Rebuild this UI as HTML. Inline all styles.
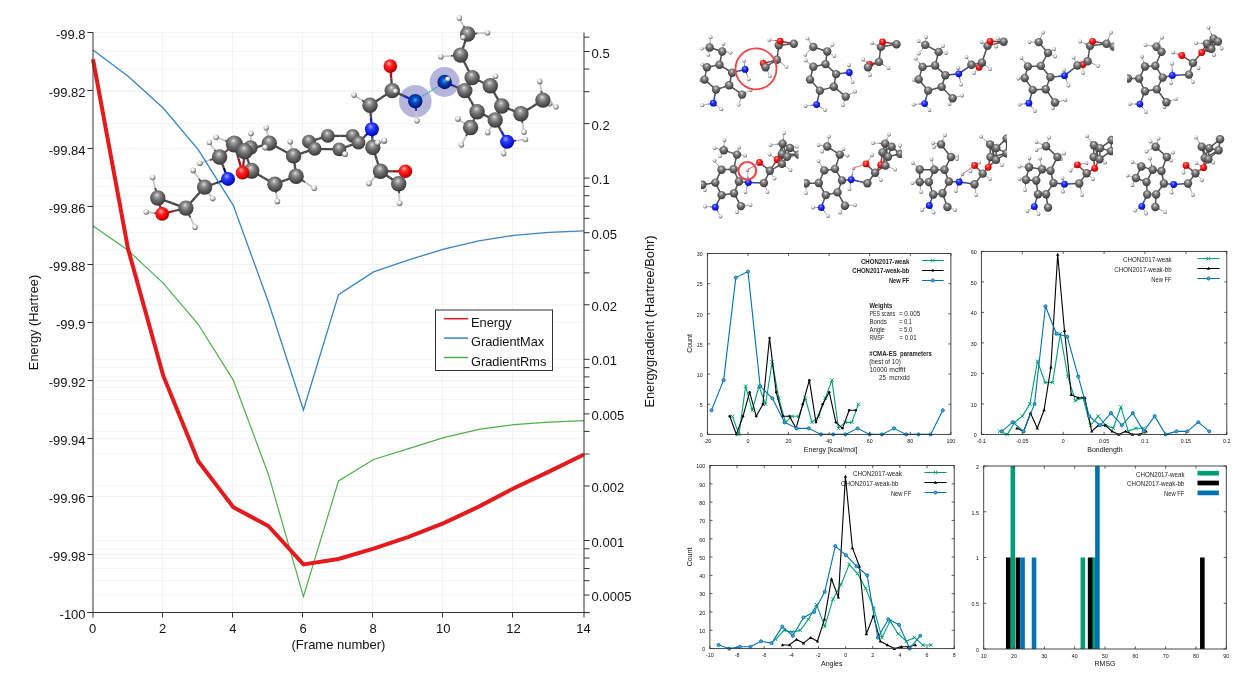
<!DOCTYPE html><html><head><meta charset="utf-8"><title>Frames</title><style>html,body{margin:0;padding:0;background:#fff;overflow:hidden}svg{display:block;will-change:transform}</style></head><body><svg width="1250" height="679" viewBox="0 0 1250 679"><defs>
<radialGradient id="gC" cx="0.45" cy="0.4" r="0.62" fx="0.45" fy="0.3">
 <stop offset="0" stop-color="#eeeeee"/><stop offset="0.16" stop-color="#ababab"/><stop offset="0.48" stop-color="#717171"/><stop offset="0.85" stop-color="#464646"/><stop offset="1" stop-color="#2a2a2a"/></radialGradient>
<radialGradient id="gN" cx="0.42" cy="0.38" r="0.62" fx="0.4" fy="0.3">
 <stop offset="0" stop-color="#9aa6ff"/><stop offset="0.35" stop-color="#2a3cff"/><stop offset="0.8" stop-color="#0a14d8"/><stop offset="1" stop-color="#000a90"/></radialGradient>
<radialGradient id="gM" cx="0.42" cy="0.38" r="0.62" fx="0.4" fy="0.3">
 <stop offset="0" stop-color="#9aa6ff"/><stop offset="0.35" stop-color="#2a3cff"/><stop offset="0.8" stop-color="#0a14d8"/><stop offset="1" stop-color="#000a90"/></radialGradient>
<radialGradient id="gO" cx="0.42" cy="0.38" r="0.62" fx="0.4" fy="0.3">
 <stop offset="0" stop-color="#ffb0b0"/><stop offset="0.35" stop-color="#ff2a2a"/><stop offset="0.8" stop-color="#e00000"/><stop offset="1" stop-color="#900000"/></radialGradient>
<radialGradient id="gH" cx="0.42" cy="0.38" r="0.62" fx="0.4" fy="0.3">
 <stop offset="0" stop-color="#ffffff"/><stop offset="0.4" stop-color="#e8e8e8"/><stop offset="0.75" stop-color="#a0a0a0"/><stop offset="1" stop-color="#555"/></radialGradient>
<radialGradient id="gD" cx="0.45" cy="0.4" r="0.62" fx="0.5" fy="0.42">
 <stop offset="0" stop-color="#30b8ff"/><stop offset="0.3" stop-color="#0a50c8"/><stop offset="0.75" stop-color="#00208a"/><stop offset="1" stop-color="#000c50"/></radialGradient>
</defs><rect width="1250" height="679" fill="#fff"/><g stroke="#f2f2f2" stroke-width="1"><line x1="162.5" y1="32.5" x2="162.5" y2="612.5"/><line x1="232.5" y1="32.5" x2="232.5" y2="612.5"/><line x1="302.5" y1="32.5" x2="302.5" y2="612.5"/><line x1="372.5" y1="32.5" x2="372.5" y2="612.5"/><line x1="442.5" y1="32.5" x2="442.5" y2="612.5"/><line x1="512.5" y1="32.5" x2="512.5" y2="612.5"/><line x1="93" y1="32.5" x2="584" y2="32.5"/><line x1="93" y1="90.5" x2="584" y2="90.5"/><line x1="93" y1="148.5" x2="584" y2="148.5"/><line x1="93" y1="206.5" x2="584" y2="206.5"/><line x1="93" y1="264.5" x2="584" y2="264.5"/><line x1="93" y1="322.5" x2="584" y2="322.5"/><line x1="93" y1="380.5" x2="584" y2="380.5"/><line x1="93" y1="438.5" x2="584" y2="438.5"/><line x1="93" y1="496.5" x2="584" y2="496.5"/><line x1="93" y1="554.5" x2="584" y2="554.5"/></g><g stroke="#f4f4f4" stroke-width="1"><line x1="93" y1="612.6" x2="584" y2="612.6"/><line x1="93" y1="595.04" x2="584" y2="595.04"/><line x1="93" y1="580.69" x2="584" y2="580.69"/><line x1="93" y1="568.56" x2="584" y2="568.56"/><line x1="93" y1="558.06" x2="584" y2="558.06"/><line x1="93" y1="548.79" x2="584" y2="548.79"/><line x1="93" y1="540.5" x2="584" y2="540.5"/><line x1="93" y1="485.96" x2="584" y2="485.96"/><line x1="93" y1="454.05" x2="584" y2="454.05"/><line x1="93" y1="431.42" x2="584" y2="431.42"/><line x1="93" y1="413.86" x2="584" y2="413.86"/><line x1="93" y1="399.51" x2="584" y2="399.51"/><line x1="93" y1="387.38" x2="584" y2="387.38"/><line x1="93" y1="376.88" x2="584" y2="376.88"/><line x1="93" y1="367.61" x2="584" y2="367.61"/><line x1="93" y1="359.32" x2="584" y2="359.32"/><line x1="93" y1="304.78" x2="584" y2="304.78"/><line x1="93" y1="272.87" x2="584" y2="272.87"/><line x1="93" y1="250.24" x2="584" y2="250.24"/><line x1="93" y1="232.68" x2="584" y2="232.68"/><line x1="93" y1="218.33" x2="584" y2="218.33"/><line x1="93" y1="206.2" x2="584" y2="206.2"/><line x1="93" y1="195.7" x2="584" y2="195.7"/><line x1="93" y1="186.43" x2="584" y2="186.43"/><line x1="93" y1="178.14" x2="584" y2="178.14"/><line x1="93" y1="123.6" x2="584" y2="123.6"/><line x1="93" y1="91.69" x2="584" y2="91.69"/><line x1="93" y1="69.06" x2="584" y2="69.06"/><line x1="93" y1="51.5" x2="584" y2="51.5"/><line x1="93" y1="37.15" x2="584" y2="37.15"/></g><g><circle cx="415.3" cy="101.2" r="16.3" fill="#a9a9d6" fill-opacity="0.85"/><circle cx="444.6" cy="82" r="15" fill="#a9a9d6" fill-opacity="0.85"/><line x1="418" y1="99" x2="442" y2="84" stroke="#2aa4c8" stroke-width="1.4" stroke-dasharray="1.6 1"/><line x1="157.8" y1="198" x2="160" y2="205.95" stroke="#4a4a4a" stroke-width="2.3"/><line x1="162.2" y1="213.9" x2="160" y2="205.95" stroke="#a81414" stroke-width="2.3"/><line x1="157.8" y1="198" x2="171.85" y2="203.05" stroke="#4a4a4a" stroke-width="2.3"/><line x1="185.9" y1="208.1" x2="171.85" y2="203.05" stroke="#4a4a4a" stroke-width="2.3"/><line x1="162.2" y1="213.9" x2="174.05" y2="211" stroke="#a81414" stroke-width="2.3"/><line x1="185.9" y1="208.1" x2="174.05" y2="211" stroke="#4a4a4a" stroke-width="2.3"/><line x1="185.9" y1="208.1" x2="195.25" y2="197.6" stroke="#4a4a4a" stroke-width="2.3"/><line x1="204.6" y1="187.1" x2="195.25" y2="197.6" stroke="#4a4a4a" stroke-width="2.3"/><line x1="204.6" y1="187.1" x2="216.3" y2="183" stroke="#4a4a4a" stroke-width="2.3"/><line x1="228" y1="178.9" x2="216.3" y2="183" stroke="#0a0a70" stroke-width="2.3"/><line x1="228" y1="178.9" x2="223.8" y2="167.95" stroke="#0a0a70" stroke-width="2.3"/><line x1="219.6" y1="157" x2="223.8" y2="167.95" stroke="#4a4a4a" stroke-width="2.3"/><line x1="219.6" y1="157" x2="226.95" y2="150.5" stroke="#4a4a4a" stroke-width="2.3"/><line x1="234.3" y1="144" x2="226.95" y2="150.5" stroke="#4a4a4a" stroke-width="2.3"/><line x1="234.3" y1="144" x2="239.55" y2="147.65" stroke="#4a4a4a" stroke-width="2.3"/><line x1="244.8" y1="151.3" x2="239.55" y2="147.65" stroke="#4a4a4a" stroke-width="2.3"/><line x1="234.3" y1="144" x2="238.4" y2="158.35" stroke="#4a4a4a" stroke-width="2.3"/><line x1="242.5" y1="172.7" x2="238.4" y2="158.35" stroke="#a81414" stroke-width="2.3"/><line x1="244.8" y1="151.3" x2="243.65" y2="162" stroke="#4a4a4a" stroke-width="2.3"/><line x1="242.5" y1="172.7" x2="243.65" y2="162" stroke="#a81414" stroke-width="2.3"/><line x1="244.8" y1="151.3" x2="248.15" y2="161.05" stroke="#4a4a4a" stroke-width="2.3"/><line x1="251.5" y1="170.8" x2="248.15" y2="161.05" stroke="#4a4a4a" stroke-width="2.3"/><line x1="251.5" y1="170.8" x2="263.2" y2="177.5" stroke="#4a4a4a" stroke-width="2.3"/><line x1="274.9" y1="184.2" x2="263.2" y2="177.5" stroke="#4a4a4a" stroke-width="2.3"/><line x1="274.9" y1="184.2" x2="285.5" y2="180.2" stroke="#4a4a4a" stroke-width="2.3"/><line x1="296.1" y1="176.2" x2="285.5" y2="180.2" stroke="#4a4a4a" stroke-width="2.3"/><line x1="296.1" y1="176.2" x2="294.85" y2="166.05" stroke="#4a4a4a" stroke-width="2.3"/><line x1="293.6" y1="155.9" x2="294.85" y2="166.05" stroke="#4a4a4a" stroke-width="2.3"/><line x1="293.6" y1="155.9" x2="281.45" y2="149.5" stroke="#4a4a4a" stroke-width="2.3"/><line x1="269.3" y1="143.1" x2="281.45" y2="149.5" stroke="#4a4a4a" stroke-width="2.3"/><line x1="269.3" y1="143.1" x2="257.05" y2="147.2" stroke="#4a4a4a" stroke-width="2.3"/><line x1="244.8" y1="151.3" x2="257.05" y2="147.2" stroke="#4a4a4a" stroke-width="2.3"/><line x1="293.6" y1="155.9" x2="304.15" y2="152.35" stroke="#4a4a4a" stroke-width="2.3"/><line x1="314.7" y1="148.8" x2="304.15" y2="152.35" stroke="#4a4a4a" stroke-width="2.3"/><line x1="308.9" y1="141.7" x2="311.8" y2="145.25" stroke="#4a4a4a" stroke-width="2.3"/><line x1="314.7" y1="148.8" x2="311.8" y2="145.25" stroke="#4a4a4a" stroke-width="2.3"/><line x1="308.9" y1="141.7" x2="318.35" y2="138.8" stroke="#4a4a4a" stroke-width="2.3"/><line x1="327.8" y1="135.9" x2="318.35" y2="138.8" stroke="#4a4a4a" stroke-width="2.3"/><line x1="327.8" y1="135.9" x2="340.25" y2="135.9" stroke="#4a4a4a" stroke-width="2.3"/><line x1="352.7" y1="135.9" x2="340.25" y2="135.9" stroke="#4a4a4a" stroke-width="2.3"/><line x1="352.7" y1="135.9" x2="355.6" y2="139.25" stroke="#4a4a4a" stroke-width="2.3"/><line x1="358.5" y1="142.6" x2="355.6" y2="139.25" stroke="#4a4a4a" stroke-width="2.3"/><line x1="358.5" y1="142.6" x2="348.9" y2="145.95" stroke="#4a4a4a" stroke-width="2.3"/><line x1="339.3" y1="149.3" x2="348.9" y2="145.95" stroke="#4a4a4a" stroke-width="2.3"/><line x1="339.3" y1="149.3" x2="327" y2="149.05" stroke="#4a4a4a" stroke-width="2.3"/><line x1="314.7" y1="148.8" x2="327" y2="149.05" stroke="#4a4a4a" stroke-width="2.3"/><line x1="358.5" y1="142.6" x2="365.2" y2="135.9" stroke="#4a4a4a" stroke-width="2.3"/><line x1="371.9" y1="129.2" x2="365.2" y2="135.9" stroke="#1c22b8" stroke-width="2.3"/><line x1="371.9" y1="129.2" x2="370.95" y2="117.25" stroke="#1c22b8" stroke-width="2.3"/><line x1="370" y1="105.3" x2="370.95" y2="117.25" stroke="#4a4a4a" stroke-width="2.3"/><line x1="371.9" y1="129.2" x2="372.35" y2="138.3" stroke="#1c22b8" stroke-width="2.3"/><line x1="372.8" y1="147.4" x2="372.35" y2="138.3" stroke="#4a4a4a" stroke-width="2.3"/><line x1="372.8" y1="147.4" x2="376.65" y2="159.35" stroke="#4a4a4a" stroke-width="2.3"/><line x1="380.5" y1="171.3" x2="376.65" y2="159.35" stroke="#4a4a4a" stroke-width="2.3"/><line x1="380.5" y1="171.3" x2="392.95" y2="171.3" stroke="#4a4a4a" stroke-width="2.3"/><line x1="405.4" y1="171.3" x2="392.95" y2="171.3" stroke="#a81414" stroke-width="2.3"/><line x1="380.5" y1="171.3" x2="389.6" y2="177.55" stroke="#4a4a4a" stroke-width="2.3"/><line x1="398.7" y1="183.8" x2="389.6" y2="177.55" stroke="#4a4a4a" stroke-width="2.3"/><line x1="405.4" y1="171.3" x2="402.05" y2="177.55" stroke="#a81414" stroke-width="2.3"/><line x1="398.7" y1="183.8" x2="402.05" y2="177.55" stroke="#4a4a4a" stroke-width="2.3"/><line x1="370" y1="105.3" x2="381.1" y2="97.95" stroke="#4a4a4a" stroke-width="2.3"/><line x1="392.2" y1="90.6" x2="381.1" y2="97.95" stroke="#4a4a4a" stroke-width="2.3"/><line x1="392.2" y1="90.6" x2="391.25" y2="78.35" stroke="#4a4a4a" stroke-width="2.3"/><line x1="390.3" y1="66.1" x2="391.25" y2="78.35" stroke="#a81414" stroke-width="2.3"/><line x1="392.2" y1="90.6" x2="403.75" y2="95.9" stroke="#4a4a4a" stroke-width="2.3"/><line x1="415.3" y1="101.2" x2="403.75" y2="95.9" stroke="#1c22c8" stroke-width="2.3"/><line x1="444.6" y1="82" x2="454.7" y2="86.3" stroke="#1c22c8" stroke-width="2.3"/><line x1="464.8" y1="90.6" x2="454.7" y2="86.3" stroke="#4a4a4a" stroke-width="2.3"/><line x1="464.8" y1="90.6" x2="468.45" y2="84.1" stroke="#4a4a4a" stroke-width="2.3"/><line x1="472.1" y1="77.6" x2="468.45" y2="84.1" stroke="#4a4a4a" stroke-width="2.3"/><line x1="464.8" y1="90.6" x2="470.95" y2="101.2" stroke="#4a4a4a" stroke-width="2.3"/><line x1="477.1" y1="111.8" x2="470.95" y2="101.2" stroke="#4a4a4a" stroke-width="2.3"/><line x1="472.1" y1="77.6" x2="466.35" y2="66.35" stroke="#4a4a4a" stroke-width="2.3"/><line x1="460.6" y1="55.1" x2="466.35" y2="66.35" stroke="#4a4a4a" stroke-width="2.3"/><line x1="460.6" y1="55.1" x2="464.15" y2="44.55" stroke="#4a4a4a" stroke-width="2.3"/><line x1="467.7" y1="34" x2="464.15" y2="44.55" stroke="#4a4a4a" stroke-width="2.3"/><line x1="472.1" y1="77.6" x2="481.2" y2="81.7" stroke="#4a4a4a" stroke-width="2.3"/><line x1="490.3" y1="85.8" x2="481.2" y2="81.7" stroke="#4a4a4a" stroke-width="2.3"/><line x1="490.3" y1="85.8" x2="496" y2="95.9" stroke="#4a4a4a" stroke-width="2.3"/><line x1="501.7" y1="106" x2="496" y2="95.9" stroke="#4a4a4a" stroke-width="2.3"/><line x1="501.7" y1="106" x2="498.45" y2="113" stroke="#4a4a4a" stroke-width="2.3"/><line x1="495.2" y1="120" x2="498.45" y2="113" stroke="#4a4a4a" stroke-width="2.3"/><line x1="495.2" y1="120" x2="486.15" y2="115.9" stroke="#4a4a4a" stroke-width="2.3"/><line x1="477.1" y1="111.8" x2="486.15" y2="115.9" stroke="#4a4a4a" stroke-width="2.3"/><line x1="501.7" y1="106" x2="511.3" y2="109.85" stroke="#4a4a4a" stroke-width="2.3"/><line x1="520.9" y1="113.7" x2="511.3" y2="109.85" stroke="#4a4a4a" stroke-width="2.3"/><line x1="520.9" y1="113.7" x2="531.9" y2="106.9" stroke="#4a4a4a" stroke-width="2.3"/><line x1="542.9" y1="100.1" x2="531.9" y2="106.9" stroke="#4a4a4a" stroke-width="2.3"/><line x1="477.1" y1="111.8" x2="473.85" y2="119.65" stroke="#4a4a4a" stroke-width="2.3"/><line x1="470.6" y1="127.5" x2="473.85" y2="119.65" stroke="#4a4a4a" stroke-width="2.3"/><line x1="495.2" y1="120" x2="501.15" y2="130.85" stroke="#4a4a4a" stroke-width="2.3"/><line x1="507.1" y1="141.7" x2="501.15" y2="130.85" stroke="#1c22b8" stroke-width="2.3"/><line x1="157.8" y1="198" x2="155.2" y2="187.75" stroke="#4a4a4a" stroke-width="1.9"/><line x1="152.6" y1="177.5" x2="155.2" y2="187.75" stroke="#c8c8c8" stroke-width="1.9"/><line x1="162.2" y1="213.9" x2="154.25" y2="212.95" stroke="#a81414" stroke-width="1.9"/><line x1="146.3" y1="212" x2="154.25" y2="212.95" stroke="#c8c8c8" stroke-width="1.9"/><line x1="185.9" y1="208.1" x2="190.45" y2="217.7" stroke="#4a4a4a" stroke-width="1.9"/><line x1="195" y1="227.3" x2="190.45" y2="217.7" stroke="#c8c8c8" stroke-width="1.9"/><line x1="204.6" y1="187.1" x2="198.9" y2="178.75" stroke="#4a4a4a" stroke-width="1.9"/><line x1="193.2" y1="170.4" x2="198.9" y2="178.75" stroke="#c8c8c8" stroke-width="1.9"/><line x1="204.6" y1="187.1" x2="208.65" y2="192.85" stroke="#4a4a4a" stroke-width="1.9"/><line x1="212.7" y1="198.6" x2="208.65" y2="192.85" stroke="#c8c8c8" stroke-width="1.9"/><line x1="219.6" y1="157" x2="209.75" y2="160.1" stroke="#4a4a4a" stroke-width="1.9"/><line x1="199.9" y1="163.2" x2="209.75" y2="160.1" stroke="#c8c8c8" stroke-width="1.9"/><line x1="219.6" y1="157" x2="214.5" y2="149.75" stroke="#4a4a4a" stroke-width="1.9"/><line x1="209.4" y1="142.5" x2="214.5" y2="149.75" stroke="#c8c8c8" stroke-width="1.9"/><line x1="234.3" y1="144" x2="225.2" y2="140.65" stroke="#4a4a4a" stroke-width="1.9"/><line x1="216.1" y1="137.3" x2="225.2" y2="140.65" stroke="#c8c8c8" stroke-width="1.9"/><line x1="250.5" y1="147.5" x2="250.75" y2="140.5" stroke="#4a4a4a" stroke-width="1.9"/><line x1="251" y1="133.5" x2="250.75" y2="140.5" stroke="#c8c8c8" stroke-width="1.9"/><line x1="269.3" y1="143.1" x2="267.8" y2="135.45" stroke="#4a4a4a" stroke-width="1.9"/><line x1="266.3" y1="127.8" x2="267.8" y2="135.45" stroke="#c8c8c8" stroke-width="1.9"/><line x1="269.3" y1="143.1" x2="267.2" y2="145.3" stroke="#4a4a4a" stroke-width="1.9"/><line x1="265.1" y1="147.5" x2="267.2" y2="145.3" stroke="#c8c8c8" stroke-width="1.9"/><line x1="293.6" y1="155.9" x2="291.9" y2="148.8" stroke="#4a4a4a" stroke-width="1.9"/><line x1="290.2" y1="141.7" x2="291.9" y2="148.8" stroke="#c8c8c8" stroke-width="1.9"/><line x1="296.1" y1="176.2" x2="305.15" y2="182.25" stroke="#4a4a4a" stroke-width="1.9"/><line x1="314.2" y1="188.3" x2="305.15" y2="182.25" stroke="#c8c8c8" stroke-width="1.9"/><line x1="274.9" y1="184.2" x2="276.15" y2="192.8" stroke="#4a4a4a" stroke-width="1.9"/><line x1="277.4" y1="201.4" x2="276.15" y2="192.8" stroke="#c8c8c8" stroke-width="1.9"/><line x1="339.3" y1="149.3" x2="342.15" y2="151.7" stroke="#4a4a4a" stroke-width="1.9"/><line x1="345" y1="154.1" x2="342.15" y2="151.7" stroke="#c8c8c8" stroke-width="1.9"/><line x1="372.8" y1="147.4" x2="378.55" y2="144.05" stroke="#4a4a4a" stroke-width="1.9"/><line x1="384.3" y1="140.7" x2="378.55" y2="144.05" stroke="#c8c8c8" stroke-width="1.9"/><line x1="372.8" y1="147.4" x2="375.2" y2="145" stroke="#4a4a4a" stroke-width="1.9"/><line x1="377.6" y1="142.6" x2="375.2" y2="145" stroke="#c8c8c8" stroke-width="1.9"/><line x1="380.5" y1="171.3" x2="374.75" y2="177.35" stroke="#4a4a4a" stroke-width="1.9"/><line x1="369" y1="183.4" x2="374.75" y2="177.35" stroke="#c8c8c8" stroke-width="1.9"/><line x1="398.7" y1="183.8" x2="399.15" y2="193.55" stroke="#4a4a4a" stroke-width="1.9"/><line x1="399.6" y1="203.3" x2="399.15" y2="193.55" stroke="#c8c8c8" stroke-width="1.9"/><line x1="370" y1="105.3" x2="362" y2="100.2" stroke="#4a4a4a" stroke-width="1.9"/><line x1="354" y1="95.1" x2="362" y2="100.2" stroke="#c8c8c8" stroke-width="1.9"/><line x1="415.3" y1="101.2" x2="416.15" y2="111" stroke="#1c22c8" stroke-width="1.9"/><line x1="417" y1="120.8" x2="416.15" y2="111" stroke="#c8c8c8" stroke-width="1.9"/><line x1="467.7" y1="34" x2="463.55" y2="26.05" stroke="#4a4a4a" stroke-width="1.9"/><line x1="459.4" y1="18.1" x2="463.55" y2="26.05" stroke="#c8c8c8" stroke-width="1.9"/><line x1="467.7" y1="34" x2="477.6" y2="33.35" stroke="#4a4a4a" stroke-width="1.9"/><line x1="487.5" y1="32.7" x2="477.6" y2="33.35" stroke="#c8c8c8" stroke-width="1.9"/><line x1="467.7" y1="34" x2="465.3" y2="35.45" stroke="#4a4a4a" stroke-width="1.9"/><line x1="462.9" y1="36.9" x2="465.3" y2="35.45" stroke="#c8c8c8" stroke-width="1.9"/><line x1="460.6" y1="55.1" x2="450.7" y2="55.9" stroke="#4a4a4a" stroke-width="1.9"/><line x1="440.8" y1="56.7" x2="450.7" y2="55.9" stroke="#c8c8c8" stroke-width="1.9"/><line x1="490.3" y1="85.8" x2="492.9" y2="81" stroke="#4a4a4a" stroke-width="1.9"/><line x1="495.5" y1="76.2" x2="492.9" y2="81" stroke="#c8c8c8" stroke-width="1.9"/><line x1="444.6" y1="82" x2="446.55" y2="81.7" stroke="#1c22c8" stroke-width="1.9"/><line x1="448.5" y1="81.4" x2="446.55" y2="81.7" stroke="#c8c8c8" stroke-width="1.9"/><line x1="392.2" y1="90.6" x2="393.95" y2="90.1" stroke="#4a4a4a" stroke-width="1.9"/><line x1="395.7" y1="89.6" x2="393.95" y2="90.1" stroke="#c8c8c8" stroke-width="1.9"/><line x1="542.9" y1="100.1" x2="541.3" y2="90.75" stroke="#4a4a4a" stroke-width="1.9"/><line x1="539.7" y1="81.4" x2="541.3" y2="90.75" stroke="#c8c8c8" stroke-width="1.9"/><line x1="542.9" y1="100.1" x2="549.45" y2="103.45" stroke="#4a4a4a" stroke-width="1.9"/><line x1="556" y1="106.8" x2="549.45" y2="103.45" stroke="#c8c8c8" stroke-width="1.9"/><line x1="520.9" y1="113.7" x2="522.45" y2="122.9" stroke="#4a4a4a" stroke-width="1.9"/><line x1="524" y1="132.1" x2="522.45" y2="122.9" stroke="#c8c8c8" stroke-width="1.9"/><line x1="470.6" y1="127.5" x2="464.25" y2="123.2" stroke="#4a4a4a" stroke-width="1.9"/><line x1="457.9" y1="118.9" x2="464.25" y2="123.2" stroke="#c8c8c8" stroke-width="1.9"/><line x1="470.6" y1="127.5" x2="466" y2="136.15" stroke="#4a4a4a" stroke-width="1.9"/><line x1="461.4" y1="144.8" x2="466" y2="136.15" stroke="#c8c8c8" stroke-width="1.9"/><line x1="495.2" y1="120" x2="491.45" y2="126.2" stroke="#4a4a4a" stroke-width="1.9"/><line x1="487.7" y1="132.4" x2="491.45" y2="126.2" stroke="#c8c8c8" stroke-width="1.9"/><line x1="507.1" y1="141.7" x2="505.35" y2="147.65" stroke="#1c22b8" stroke-width="1.9"/><line x1="503.6" y1="153.6" x2="505.35" y2="147.65" stroke="#c8c8c8" stroke-width="1.9"/><line x1="507.1" y1="141.7" x2="516.25" y2="140.6" stroke="#1c22b8" stroke-width="1.9"/><line x1="525.4" y1="139.5" x2="516.25" y2="140.6" stroke="#c8c8c8" stroke-width="1.9"/><line x1="542.9" y1="100.1" x2="546.25" y2="101.85" stroke="#4a4a4a" stroke-width="1.9"/><line x1="549.6" y1="103.6" x2="546.25" y2="101.85" stroke="#c8c8c8" stroke-width="1.9"/><circle cx="152.6" cy="177.5" r="2.8" fill="url(#gH)"/><circle cx="146.3" cy="212" r="2.8" fill="url(#gH)"/><circle cx="195" cy="227.3" r="2.8" fill="url(#gH)"/><circle cx="193.2" cy="170.4" r="2.8" fill="url(#gH)"/><circle cx="212.7" cy="198.6" r="2.8" fill="url(#gH)"/><circle cx="199.9" cy="163.2" r="2.8" fill="url(#gH)"/><circle cx="209.4" cy="142.5" r="2.8" fill="url(#gH)"/><circle cx="216.1" cy="137.3" r="2.8" fill="url(#gH)"/><circle cx="251" cy="133.5" r="2.8" fill="url(#gH)"/><circle cx="266.3" cy="127.8" r="2.8" fill="url(#gH)"/><circle cx="265.1" cy="147.5" r="2.8" fill="url(#gH)"/><circle cx="290.2" cy="141.7" r="2.8" fill="url(#gH)"/><circle cx="314.2" cy="188.3" r="2.8" fill="url(#gH)"/><circle cx="277.4" cy="201.4" r="2.8" fill="url(#gH)"/><circle cx="345" cy="154.1" r="2.8" fill="url(#gH)"/><circle cx="384.3" cy="140.7" r="2.8" fill="url(#gH)"/><circle cx="377.6" cy="142.6" r="2.8" fill="url(#gH)"/><circle cx="369" cy="183.4" r="2.8" fill="url(#gH)"/><circle cx="399.6" cy="203.3" r="2.8" fill="url(#gH)"/><circle cx="354" cy="95.1" r="2.8" fill="url(#gH)"/><circle cx="417" cy="120.8" r="2.8" fill="url(#gH)"/><circle cx="459.4" cy="18.1" r="2.8" fill="url(#gH)"/><circle cx="487.5" cy="32.7" r="2.8" fill="url(#gH)"/><circle cx="462.9" cy="36.9" r="2.8" fill="url(#gH)"/><circle cx="440.8" cy="56.7" r="2.8" fill="url(#gH)"/><circle cx="495.5" cy="76.2" r="2.8" fill="url(#gH)"/><circle cx="448.5" cy="81.4" r="2.8" fill="url(#gH)"/><circle cx="395.7" cy="89.6" r="2.8" fill="url(#gH)"/><circle cx="539.7" cy="81.4" r="2.8" fill="url(#gH)"/><circle cx="556" cy="106.8" r="2.8" fill="url(#gH)"/><circle cx="524" cy="132.1" r="2.8" fill="url(#gH)"/><circle cx="457.9" cy="118.9" r="2.8" fill="url(#gH)"/><circle cx="461.4" cy="144.8" r="2.8" fill="url(#gH)"/><circle cx="487.7" cy="132.4" r="2.8" fill="url(#gH)"/><circle cx="503.6" cy="153.6" r="2.8" fill="url(#gH)"/><circle cx="525.4" cy="139.5" r="2.8" fill="url(#gH)"/><circle cx="549.6" cy="103.6" r="2.8" fill="url(#gH)"/><circle cx="157.8" cy="198" r="7.7" fill="url(#gC)"/><circle cx="162.2" cy="213.9" r="6.8" fill="url(#gO)"/><circle cx="185.9" cy="208.1" r="7.7" fill="url(#gC)"/><circle cx="204.6" cy="187.1" r="7.7" fill="url(#gC)"/><circle cx="228" cy="178.9" r="7" fill="url(#gM)"/><circle cx="219.6" cy="157" r="7.7" fill="url(#gC)"/><circle cx="250.5" cy="147.5" r="7.3" fill="url(#gC)"/><circle cx="234.3" cy="144" r="8.6" fill="url(#gC)"/><circle cx="244.8" cy="151.3" r="8.2" fill="url(#gC)"/><circle cx="251.5" cy="170.8" r="8" fill="url(#gC)"/><circle cx="242.5" cy="172.7" r="6.8" fill="url(#gO)"/><circle cx="269.3" cy="143.1" r="7.7" fill="url(#gC)"/><circle cx="293.6" cy="155.9" r="7.7" fill="url(#gC)"/><circle cx="296.1" cy="176.2" r="7.7" fill="url(#gC)"/><circle cx="274.9" cy="184.2" r="7.7" fill="url(#gC)"/><circle cx="308.9" cy="141.7" r="6.9" fill="url(#gC)"/><circle cx="314.7" cy="148.8" r="6.9" fill="url(#gC)"/><circle cx="327.8" cy="135.9" r="6.9" fill="url(#gC)"/><circle cx="339.3" cy="149.3" r="6.9" fill="url(#gC)"/><circle cx="352.7" cy="135.9" r="6.9" fill="url(#gC)"/><circle cx="358.5" cy="142.6" r="6.9" fill="url(#gC)"/><circle cx="371.9" cy="129.2" r="7" fill="url(#gN)"/><circle cx="372.8" cy="147.4" r="7.7" fill="url(#gC)"/><circle cx="370" cy="105.3" r="7.7" fill="url(#gC)"/><circle cx="392.2" cy="90.6" r="7.7" fill="url(#gC)"/><circle cx="390.3" cy="66.1" r="6.8" fill="url(#gO)"/><circle cx="415.3" cy="101.2" r="7.2" fill="url(#gD)"/><circle cx="444.6" cy="82" r="7.2" fill="url(#gD)"/><circle cx="464.8" cy="90.6" r="7.7" fill="url(#gC)"/><circle cx="472.1" cy="77.6" r="7.7" fill="url(#gC)"/><circle cx="460.6" cy="55.1" r="7.7" fill="url(#gC)"/><circle cx="467.7" cy="34" r="7.7" fill="url(#gC)"/><circle cx="490.3" cy="85.8" r="7.7" fill="url(#gC)"/><circle cx="501.7" cy="106" r="7.7" fill="url(#gC)"/><circle cx="477.1" cy="111.8" r="7.7" fill="url(#gC)"/><circle cx="495.2" cy="120" r="7.7" fill="url(#gC)"/><circle cx="520.9" cy="113.7" r="7.7" fill="url(#gC)"/><circle cx="542.9" cy="100.1" r="7.7" fill="url(#gC)"/><circle cx="470.6" cy="127.5" r="7.7" fill="url(#gC)"/><circle cx="507.1" cy="141.7" r="7" fill="url(#gN)"/><circle cx="380.5" cy="171.3" r="7.7" fill="url(#gC)"/><circle cx="405.4" cy="171.3" r="6.8" fill="url(#gO)"/><circle cx="398.7" cy="183.8" r="7.7" fill="url(#gC)"/><circle cx="447.8" cy="79.2" r="2.6" fill="url(#gH)"/><circle cx="395.5" cy="91.2" r="2.6" fill="url(#gH)"/><circle cx="463.2" cy="37.4" r="2.6" fill="url(#gH)"/><circle cx="345" cy="154.1" r="2.9" fill="url(#gH)"/><circle cx="377.6" cy="142.6" r="2.9" fill="url(#gH)"/><circle cx="384.3" cy="140.7" r="2.9" fill="url(#gH)"/><circle cx="265.1" cy="147.5" r="2.9" fill="url(#gH)"/></g><polyline points="93,226.1 128.07,250.3 163.14,283.1 198.21,324.3 233.29,380.1 268.36,474.2 303.43,596.7 338.5,481 373.57,459.5 408.64,448.6 443.71,437.7 478.79,429.4 513.86,424.7 548.93,422.1 584,420.6" fill="none" stroke="#4daf4a" stroke-width="1.2" stroke-linejoin="miter" stroke-miterlimit="10"/><polyline points="93,50.1 128.07,76.2 163.14,108 198.21,149.6 233.29,205.3 268.36,302 303.43,410 338.5,294.6 373.57,271.9 408.64,259.9 443.71,249.2 478.79,240.8 513.86,235.3 548.93,232.4 584,230.8" fill="none" stroke="#3a84c0" stroke-width="1.3" stroke-linejoin="miter" stroke-miterlimit="10"/><polyline points="93,59.4 128.07,249 163.14,375.4 198.21,461.2 233.29,507.2 268.36,526 303.43,564.4 338.5,559 373.57,548.7 408.64,536.9 443.71,523.1 478.79,506.6 513.86,488.3 548.93,471.6 584,454.5" fill="none" stroke="#e41a1c" stroke-width="4" stroke-linejoin="miter" stroke-miterlimit="10"/><line x1="93" y1="32.5" x2="93" y2="617.5" stroke="#333" stroke-width="1"/><line x1="584" y1="32.5" x2="584" y2="617.5" stroke="#333" stroke-width="1"/><line x1="87.5" y1="612.5" x2="589.5" y2="612.5" stroke="#333" stroke-width="1"/><line x1="87.5" y1="32.5" x2="93" y2="32.5" stroke="#333"/><line x1="87.5" y1="90.5" x2="93" y2="90.5" stroke="#333"/><line x1="87.5" y1="148.5" x2="93" y2="148.5" stroke="#333"/><line x1="87.5" y1="206.5" x2="93" y2="206.5" stroke="#333"/><line x1="87.5" y1="264.5" x2="93" y2="264.5" stroke="#333"/><line x1="87.5" y1="322.5" x2="93" y2="322.5" stroke="#333"/><line x1="87.5" y1="380.5" x2="93" y2="380.5" stroke="#333"/><line x1="87.5" y1="438.5" x2="93" y2="438.5" stroke="#333"/><line x1="87.5" y1="496.5" x2="93" y2="496.5" stroke="#333"/><line x1="87.5" y1="554.5" x2="93" y2="554.5" stroke="#333"/><line x1="87.5" y1="612.5" x2="93" y2="612.5" stroke="#333"/><line x1="584" y1="612.6" x2="589.5" y2="612.6" stroke="#333"/><line x1="584" y1="595.04" x2="589.5" y2="595.04" stroke="#333"/><line x1="584" y1="580.69" x2="589.5" y2="580.69" stroke="#333"/><line x1="584" y1="568.56" x2="589.5" y2="568.56" stroke="#333"/><line x1="584" y1="558.06" x2="589.5" y2="558.06" stroke="#333"/><line x1="584" y1="548.79" x2="589.5" y2="548.79" stroke="#333"/><line x1="584" y1="540.5" x2="589.5" y2="540.5" stroke="#333"/><line x1="584" y1="485.96" x2="589.5" y2="485.96" stroke="#333"/><line x1="584" y1="454.05" x2="589.5" y2="454.05" stroke="#333"/><line x1="584" y1="431.42" x2="589.5" y2="431.42" stroke="#333"/><line x1="584" y1="413.86" x2="589.5" y2="413.86" stroke="#333"/><line x1="584" y1="399.51" x2="589.5" y2="399.51" stroke="#333"/><line x1="584" y1="387.38" x2="589.5" y2="387.38" stroke="#333"/><line x1="584" y1="376.88" x2="589.5" y2="376.88" stroke="#333"/><line x1="584" y1="367.61" x2="589.5" y2="367.61" stroke="#333"/><line x1="584" y1="359.32" x2="589.5" y2="359.32" stroke="#333"/><line x1="584" y1="304.78" x2="589.5" y2="304.78" stroke="#333"/><line x1="584" y1="272.87" x2="589.5" y2="272.87" stroke="#333"/><line x1="584" y1="250.24" x2="589.5" y2="250.24" stroke="#333"/><line x1="584" y1="232.68" x2="589.5" y2="232.68" stroke="#333"/><line x1="584" y1="218.33" x2="589.5" y2="218.33" stroke="#333"/><line x1="584" y1="206.2" x2="589.5" y2="206.2" stroke="#333"/><line x1="584" y1="195.7" x2="589.5" y2="195.7" stroke="#333"/><line x1="584" y1="186.43" x2="589.5" y2="186.43" stroke="#333"/><line x1="584" y1="178.14" x2="589.5" y2="178.14" stroke="#333"/><line x1="584" y1="123.6" x2="589.5" y2="123.6" stroke="#333"/><line x1="584" y1="91.69" x2="589.5" y2="91.69" stroke="#333"/><line x1="584" y1="69.06" x2="589.5" y2="69.06" stroke="#333"/><line x1="584" y1="51.5" x2="589.5" y2="51.5" stroke="#333"/><line x1="584" y1="37.15" x2="589.5" y2="37.15" stroke="#333"/><line x1="162.5" y1="612.5" x2="162.5" y2="617.5" stroke="#333"/><line x1="232.5" y1="612.5" x2="232.5" y2="617.5" stroke="#333"/><line x1="302.5" y1="612.5" x2="302.5" y2="617.5" stroke="#333"/><line x1="372.5" y1="612.5" x2="372.5" y2="617.5" stroke="#333"/><line x1="442.5" y1="612.5" x2="442.5" y2="617.5" stroke="#333"/><line x1="512.5" y1="612.5" x2="512.5" y2="617.5" stroke="#333"/><g font-family='"Liberation Sans", Arial, sans-serif' font-size="13" fill="#111"><text x="85.6" y="38.7" text-anchor="end">-99.8</text><text x="85.6" y="96.7" text-anchor="end">-99.82</text><text x="85.6" y="154.7" text-anchor="end">-99.84</text><text x="85.6" y="212.7" text-anchor="end">-99.86</text><text x="85.6" y="270.7" text-anchor="end">-99.88</text><text x="85.6" y="328.7" text-anchor="end">-99.9</text><text x="85.6" y="386.7" text-anchor="end">-99.92</text><text x="85.6" y="444.7" text-anchor="end">-99.94</text><text x="85.6" y="502.7" text-anchor="end">-99.96</text><text x="85.6" y="560.7" text-anchor="end">-99.98</text><text x="85.6" y="618.7" text-anchor="end">-100</text><text x="591.6" y="57.5">0.5</text><text x="591.6" y="129.6">0.2</text><text x="591.6" y="184.14">0.1</text><text x="591.6" y="238.68">0.05</text><text x="591.6" y="310.78">0.02</text><text x="591.6" y="365.32">0.01</text><text x="591.6" y="419.86">0.005</text><text x="591.6" y="491.96">0.002</text><text x="591.6" y="546.5">0.001</text><text x="591.6" y="601.04">0.0005</text><text x="92.6" y="633" text-anchor="middle">0</text><text x="162.74" y="633" text-anchor="middle">2</text><text x="232.88" y="633" text-anchor="middle">4</text><text x="303.02" y="633" text-anchor="middle">6</text><text x="373.16" y="633" text-anchor="middle">8</text><text x="443.3" y="633" text-anchor="middle">10</text><text x="513.44" y="633" text-anchor="middle">12</text><text x="583.58" y="633" text-anchor="middle">14</text><text x="338.5" y="649" text-anchor="middle">(Frame number)</text><text transform="translate(38.3,322.5) rotate(-90)" text-anchor="middle" font-size="12.8">Energy (Hartree)</text><text transform="translate(653.8,321.5) rotate(-90)" text-anchor="middle" font-size="12.8">Energygradient (Hartree/Bohr)</text></g><rect x="435.5" y="310" width="117" height="60.5" fill="#fff" stroke="#333" stroke-width="1"/><line x1="444" y1="318.7" x2="468" y2="318.7" stroke="#e41a1c" stroke-width="1.5"/><text x="471" y="327" font-family='"Liberation Sans", Arial, sans-serif' font-size="12.8" fill="#111">Energy</text><line x1="444" y1="338.1" x2="468" y2="338.1" stroke="#3a84c0" stroke-width="1.5"/><text x="471" y="346.4" font-family='"Liberation Sans", Arial, sans-serif' font-size="12.8" fill="#111">GradientMax</text><line x1="444" y1="357.5" x2="468" y2="357.5" stroke="#4daf4a" stroke-width="1.5"/><text x="471" y="365.8" font-family='"Liberation Sans", Arial, sans-serif' font-size="12.8" fill="#111">GradientRms</text><clipPath id="tc0"><rect x="699" y="0" width="100" height="240"/></clipPath><g clip-path="url(#tc0)"><line x1="709.6" y1="47.5" x2="715.9" y2="49.5" stroke="#4c4c4c" stroke-width="1.5"/><line x1="722.2" y1="51.5" x2="715.9" y2="49.5" stroke="#4c4c4c" stroke-width="1.5"/><line x1="722.2" y1="51.5" x2="720.85" y2="58.15" stroke="#4c4c4c" stroke-width="1.5"/><line x1="719.5" y1="64.8" x2="720.85" y2="58.15" stroke="#4c4c4c" stroke-width="1.5"/><line x1="719.5" y1="64.8" x2="713.2" y2="66" stroke="#4c4c4c" stroke-width="1.5"/><line x1="706.9" y1="67.2" x2="713.2" y2="66" stroke="#4c4c4c" stroke-width="1.5"/><line x1="719.5" y1="64.8" x2="725.8" y2="68.75" stroke="#4c4c4c" stroke-width="1.5"/><line x1="732.1" y1="72.7" x2="725.8" y2="68.75" stroke="#4c4c4c" stroke-width="1.5"/><line x1="706.9" y1="67.2" x2="705.7" y2="73.4" stroke="#4c4c4c" stroke-width="1.5"/><line x1="704.5" y1="79.6" x2="705.7" y2="73.4" stroke="#4c4c4c" stroke-width="1.5"/><line x1="704.5" y1="79.6" x2="710.25" y2="84.6" stroke="#4c4c4c" stroke-width="1.5"/><line x1="716" y1="89.6" x2="710.25" y2="84.6" stroke="#4c4c4c" stroke-width="1.5"/><line x1="716" y1="89.6" x2="722.6" y2="87.45" stroke="#4c4c4c" stroke-width="1.5"/><line x1="729.2" y1="85.3" x2="722.6" y2="87.45" stroke="#4c4c4c" stroke-width="1.5"/><line x1="716" y1="89.6" x2="714.65" y2="96.4" stroke="#4c4c4c" stroke-width="1.5"/><line x1="713.3" y1="103.2" x2="714.65" y2="96.4" stroke="#2838d0" stroke-width="1.5"/><line x1="729.2" y1="85.3" x2="730.65" y2="79" stroke="#4c4c4c" stroke-width="1.5"/><line x1="732.1" y1="72.7" x2="730.65" y2="79" stroke="#4c4c4c" stroke-width="1.5"/><line x1="729.2" y1="85.3" x2="735.65" y2="89.95" stroke="#4c4c4c" stroke-width="1.5"/><line x1="742.1" y1="94.6" x2="735.65" y2="89.95" stroke="#4c4c4c" stroke-width="1.5"/><line x1="732.1" y1="72.7" x2="738.6" y2="71.05" stroke="#4c4c4c" stroke-width="1.5"/><line x1="745.1" y1="69.4" x2="738.6" y2="71.05" stroke="#2838d0" stroke-width="1.5"/><line x1="763.3" y1="63.5" x2="764.4" y2="65.35" stroke="#b81c1c" stroke-width="1.5"/><line x1="765.5" y1="67.2" x2="764.4" y2="65.35" stroke="#4c4c4c" stroke-width="1.5"/><line x1="763.3" y1="63.5" x2="770.1" y2="61.6" stroke="#b81c1c" stroke-width="1.5"/><line x1="776.9" y1="59.7" x2="770.1" y2="61.6" stroke="#4c4c4c" stroke-width="1.5"/><line x1="765.5" y1="67.2" x2="771.2" y2="63.45" stroke="#4c4c4c" stroke-width="1.5"/><line x1="776.9" y1="59.7" x2="771.2" y2="63.45" stroke="#4c4c4c" stroke-width="1.5"/><line x1="776.9" y1="59.7" x2="777.85" y2="52.45" stroke="#4c4c4c" stroke-width="1.5"/><line x1="778.8" y1="45.2" x2="777.85" y2="52.45" stroke="#4c4c4c" stroke-width="1.5"/><line x1="778.8" y1="45.2" x2="779.45" y2="43.2" stroke="#4c4c4c" stroke-width="1.5"/><line x1="780.1" y1="41.2" x2="779.45" y2="43.2" stroke="#b81c1c" stroke-width="1.5"/><line x1="778.8" y1="45.2" x2="786.3" y2="44.5" stroke="#4c4c4c" stroke-width="1.5"/><line x1="793.8" y1="43.8" x2="786.3" y2="44.5" stroke="#4c4c4c" stroke-width="1.5"/><line x1="780.1" y1="41.2" x2="786.95" y2="42.5" stroke="#b81c1c" stroke-width="1.5"/><line x1="793.8" y1="43.8" x2="786.95" y2="42.5" stroke="#4c4c4c" stroke-width="1.5"/><line x1="709.6" y1="47.5" x2="710.1" y2="42.35" stroke="#4c4c4c" stroke-width="0.95"/><line x1="710.6" y1="37.2" x2="710.1" y2="42.35" stroke="#a8a8a8" stroke-width="0.95"/><line x1="709.6" y1="47.5" x2="705.75" y2="48.05" stroke="#4c4c4c" stroke-width="0.95"/><line x1="701.9" y1="48.6" x2="705.75" y2="48.05" stroke="#a8a8a8" stroke-width="0.95"/><line x1="709.6" y1="47.5" x2="708.95" y2="51.15" stroke="#4c4c4c" stroke-width="0.95"/><line x1="708.3" y1="54.8" x2="708.95" y2="51.15" stroke="#a8a8a8" stroke-width="0.95"/><line x1="722.2" y1="51.5" x2="722.85" y2="47.65" stroke="#4c4c4c" stroke-width="0.95"/><line x1="723.5" y1="43.8" x2="722.85" y2="47.65" stroke="#a8a8a8" stroke-width="0.95"/><line x1="722.2" y1="51.5" x2="726.35" y2="52.05" stroke="#4c4c4c" stroke-width="0.95"/><line x1="730.5" y1="52.6" x2="726.35" y2="52.05" stroke="#a8a8a8" stroke-width="0.95"/><line x1="706.9" y1="67.2" x2="704.6" y2="65.85" stroke="#4c4c4c" stroke-width="0.95"/><line x1="702.3" y1="64.5" x2="704.6" y2="65.85" stroke="#a8a8a8" stroke-width="0.95"/><line x1="745.1" y1="69.4" x2="744.6" y2="65.1" stroke="#2838d0" stroke-width="0.95"/><line x1="744.1" y1="60.8" x2="744.6" y2="65.1" stroke="#a8a8a8" stroke-width="0.95"/><line x1="745.1" y1="69.4" x2="746.9" y2="74.4" stroke="#2838d0" stroke-width="0.95"/><line x1="748.7" y1="79.4" x2="746.9" y2="74.4" stroke="#a8a8a8" stroke-width="0.95"/><line x1="713.3" y1="103.2" x2="707.8" y2="104.2" stroke="#2838d0" stroke-width="0.95"/><line x1="702.3" y1="105.2" x2="707.8" y2="104.2" stroke="#a8a8a8" stroke-width="0.95"/><line x1="713.3" y1="103.2" x2="717.3" y2="106.2" stroke="#2838d0" stroke-width="0.95"/><line x1="721.3" y1="109.2" x2="717.3" y2="106.2" stroke="#a8a8a8" stroke-width="0.95"/><line x1="742.1" y1="94.6" x2="746.4" y2="92.3" stroke="#4c4c4c" stroke-width="0.95"/><line x1="750.7" y1="90" x2="746.4" y2="92.3" stroke="#a8a8a8" stroke-width="0.95"/><line x1="742.1" y1="94.6" x2="740.45" y2="99.6" stroke="#4c4c4c" stroke-width="0.95"/><line x1="738.8" y1="104.6" x2="740.45" y2="99.6" stroke="#a8a8a8" stroke-width="0.95"/><line x1="765.5" y1="67.2" x2="767.7" y2="71.6" stroke="#4c4c4c" stroke-width="0.95"/><line x1="769.9" y1="76" x2="767.7" y2="71.6" stroke="#a8a8a8" stroke-width="0.95"/><line x1="776.9" y1="59.7" x2="781.7" y2="63.25" stroke="#4c4c4c" stroke-width="0.95"/><line x1="786.5" y1="66.8" x2="781.7" y2="63.25" stroke="#a8a8a8" stroke-width="0.95"/><line x1="780.1" y1="41.2" x2="774.7" y2="40.55" stroke="#b81c1c" stroke-width="0.95"/><line x1="769.3" y1="39.9" x2="774.7" y2="40.55" stroke="#a8a8a8" stroke-width="0.95"/><line x1="763.3" y1="63.5" x2="762.85" y2="61.8" stroke="#b81c1c" stroke-width="0.95"/><line x1="762.4" y1="60.1" x2="762.85" y2="61.8" stroke="#a8a8a8" stroke-width="0.95"/><line x1="704.5" y1="79.6" x2="702.75" y2="79.8" stroke="#4c4c4c" stroke-width="0.95"/><line x1="701" y1="80" x2="702.75" y2="79.8" stroke="#a8a8a8" stroke-width="0.95"/><circle cx="710.6" cy="37.2" r="1.9" fill="url(#gH)"/><circle cx="701.9" cy="48.6" r="1.9" fill="url(#gH)"/><circle cx="708.3" cy="54.8" r="1.9" fill="url(#gH)"/><circle cx="723.5" cy="43.8" r="1.9" fill="url(#gH)"/><circle cx="730.5" cy="52.6" r="1.9" fill="url(#gH)"/><circle cx="702.3" cy="64.5" r="1.9" fill="url(#gH)"/><circle cx="744.1" cy="60.8" r="1.9" fill="url(#gH)"/><circle cx="748.7" cy="79.4" r="1.9" fill="url(#gH)"/><circle cx="702.3" cy="105.2" r="1.9" fill="url(#gH)"/><circle cx="721.3" cy="109.2" r="1.9" fill="url(#gH)"/><circle cx="750.7" cy="90" r="1.9" fill="url(#gH)"/><circle cx="738.8" cy="104.6" r="1.9" fill="url(#gH)"/><circle cx="769.9" cy="76" r="1.9" fill="url(#gH)"/><circle cx="786.5" cy="66.8" r="1.9" fill="url(#gH)"/><circle cx="769.3" cy="39.9" r="1.9" fill="url(#gH)"/><circle cx="762.4" cy="60.1" r="1.9" fill="url(#gH)"/><circle cx="701" cy="80" r="1.9" fill="url(#gH)"/><circle cx="709.6" cy="47.5" r="4.2" fill="url(#gC)"/><circle cx="722.2" cy="51.5" r="4.2" fill="url(#gC)"/><circle cx="719.5" cy="64.8" r="4.2" fill="url(#gC)"/><circle cx="706.9" cy="67.2" r="4.2" fill="url(#gC)"/><circle cx="704.5" cy="79.6" r="4.2" fill="url(#gC)"/><circle cx="716" cy="89.6" r="4.2" fill="url(#gC)"/><circle cx="729.2" cy="85.3" r="4.2" fill="url(#gC)"/><circle cx="732.1" cy="72.7" r="4.2" fill="url(#gC)"/><circle cx="745.1" cy="69.4" r="3.4" fill="url(#gN)"/><circle cx="713.3" cy="103.2" r="3.4" fill="url(#gN)"/><circle cx="742.1" cy="94.6" r="4.2" fill="url(#gC)"/><circle cx="763.3" cy="63.5" r="3.4" fill="url(#gO)"/><circle cx="765.5" cy="67.2" r="4.2" fill="url(#gC)"/><circle cx="776.9" cy="59.7" r="4.2" fill="url(#gC)"/><circle cx="778.8" cy="45.2" r="4.2" fill="url(#gC)"/><circle cx="780.1" cy="41.2" r="3.4" fill="url(#gO)"/><circle cx="793.8" cy="43.8" r="4.2" fill="url(#gC)"/><circle cx="756" cy="68.8" r="20.5" fill="none" stroke="#f04444" stroke-width="1.8"/></g><clipPath id="tc1"><rect x="803" y="0" width="101" height="240"/></clipPath><g clip-path="url(#tc1)"><line x1="813.3" y1="46.9" x2="820.25" y2="49.2" stroke="#4c4c4c" stroke-width="1.5"/><line x1="827.2" y1="51.5" x2="820.25" y2="49.2" stroke="#4c4c4c" stroke-width="1.5"/><line x1="827.2" y1="51.5" x2="826.35" y2="57.8" stroke="#4c4c4c" stroke-width="1.5"/><line x1="825.5" y1="64.1" x2="826.35" y2="57.8" stroke="#4c4c4c" stroke-width="1.5"/><line x1="825.5" y1="64.1" x2="819.4" y2="65.45" stroke="#4c4c4c" stroke-width="1.5"/><line x1="813.3" y1="66.8" x2="819.4" y2="65.45" stroke="#4c4c4c" stroke-width="1.5"/><line x1="825.5" y1="64.1" x2="830.8" y2="69.1" stroke="#4c4c4c" stroke-width="1.5"/><line x1="836.1" y1="74.1" x2="830.8" y2="69.1" stroke="#4c4c4c" stroke-width="1.5"/><line x1="813.3" y1="66.8" x2="811.65" y2="73.2" stroke="#4c4c4c" stroke-width="1.5"/><line x1="810" y1="79.6" x2="811.65" y2="73.2" stroke="#4c4c4c" stroke-width="1.5"/><line x1="810" y1="79.6" x2="814.95" y2="85.1" stroke="#4c4c4c" stroke-width="1.5"/><line x1="819.9" y1="90.6" x2="814.95" y2="85.1" stroke="#4c4c4c" stroke-width="1.5"/><line x1="819.9" y1="90.6" x2="826.85" y2="88.65" stroke="#4c4c4c" stroke-width="1.5"/><line x1="833.8" y1="86.7" x2="826.85" y2="88.65" stroke="#4c4c4c" stroke-width="1.5"/><line x1="819.9" y1="90.6" x2="818.25" y2="97.6" stroke="#4c4c4c" stroke-width="1.5"/><line x1="816.6" y1="104.6" x2="818.25" y2="97.6" stroke="#2838d0" stroke-width="1.5"/><line x1="833.8" y1="86.7" x2="834.95" y2="80.4" stroke="#4c4c4c" stroke-width="1.5"/><line x1="836.1" y1="74.1" x2="834.95" y2="80.4" stroke="#4c4c4c" stroke-width="1.5"/><line x1="833.8" y1="86.7" x2="839.75" y2="91.65" stroke="#4c4c4c" stroke-width="1.5"/><line x1="845.7" y1="96.6" x2="839.75" y2="91.65" stroke="#4c4c4c" stroke-width="1.5"/><line x1="836.1" y1="74.1" x2="842.7" y2="73.3" stroke="#4c4c4c" stroke-width="1.5"/><line x1="849.3" y1="72.5" x2="842.7" y2="73.3" stroke="#2838d0" stroke-width="1.5"/><line x1="869.5" y1="64.5" x2="868.7" y2="65.85" stroke="#b81c1c" stroke-width="1.5"/><line x1="867.9" y1="67.2" x2="868.7" y2="65.85" stroke="#4c4c4c" stroke-width="1.5"/><line x1="869.5" y1="64.5" x2="874.2" y2="63.2" stroke="#b81c1c" stroke-width="1.5"/><line x1="878.9" y1="61.9" x2="874.2" y2="63.2" stroke="#4c4c4c" stroke-width="1.5"/><line x1="867.9" y1="67.2" x2="873.4" y2="64.55" stroke="#4c4c4c" stroke-width="1.5"/><line x1="878.9" y1="61.9" x2="873.4" y2="64.55" stroke="#4c4c4c" stroke-width="1.5"/><line x1="878.9" y1="61.9" x2="879.9" y2="54.4" stroke="#4c4c4c" stroke-width="1.5"/><line x1="880.9" y1="46.9" x2="879.9" y2="54.4" stroke="#4c4c4c" stroke-width="1.5"/><line x1="880.9" y1="46.9" x2="881.7" y2="44.45" stroke="#4c4c4c" stroke-width="1.5"/><line x1="882.5" y1="42" x2="881.7" y2="44.45" stroke="#b81c1c" stroke-width="1.5"/><line x1="880.9" y1="46.9" x2="888.7" y2="45.55" stroke="#4c4c4c" stroke-width="1.5"/><line x1="896.5" y1="44.2" x2="888.7" y2="45.55" stroke="#4c4c4c" stroke-width="1.5"/><line x1="882.5" y1="42" x2="889.5" y2="43.1" stroke="#b81c1c" stroke-width="1.5"/><line x1="896.5" y1="44.2" x2="889.5" y2="43.1" stroke="#4c4c4c" stroke-width="1.5"/><line x1="813.3" y1="46.9" x2="810.4" y2="42.65" stroke="#4c4c4c" stroke-width="0.95"/><line x1="807.5" y1="38.4" x2="810.4" y2="42.65" stroke="#a8a8a8" stroke-width="0.95"/><line x1="813.3" y1="46.9" x2="809.3" y2="50.85" stroke="#4c4c4c" stroke-width="0.95"/><line x1="805.3" y1="54.8" x2="809.3" y2="50.85" stroke="#a8a8a8" stroke-width="0.95"/><line x1="827.2" y1="51.5" x2="829.85" y2="48.15" stroke="#4c4c4c" stroke-width="0.95"/><line x1="832.5" y1="44.8" x2="829.85" y2="48.15" stroke="#a8a8a8" stroke-width="0.95"/><line x1="827.2" y1="51.5" x2="830.75" y2="53.75" stroke="#4c4c4c" stroke-width="0.95"/><line x1="834.3" y1="56" x2="830.75" y2="53.75" stroke="#a8a8a8" stroke-width="0.95"/><line x1="813.3" y1="66.8" x2="809.5" y2="63.65" stroke="#4c4c4c" stroke-width="0.95"/><line x1="805.7" y1="60.5" x2="809.5" y2="63.65" stroke="#a8a8a8" stroke-width="0.95"/><line x1="849.3" y1="72.5" x2="849.15" y2="68.75" stroke="#2838d0" stroke-width="0.95"/><line x1="849" y1="65" x2="849.15" y2="68.75" stroke="#a8a8a8" stroke-width="0.95"/><line x1="849.3" y1="72.5" x2="850.95" y2="77.25" stroke="#2838d0" stroke-width="0.95"/><line x1="852.6" y1="82" x2="850.95" y2="77.25" stroke="#a8a8a8" stroke-width="0.95"/><line x1="816.6" y1="104.6" x2="811.05" y2="105.3" stroke="#2838d0" stroke-width="0.95"/><line x1="805.5" y1="106" x2="811.05" y2="105.3" stroke="#a8a8a8" stroke-width="0.95"/><line x1="816.6" y1="104.6" x2="820.8" y2="107.3" stroke="#2838d0" stroke-width="0.95"/><line x1="825" y1="110" x2="820.8" y2="107.3" stroke="#a8a8a8" stroke-width="0.95"/><line x1="845.7" y1="96.6" x2="850.35" y2="94.05" stroke="#4c4c4c" stroke-width="0.95"/><line x1="855" y1="91.5" x2="850.35" y2="94.05" stroke="#a8a8a8" stroke-width="0.95"/><line x1="845.7" y1="96.6" x2="844.35" y2="100.8" stroke="#4c4c4c" stroke-width="0.95"/><line x1="843" y1="105" x2="844.35" y2="100.8" stroke="#a8a8a8" stroke-width="0.95"/><line x1="869.5" y1="64.5" x2="866.25" y2="62" stroke="#b81c1c" stroke-width="0.95"/><line x1="863" y1="59.5" x2="866.25" y2="62" stroke="#a8a8a8" stroke-width="0.95"/><line x1="867.9" y1="67.2" x2="868.95" y2="71.1" stroke="#4c4c4c" stroke-width="0.95"/><line x1="870" y1="75" x2="868.95" y2="71.1" stroke="#a8a8a8" stroke-width="0.95"/><line x1="878.9" y1="61.9" x2="883.7" y2="64.95" stroke="#4c4c4c" stroke-width="0.95"/><line x1="888.5" y1="68" x2="883.7" y2="64.95" stroke="#a8a8a8" stroke-width="0.95"/><line x1="880.9" y1="46.9" x2="876.45" y2="44.95" stroke="#4c4c4c" stroke-width="0.95"/><line x1="872" y1="43" x2="876.45" y2="44.95" stroke="#a8a8a8" stroke-width="0.95"/><line x1="882.5" y1="42" x2="883.25" y2="43.5" stroke="#b81c1c" stroke-width="0.95"/><line x1="884" y1="45" x2="883.25" y2="43.5" stroke="#a8a8a8" stroke-width="0.95"/><circle cx="807.5" cy="38.4" r="1.9" fill="url(#gH)"/><circle cx="805.3" cy="54.8" r="1.9" fill="url(#gH)"/><circle cx="832.5" cy="44.8" r="1.9" fill="url(#gH)"/><circle cx="834.3" cy="56" r="1.9" fill="url(#gH)"/><circle cx="805.7" cy="60.5" r="1.9" fill="url(#gH)"/><circle cx="849" cy="65" r="1.9" fill="url(#gH)"/><circle cx="852.6" cy="82" r="1.9" fill="url(#gH)"/><circle cx="805.5" cy="106" r="1.9" fill="url(#gH)"/><circle cx="825" cy="110" r="1.9" fill="url(#gH)"/><circle cx="855" cy="91.5" r="1.9" fill="url(#gH)"/><circle cx="843" cy="105" r="1.9" fill="url(#gH)"/><circle cx="863" cy="59.5" r="1.9" fill="url(#gH)"/><circle cx="870" cy="75" r="1.9" fill="url(#gH)"/><circle cx="888.5" cy="68" r="1.9" fill="url(#gH)"/><circle cx="872" cy="43" r="1.9" fill="url(#gH)"/><circle cx="884" cy="45" r="1.9" fill="url(#gH)"/><circle cx="813.3" cy="46.9" r="4.2" fill="url(#gC)"/><circle cx="827.2" cy="51.5" r="4.2" fill="url(#gC)"/><circle cx="825.5" cy="64.1" r="4.2" fill="url(#gC)"/><circle cx="813.3" cy="66.8" r="4.2" fill="url(#gC)"/><circle cx="810" cy="79.6" r="4.2" fill="url(#gC)"/><circle cx="819.9" cy="90.6" r="4.2" fill="url(#gC)"/><circle cx="833.8" cy="86.7" r="4.2" fill="url(#gC)"/><circle cx="836.1" cy="74.1" r="4.2" fill="url(#gC)"/><circle cx="849.3" cy="72.5" r="3.4" fill="url(#gN)"/><circle cx="816.6" cy="104.6" r="3.4" fill="url(#gN)"/><circle cx="845.7" cy="96.6" r="4.2" fill="url(#gC)"/><circle cx="869.5" cy="64.5" r="3.4" fill="url(#gO)"/><circle cx="867.9" cy="67.2" r="4.2" fill="url(#gC)"/><circle cx="878.9" cy="61.9" r="4.2" fill="url(#gC)"/><circle cx="880.9" cy="46.9" r="4.2" fill="url(#gC)"/><circle cx="882.5" cy="42" r="3.4" fill="url(#gO)"/><circle cx="896.5" cy="44.2" r="4.2" fill="url(#gC)"/></g><clipPath id="tc2"><rect x="908" y="0" width="101" height="240"/></clipPath><g clip-path="url(#tc2)"><line x1="925.3" y1="44.9" x2="931.95" y2="48.4" stroke="#4c4c4c" stroke-width="1.5"/><line x1="938.6" y1="51.9" x2="931.95" y2="48.4" stroke="#4c4c4c" stroke-width="1.5"/><line x1="938.6" y1="51.9" x2="936.85" y2="58.7" stroke="#4c4c4c" stroke-width="1.5"/><line x1="935.1" y1="65.5" x2="936.85" y2="58.7" stroke="#4c4c4c" stroke-width="1.5"/><line x1="935.1" y1="65.5" x2="928.8" y2="66.2" stroke="#4c4c4c" stroke-width="1.5"/><line x1="922.5" y1="66.9" x2="928.8" y2="66.2" stroke="#4c4c4c" stroke-width="1.5"/><line x1="935.1" y1="65.5" x2="940.2" y2="70.35" stroke="#4c4c4c" stroke-width="1.5"/><line x1="945.3" y1="75.2" x2="940.2" y2="70.35" stroke="#4c4c4c" stroke-width="1.5"/><line x1="922.5" y1="66.9" x2="920.6" y2="73.15" stroke="#4c4c4c" stroke-width="1.5"/><line x1="918.7" y1="79.4" x2="920.6" y2="73.15" stroke="#4c4c4c" stroke-width="1.5"/><line x1="918.7" y1="79.4" x2="923.4" y2="85" stroke="#4c4c4c" stroke-width="1.5"/><line x1="928.1" y1="90.6" x2="923.4" y2="85" stroke="#4c4c4c" stroke-width="1.5"/><line x1="928.1" y1="90.6" x2="934.85" y2="88.75" stroke="#4c4c4c" stroke-width="1.5"/><line x1="941.6" y1="86.9" x2="934.85" y2="88.75" stroke="#4c4c4c" stroke-width="1.5"/><line x1="928.1" y1="90.6" x2="926.35" y2="97.1" stroke="#4c4c4c" stroke-width="1.5"/><line x1="924.6" y1="103.6" x2="926.35" y2="97.1" stroke="#2838d0" stroke-width="1.5"/><line x1="941.6" y1="86.9" x2="943.45" y2="81.05" stroke="#4c4c4c" stroke-width="1.5"/><line x1="945.3" y1="75.2" x2="943.45" y2="81.05" stroke="#4c4c4c" stroke-width="1.5"/><line x1="941.6" y1="86.9" x2="947.1" y2="92.6" stroke="#4c4c4c" stroke-width="1.5"/><line x1="952.6" y1="98.3" x2="947.1" y2="92.6" stroke="#4c4c4c" stroke-width="1.5"/><line x1="945.3" y1="75.2" x2="952.05" y2="74.5" stroke="#4c4c4c" stroke-width="1.5"/><line x1="958.8" y1="73.8" x2="952.05" y2="74.5" stroke="#2838d0" stroke-width="1.5"/><line x1="958.8" y1="73.8" x2="965.1" y2="69.3" stroke="#2838d0" stroke-width="1.5"/><line x1="971.4" y1="64.8" x2="965.1" y2="69.3" stroke="#4c4c4c" stroke-width="1.5"/><line x1="971.4" y1="64.8" x2="975.25" y2="66.05" stroke="#4c4c4c" stroke-width="1.5"/><line x1="979.1" y1="67.3" x2="975.25" y2="66.05" stroke="#b81c1c" stroke-width="1.5"/><line x1="971.4" y1="64.8" x2="976.65" y2="63.75" stroke="#4c4c4c" stroke-width="1.5"/><line x1="981.9" y1="62.7" x2="976.65" y2="63.75" stroke="#4c4c4c" stroke-width="1.5"/><line x1="979.1" y1="67.3" x2="980.5" y2="65" stroke="#b81c1c" stroke-width="1.5"/><line x1="981.9" y1="62.7" x2="980.5" y2="65" stroke="#4c4c4c" stroke-width="1.5"/><line x1="987.5" y1="45.9" x2="988.75" y2="43.6" stroke="#4c4c4c" stroke-width="1.5"/><line x1="990" y1="41.3" x2="988.75" y2="43.6" stroke="#b81c1c" stroke-width="1.5"/><line x1="987.5" y1="45.9" x2="995.55" y2="43.8" stroke="#4c4c4c" stroke-width="1.5"/><line x1="1003.6" y1="41.7" x2="995.55" y2="43.8" stroke="#4c4c4c" stroke-width="1.5"/><line x1="990" y1="41.3" x2="996.8" y2="41.5" stroke="#b81c1c" stroke-width="1.5"/><line x1="1003.6" y1="41.7" x2="996.8" y2="41.5" stroke="#4c4c4c" stroke-width="1.5"/><line x1="925.3" y1="44.9" x2="925.65" y2="40.95" stroke="#4c4c4c" stroke-width="0.95"/><line x1="926" y1="37" x2="925.65" y2="40.95" stroke="#a8a8a8" stroke-width="0.95"/><line x1="925.3" y1="44.9" x2="921.9" y2="42.95" stroke="#4c4c4c" stroke-width="0.95"/><line x1="918.5" y1="41" x2="921.9" y2="42.95" stroke="#a8a8a8" stroke-width="0.95"/><line x1="925.3" y1="44.9" x2="922" y2="49.2" stroke="#4c4c4c" stroke-width="0.95"/><line x1="918.7" y1="53.5" x2="922" y2="49.2" stroke="#a8a8a8" stroke-width="0.95"/><line x1="938.6" y1="51.9" x2="940.8" y2="48.95" stroke="#4c4c4c" stroke-width="0.95"/><line x1="943" y1="46" x2="940.8" y2="48.95" stroke="#a8a8a8" stroke-width="0.95"/><line x1="938.6" y1="51.9" x2="942.3" y2="52.45" stroke="#4c4c4c" stroke-width="0.95"/><line x1="946" y1="53" x2="942.3" y2="52.45" stroke="#a8a8a8" stroke-width="0.95"/><line x1="922.5" y1="66.9" x2="919.1" y2="62.7" stroke="#4c4c4c" stroke-width="0.95"/><line x1="915.7" y1="58.5" x2="919.1" y2="62.7" stroke="#a8a8a8" stroke-width="0.95"/><line x1="918.7" y1="79.4" x2="916.35" y2="79.7" stroke="#4c4c4c" stroke-width="0.95"/><line x1="914" y1="80" x2="916.35" y2="79.7" stroke="#a8a8a8" stroke-width="0.95"/><line x1="958.8" y1="73.8" x2="958.4" y2="70.9" stroke="#2838d0" stroke-width="0.95"/><line x1="958" y1="68" x2="958.4" y2="70.9" stroke="#a8a8a8" stroke-width="0.95"/><line x1="958.8" y1="73.8" x2="959.9" y2="79.15" stroke="#2838d0" stroke-width="0.95"/><line x1="961" y1="84.5" x2="959.9" y2="79.15" stroke="#a8a8a8" stroke-width="0.95"/><line x1="924.6" y1="103.6" x2="919.1" y2="104.05" stroke="#2838d0" stroke-width="0.95"/><line x1="913.6" y1="104.5" x2="919.1" y2="104.05" stroke="#a8a8a8" stroke-width="0.95"/><line x1="924.6" y1="103.6" x2="927.05" y2="106.8" stroke="#2838d0" stroke-width="0.95"/><line x1="929.5" y1="110" x2="927.05" y2="106.8" stroke="#a8a8a8" stroke-width="0.95"/><line x1="952.6" y1="98.3" x2="957.3" y2="96.9" stroke="#4c4c4c" stroke-width="0.95"/><line x1="962" y1="95.5" x2="957.3" y2="96.9" stroke="#a8a8a8" stroke-width="0.95"/><line x1="952.6" y1="98.3" x2="951.05" y2="101.15" stroke="#4c4c4c" stroke-width="0.95"/><line x1="949.5" y1="104" x2="951.05" y2="101.15" stroke="#a8a8a8" stroke-width="0.95"/><line x1="971.4" y1="64.8" x2="968.95" y2="60.9" stroke="#4c4c4c" stroke-width="0.95"/><line x1="966.5" y1="57" x2="968.95" y2="60.9" stroke="#a8a8a8" stroke-width="0.95"/><line x1="979.1" y1="67.3" x2="976.55" y2="70.15" stroke="#b81c1c" stroke-width="0.95"/><line x1="974" y1="73" x2="976.55" y2="70.15" stroke="#a8a8a8" stroke-width="0.95"/><line x1="981.9" y1="62.7" x2="985.95" y2="65.85" stroke="#4c4c4c" stroke-width="0.95"/><line x1="990" y1="69" x2="985.95" y2="65.85" stroke="#a8a8a8" stroke-width="0.95"/><line x1="987.5" y1="45.9" x2="984.5" y2="43.95" stroke="#4c4c4c" stroke-width="0.95"/><line x1="981.5" y1="42" x2="984.5" y2="43.95" stroke="#a8a8a8" stroke-width="0.95"/><line x1="1003.6" y1="41.7" x2="1000.8" y2="40.1" stroke="#4c4c4c" stroke-width="0.95"/><line x1="998" y1="38.5" x2="1000.8" y2="40.1" stroke="#a8a8a8" stroke-width="0.95"/><line x1="990" y1="41.3" x2="993" y2="43.9" stroke="#b81c1c" stroke-width="0.95"/><line x1="996" y1="46.5" x2="993" y2="43.9" stroke="#a8a8a8" stroke-width="0.95"/><line x1="981.9" y1="62.7" x2="984.7" y2="54.3" stroke="#4c4c4c" stroke-width="1.5"/><line x1="987.5" y1="45.9" x2="984.7" y2="54.3" stroke="#4c4c4c" stroke-width="1.5"/><circle cx="926" cy="37" r="1.9" fill="url(#gH)"/><circle cx="918.5" cy="41" r="1.9" fill="url(#gH)"/><circle cx="918.7" cy="53.5" r="1.9" fill="url(#gH)"/><circle cx="943" cy="46" r="1.9" fill="url(#gH)"/><circle cx="946" cy="53" r="1.9" fill="url(#gH)"/><circle cx="915.7" cy="58.5" r="1.9" fill="url(#gH)"/><circle cx="914" cy="80" r="1.9" fill="url(#gH)"/><circle cx="958" cy="68" r="1.9" fill="url(#gH)"/><circle cx="961" cy="84.5" r="1.9" fill="url(#gH)"/><circle cx="913.6" cy="104.5" r="1.9" fill="url(#gH)"/><circle cx="929.5" cy="110" r="1.9" fill="url(#gH)"/><circle cx="962" cy="95.5" r="1.9" fill="url(#gH)"/><circle cx="949.5" cy="104" r="1.9" fill="url(#gH)"/><circle cx="966.5" cy="57" r="1.9" fill="url(#gH)"/><circle cx="974" cy="73" r="1.9" fill="url(#gH)"/><circle cx="990" cy="69" r="1.9" fill="url(#gH)"/><circle cx="981.5" cy="42" r="1.9" fill="url(#gH)"/><circle cx="998" cy="38.5" r="1.9" fill="url(#gH)"/><circle cx="996" cy="46.5" r="1.9" fill="url(#gH)"/><circle cx="925.3" cy="44.9" r="4.2" fill="url(#gC)"/><circle cx="938.6" cy="51.9" r="4.2" fill="url(#gC)"/><circle cx="935.1" cy="65.5" r="4.2" fill="url(#gC)"/><circle cx="922.5" cy="66.9" r="4.2" fill="url(#gC)"/><circle cx="918.7" cy="79.4" r="4.2" fill="url(#gC)"/><circle cx="928.1" cy="90.6" r="4.2" fill="url(#gC)"/><circle cx="941.6" cy="86.9" r="4.2" fill="url(#gC)"/><circle cx="945.3" cy="75.2" r="4.2" fill="url(#gC)"/><circle cx="958.8" cy="73.8" r="3.4" fill="url(#gN)"/><circle cx="924.6" cy="103.6" r="3.4" fill="url(#gN)"/><circle cx="952.6" cy="98.3" r="4.2" fill="url(#gC)"/><circle cx="971.4" cy="64.8" r="4.2" fill="url(#gC)"/><circle cx="979.1" cy="67.3" r="3.4" fill="url(#gO)"/><circle cx="981.9" cy="62.7" r="4.2" fill="url(#gC)"/><circle cx="987.5" cy="45.9" r="4.2" fill="url(#gC)"/><circle cx="990" cy="41.3" r="3.4" fill="url(#gO)"/><circle cx="1003.6" cy="41.7" r="4.2" fill="url(#gC)"/></g><clipPath id="tc3"><rect x="1013" y="0" width="101.2" height="240"/></clipPath><g clip-path="url(#tc3)"><line x1="1038.7" y1="42.1" x2="1043.35" y2="47.5" stroke="#4c4c4c" stroke-width="1.5"/><line x1="1048" y1="52.9" x2="1043.35" y2="47.5" stroke="#4c4c4c" stroke-width="1.5"/><line x1="1048" y1="52.9" x2="1044.4" y2="59.4" stroke="#4c4c4c" stroke-width="1.5"/><line x1="1040.8" y1="65.9" x2="1044.4" y2="59.4" stroke="#4c4c4c" stroke-width="1.5"/><line x1="1040.8" y1="65.9" x2="1034.35" y2="66.15" stroke="#4c4c4c" stroke-width="1.5"/><line x1="1027.9" y1="66.4" x2="1034.35" y2="66.15" stroke="#4c4c4c" stroke-width="1.5"/><line x1="1040.8" y1="65.9" x2="1045.55" y2="71.5" stroke="#4c4c4c" stroke-width="1.5"/><line x1="1050.3" y1="77.1" x2="1045.55" y2="71.5" stroke="#4c4c4c" stroke-width="1.5"/><line x1="1027.9" y1="66.4" x2="1026.3" y2="72.2" stroke="#4c4c4c" stroke-width="1.5"/><line x1="1024.7" y1="78" x2="1026.3" y2="72.2" stroke="#4c4c4c" stroke-width="1.5"/><line x1="1024.7" y1="78" x2="1028.7" y2="83.95" stroke="#4c4c4c" stroke-width="1.5"/><line x1="1032.7" y1="89.9" x2="1028.7" y2="83.95" stroke="#4c4c4c" stroke-width="1.5"/><line x1="1032.7" y1="89.9" x2="1039.2" y2="89.55" stroke="#4c4c4c" stroke-width="1.5"/><line x1="1045.7" y1="89.2" x2="1039.2" y2="89.55" stroke="#4c4c4c" stroke-width="1.5"/><line x1="1032.7" y1="89.9" x2="1030.8" y2="96.55" stroke="#4c4c4c" stroke-width="1.5"/><line x1="1028.9" y1="103.2" x2="1030.8" y2="96.55" stroke="#2838d0" stroke-width="1.5"/><line x1="1045.7" y1="89.2" x2="1048" y2="83.15" stroke="#4c4c4c" stroke-width="1.5"/><line x1="1050.3" y1="77.1" x2="1048" y2="83.15" stroke="#4c4c4c" stroke-width="1.5"/><line x1="1045.7" y1="89.2" x2="1050.35" y2="95.85" stroke="#4c4c4c" stroke-width="1.5"/><line x1="1055" y1="102.5" x2="1050.35" y2="95.85" stroke="#4c4c4c" stroke-width="1.5"/><line x1="1050.3" y1="77.1" x2="1057.4" y2="76.4" stroke="#4c4c4c" stroke-width="1.5"/><line x1="1064.5" y1="75.7" x2="1057.4" y2="76.4" stroke="#2838d0" stroke-width="1.5"/><line x1="1064.5" y1="75.7" x2="1070.95" y2="70.6" stroke="#2838d0" stroke-width="1.5"/><line x1="1077.4" y1="65.5" x2="1070.95" y2="70.6" stroke="#4c4c4c" stroke-width="1.5"/><line x1="1083" y1="64.5" x2="1080.2" y2="65" stroke="#b81c1c" stroke-width="1.5"/><line x1="1077.4" y1="65.5" x2="1080.2" y2="65" stroke="#4c4c4c" stroke-width="1.5"/><line x1="1083" y1="64.5" x2="1085.3" y2="62.9" stroke="#b81c1c" stroke-width="1.5"/><line x1="1087.6" y1="61.3" x2="1085.3" y2="62.9" stroke="#4c4c4c" stroke-width="1.5"/><line x1="1077.4" y1="65.5" x2="1082.5" y2="63.4" stroke="#4c4c4c" stroke-width="1.5"/><line x1="1087.6" y1="61.3" x2="1082.5" y2="63.4" stroke="#4c4c4c" stroke-width="1.5"/><line x1="1087.6" y1="61.3" x2="1088.8" y2="53.6" stroke="#4c4c4c" stroke-width="1.5"/><line x1="1090" y1="45.9" x2="1088.8" y2="53.6" stroke="#4c4c4c" stroke-width="1.5"/><line x1="1090" y1="45.9" x2="1091.25" y2="43.6" stroke="#4c4c4c" stroke-width="1.5"/><line x1="1092.5" y1="41.3" x2="1091.25" y2="43.6" stroke="#b81c1c" stroke-width="1.5"/><line x1="1090" y1="45.9" x2="1098.25" y2="44.85" stroke="#4c4c4c" stroke-width="1.5"/><line x1="1106.5" y1="43.8" x2="1098.25" y2="44.85" stroke="#4c4c4c" stroke-width="1.5"/><line x1="1092.5" y1="41.3" x2="1099.5" y2="42.55" stroke="#b81c1c" stroke-width="1.5"/><line x1="1106.5" y1="43.8" x2="1099.5" y2="42.55" stroke="#4c4c4c" stroke-width="1.5"/><line x1="1106.5" y1="43.8" x2="1110" y2="45.2" stroke="#4c4c4c" stroke-width="1.5"/><line x1="1113.5" y1="46.6" x2="1110" y2="45.2" stroke="#4c4c4c" stroke-width="1.5"/><line x1="1038.7" y1="42.1" x2="1040.85" y2="37.3" stroke="#4c4c4c" stroke-width="0.95"/><line x1="1043" y1="32.5" x2="1040.85" y2="37.3" stroke="#a8a8a8" stroke-width="0.95"/><line x1="1038.7" y1="42.1" x2="1034.1" y2="42.05" stroke="#4c4c4c" stroke-width="0.95"/><line x1="1029.5" y1="42" x2="1034.1" y2="42.05" stroke="#a8a8a8" stroke-width="0.95"/><line x1="1048" y1="52.9" x2="1051" y2="50.95" stroke="#4c4c4c" stroke-width="0.95"/><line x1="1054" y1="49" x2="1051" y2="50.95" stroke="#a8a8a8" stroke-width="0.95"/><line x1="1048" y1="52.9" x2="1051.5" y2="54.7" stroke="#4c4c4c" stroke-width="0.95"/><line x1="1055" y1="56.5" x2="1051.5" y2="54.7" stroke="#a8a8a8" stroke-width="0.95"/><line x1="1027.9" y1="66.4" x2="1024.7" y2="62.2" stroke="#4c4c4c" stroke-width="0.95"/><line x1="1021.5" y1="58" x2="1024.7" y2="62.2" stroke="#a8a8a8" stroke-width="0.95"/><line x1="1024.7" y1="78" x2="1021.6" y2="78.25" stroke="#4c4c4c" stroke-width="0.95"/><line x1="1018.5" y1="78.5" x2="1021.6" y2="78.25" stroke="#a8a8a8" stroke-width="0.95"/><line x1="1064.5" y1="75.7" x2="1064.25" y2="72.85" stroke="#2838d0" stroke-width="0.95"/><line x1="1064" y1="70" x2="1064.25" y2="72.85" stroke="#a8a8a8" stroke-width="0.95"/><line x1="1064.5" y1="75.7" x2="1066.5" y2="80.6" stroke="#2838d0" stroke-width="0.95"/><line x1="1068.5" y1="85.5" x2="1066.5" y2="80.6" stroke="#a8a8a8" stroke-width="0.95"/><line x1="1028.9" y1="103.2" x2="1024.2" y2="103.85" stroke="#2838d0" stroke-width="0.95"/><line x1="1019.5" y1="104.5" x2="1024.2" y2="103.85" stroke="#a8a8a8" stroke-width="0.95"/><line x1="1028.9" y1="103.2" x2="1031.95" y2="107.1" stroke="#2838d0" stroke-width="0.95"/><line x1="1035" y1="111" x2="1031.95" y2="107.1" stroke="#a8a8a8" stroke-width="0.95"/><line x1="1055" y1="102.5" x2="1060.25" y2="101.25" stroke="#4c4c4c" stroke-width="0.95"/><line x1="1065.5" y1="100" x2="1060.25" y2="101.25" stroke="#a8a8a8" stroke-width="0.95"/><line x1="1055" y1="102.5" x2="1054" y2="105.25" stroke="#4c4c4c" stroke-width="0.95"/><line x1="1053" y1="108" x2="1054" y2="105.25" stroke="#a8a8a8" stroke-width="0.95"/><line x1="1077.4" y1="65.5" x2="1075.45" y2="61.5" stroke="#4c4c4c" stroke-width="0.95"/><line x1="1073.5" y1="57.5" x2="1075.45" y2="61.5" stroke="#a8a8a8" stroke-width="0.95"/><line x1="1083" y1="64.5" x2="1083" y2="68.75" stroke="#b81c1c" stroke-width="0.95"/><line x1="1083" y1="73" x2="1083" y2="68.75" stroke="#a8a8a8" stroke-width="0.95"/><line x1="1087.6" y1="61.3" x2="1092.8" y2="63.65" stroke="#4c4c4c" stroke-width="0.95"/><line x1="1098" y1="66" x2="1092.8" y2="63.65" stroke="#a8a8a8" stroke-width="0.95"/><line x1="1090" y1="45.9" x2="1085" y2="43.7" stroke="#4c4c4c" stroke-width="0.95"/><line x1="1080" y1="41.5" x2="1085" y2="43.7" stroke="#a8a8a8" stroke-width="0.95"/><line x1="1106.5" y1="43.8" x2="1108.75" y2="38.15" stroke="#4c4c4c" stroke-width="0.95"/><line x1="1111" y1="32.5" x2="1108.75" y2="38.15" stroke="#a8a8a8" stroke-width="0.95"/><circle cx="1043" cy="32.5" r="1.9" fill="url(#gH)"/><circle cx="1029.5" cy="42" r="1.9" fill="url(#gH)"/><circle cx="1054" cy="49" r="1.9" fill="url(#gH)"/><circle cx="1055" cy="56.5" r="1.9" fill="url(#gH)"/><circle cx="1021.5" cy="58" r="1.9" fill="url(#gH)"/><circle cx="1018.5" cy="78.5" r="1.9" fill="url(#gH)"/><circle cx="1064" cy="70" r="1.9" fill="url(#gH)"/><circle cx="1068.5" cy="85.5" r="1.9" fill="url(#gH)"/><circle cx="1019.5" cy="104.5" r="1.9" fill="url(#gH)"/><circle cx="1035" cy="111" r="1.9" fill="url(#gH)"/><circle cx="1065.5" cy="100" r="1.9" fill="url(#gH)"/><circle cx="1053" cy="108" r="1.9" fill="url(#gH)"/><circle cx="1073.5" cy="57.5" r="1.9" fill="url(#gH)"/><circle cx="1083" cy="73" r="1.9" fill="url(#gH)"/><circle cx="1098" cy="66" r="1.9" fill="url(#gH)"/><circle cx="1080" cy="41.5" r="1.9" fill="url(#gH)"/><circle cx="1111" cy="32.5" r="1.9" fill="url(#gH)"/><circle cx="1038.7" cy="42.1" r="4.2" fill="url(#gC)"/><circle cx="1048" cy="52.9" r="4.2" fill="url(#gC)"/><circle cx="1040.8" cy="65.9" r="4.2" fill="url(#gC)"/><circle cx="1027.9" cy="66.4" r="4.2" fill="url(#gC)"/><circle cx="1024.7" cy="78" r="4.2" fill="url(#gC)"/><circle cx="1032.7" cy="89.9" r="4.2" fill="url(#gC)"/><circle cx="1045.7" cy="89.2" r="4.2" fill="url(#gC)"/><circle cx="1050.3" cy="77.1" r="4.2" fill="url(#gC)"/><circle cx="1064.5" cy="75.7" r="3.4" fill="url(#gN)"/><circle cx="1028.9" cy="103.2" r="3.4" fill="url(#gN)"/><circle cx="1055" cy="102.5" r="4.2" fill="url(#gC)"/><circle cx="1083" cy="64.5" r="3.4" fill="url(#gO)"/><circle cx="1077.4" cy="65.5" r="4.2" fill="url(#gC)"/><circle cx="1087.6" cy="61.3" r="4.2" fill="url(#gC)"/><circle cx="1090" cy="45.9" r="4.2" fill="url(#gC)"/><circle cx="1092.5" cy="41.3" r="3.4" fill="url(#gO)"/><circle cx="1106.5" cy="43.8" r="4.2" fill="url(#gC)"/><circle cx="1113.5" cy="46.6" r="4.2" fill="url(#gC)"/></g><clipPath id="tc4"><rect x="1127.1" y="0" width="122.9" height="240"/></clipPath><g clip-path="url(#tc4)"><line x1="1156.5" y1="46.7" x2="1159" y2="49.25" stroke="#4c4c4c" stroke-width="1.5"/><line x1="1161.5" y1="51.8" x2="1159" y2="49.25" stroke="#4c4c4c" stroke-width="1.5"/><line x1="1161.5" y1="51.8" x2="1158.4" y2="58.8" stroke="#4c4c4c" stroke-width="1.5"/><line x1="1155.3" y1="65.8" x2="1158.4" y2="58.8" stroke="#4c4c4c" stroke-width="1.5"/><line x1="1155.3" y1="65.8" x2="1150.15" y2="66.15" stroke="#4c4c4c" stroke-width="1.5"/><line x1="1145" y1="66.5" x2="1150.15" y2="66.15" stroke="#4c4c4c" stroke-width="1.5"/><line x1="1155.3" y1="65.8" x2="1159" y2="71.7" stroke="#4c4c4c" stroke-width="1.5"/><line x1="1162.7" y1="77.6" x2="1159" y2="71.7" stroke="#4c4c4c" stroke-width="1.5"/><line x1="1145" y1="66.5" x2="1142.05" y2="72.55" stroke="#4c4c4c" stroke-width="1.5"/><line x1="1139.1" y1="78.6" x2="1142.05" y2="72.55" stroke="#4c4c4c" stroke-width="1.5"/><line x1="1139.1" y1="78.6" x2="1142.05" y2="84.95" stroke="#4c4c4c" stroke-width="1.5"/><line x1="1145" y1="91.3" x2="1142.05" y2="84.95" stroke="#4c4c4c" stroke-width="1.5"/><line x1="1139.1" y1="78.6" x2="1133.55" y2="78.55" stroke="#4c4c4c" stroke-width="1.5"/><line x1="1128" y1="78.5" x2="1133.55" y2="78.55" stroke="#4c4c4c" stroke-width="1.5"/><line x1="1145" y1="91.3" x2="1150.9" y2="90.35" stroke="#4c4c4c" stroke-width="1.5"/><line x1="1156.8" y1="89.4" x2="1150.9" y2="90.35" stroke="#4c4c4c" stroke-width="1.5"/><line x1="1145" y1="91.3" x2="1142.45" y2="97.7" stroke="#4c4c4c" stroke-width="1.5"/><line x1="1139.9" y1="104.1" x2="1142.45" y2="97.7" stroke="#2838d0" stroke-width="1.5"/><line x1="1156.8" y1="89.4" x2="1159.75" y2="83.5" stroke="#4c4c4c" stroke-width="1.5"/><line x1="1162.7" y1="77.6" x2="1159.75" y2="83.5" stroke="#4c4c4c" stroke-width="1.5"/><line x1="1156.8" y1="89.4" x2="1161.6" y2="95.8" stroke="#4c4c4c" stroke-width="1.5"/><line x1="1166.4" y1="102.2" x2="1161.6" y2="95.8" stroke="#4c4c4c" stroke-width="1.5"/><line x1="1162.7" y1="77.6" x2="1167.5" y2="76.5" stroke="#4c4c4c" stroke-width="1.5"/><line x1="1172.3" y1="75.4" x2="1167.5" y2="76.5" stroke="#2838d0" stroke-width="1.5"/><line x1="1172.3" y1="75.4" x2="1180.6" y2="75" stroke="#2838d0" stroke-width="1.5"/><line x1="1188.9" y1="74.6" x2="1180.6" y2="75" stroke="#4c4c4c" stroke-width="1.5"/><line x1="1188.9" y1="74.6" x2="1190.9" y2="68.75" stroke="#4c4c4c" stroke-width="1.5"/><line x1="1192.9" y1="62.9" x2="1190.9" y2="68.75" stroke="#4c4c4c" stroke-width="1.5"/><line x1="1192.9" y1="62.9" x2="1187.35" y2="59.2" stroke="#4c4c4c" stroke-width="1.5"/><line x1="1181.8" y1="55.5" x2="1187.35" y2="59.2" stroke="#b81c1c" stroke-width="1.5"/><line x1="1192.9" y1="62.9" x2="1197.3" y2="57.7" stroke="#4c4c4c" stroke-width="1.5"/><line x1="1201.7" y1="52.5" x2="1197.3" y2="57.7" stroke="#b81c1c" stroke-width="1.5"/><line x1="1201.7" y1="52.5" x2="1205.4" y2="50.3" stroke="#b81c1c" stroke-width="1.5"/><line x1="1209.1" y1="48.1" x2="1205.4" y2="50.3" stroke="#4c4c4c" stroke-width="1.5"/><line x1="1201.7" y1="52.5" x2="1204.3" y2="48.1" stroke="#b81c1c" stroke-width="1.5"/><line x1="1206.9" y1="43.7" x2="1204.3" y2="48.1" stroke="#4c4c4c" stroke-width="1.5"/><line x1="1201.7" y1="52.5" x2="1206.5" y2="50.7" stroke="#b81c1c" stroke-width="1.5"/><line x1="1211.3" y1="48.9" x2="1206.5" y2="50.7" stroke="#4c4c4c" stroke-width="1.5"/><line x1="1209.1" y1="48.1" x2="1208" y2="45.9" stroke="#4c4c4c" stroke-width="1.5"/><line x1="1206.9" y1="43.7" x2="1208" y2="45.9" stroke="#4c4c4c" stroke-width="1.5"/><line x1="1209.1" y1="48.1" x2="1211.3" y2="43.35" stroke="#4c4c4c" stroke-width="1.5"/><line x1="1213.5" y1="38.6" x2="1211.3" y2="43.35" stroke="#4c4c4c" stroke-width="1.5"/><line x1="1209.1" y1="48.1" x2="1213.5" y2="44.8" stroke="#4c4c4c" stroke-width="1.5"/><line x1="1217.9" y1="41.5" x2="1213.5" y2="44.8" stroke="#4c4c4c" stroke-width="1.5"/><line x1="1209.1" y1="48.1" x2="1210.2" y2="48.5" stroke="#4c4c4c" stroke-width="1.5"/><line x1="1211.3" y1="48.9" x2="1210.2" y2="48.5" stroke="#4c4c4c" stroke-width="1.5"/><line x1="1206.9" y1="43.7" x2="1210.2" y2="41.15" stroke="#4c4c4c" stroke-width="1.5"/><line x1="1213.5" y1="38.6" x2="1210.2" y2="41.15" stroke="#4c4c4c" stroke-width="1.5"/><line x1="1206.9" y1="43.7" x2="1212.4" y2="42.6" stroke="#4c4c4c" stroke-width="1.5"/><line x1="1217.9" y1="41.5" x2="1212.4" y2="42.6" stroke="#4c4c4c" stroke-width="1.5"/><line x1="1206.9" y1="43.7" x2="1209.1" y2="46.3" stroke="#4c4c4c" stroke-width="1.5"/><line x1="1211.3" y1="48.9" x2="1209.1" y2="46.3" stroke="#4c4c4c" stroke-width="1.5"/><line x1="1213.5" y1="38.6" x2="1215.7" y2="40.05" stroke="#4c4c4c" stroke-width="1.5"/><line x1="1217.9" y1="41.5" x2="1215.7" y2="40.05" stroke="#4c4c4c" stroke-width="1.5"/><line x1="1213.5" y1="38.6" x2="1212.4" y2="43.75" stroke="#4c4c4c" stroke-width="1.5"/><line x1="1211.3" y1="48.9" x2="1212.4" y2="43.75" stroke="#4c4c4c" stroke-width="1.5"/><line x1="1217.9" y1="41.5" x2="1214.6" y2="45.2" stroke="#4c4c4c" stroke-width="1.5"/><line x1="1211.3" y1="48.9" x2="1214.6" y2="45.2" stroke="#4c4c4c" stroke-width="1.5"/><line x1="1156.5" y1="46.7" x2="1159.25" y2="42.1" stroke="#4c4c4c" stroke-width="0.95"/><line x1="1162" y1="37.5" x2="1159.25" y2="42.1" stroke="#a8a8a8" stroke-width="0.95"/><line x1="1156.5" y1="46.7" x2="1151" y2="45.85" stroke="#4c4c4c" stroke-width="0.95"/><line x1="1145.5" y1="45" x2="1151" y2="45.85" stroke="#a8a8a8" stroke-width="0.95"/><line x1="1181.8" y1="55.5" x2="1177.4" y2="54" stroke="#b81c1c" stroke-width="0.95"/><line x1="1173" y1="52.5" x2="1177.4" y2="54" stroke="#a8a8a8" stroke-width="0.95"/><line x1="1145" y1="66.5" x2="1143.5" y2="61.5" stroke="#4c4c4c" stroke-width="0.95"/><line x1="1142" y1="56.5" x2="1143.5" y2="61.5" stroke="#a8a8a8" stroke-width="0.95"/><line x1="1172.3" y1="75.4" x2="1172.15" y2="69.45" stroke="#2838d0" stroke-width="0.95"/><line x1="1172" y1="63.5" x2="1172.15" y2="69.45" stroke="#a8a8a8" stroke-width="0.95"/><line x1="1172.3" y1="75.4" x2="1171.65" y2="79.2" stroke="#2838d0" stroke-width="0.95"/><line x1="1171" y1="83" x2="1171.65" y2="79.2" stroke="#a8a8a8" stroke-width="0.95"/><line x1="1139.9" y1="104.1" x2="1134.95" y2="104.05" stroke="#2838d0" stroke-width="0.95"/><line x1="1130" y1="104" x2="1134.95" y2="104.05" stroke="#a8a8a8" stroke-width="0.95"/><line x1="1139.9" y1="104.1" x2="1142.95" y2="108.05" stroke="#2838d0" stroke-width="0.95"/><line x1="1146" y1="112" x2="1142.95" y2="108.05" stroke="#a8a8a8" stroke-width="0.95"/><line x1="1166.4" y1="102.2" x2="1171.2" y2="100.6" stroke="#4c4c4c" stroke-width="0.95"/><line x1="1176" y1="99" x2="1171.2" y2="100.6" stroke="#a8a8a8" stroke-width="0.95"/><line x1="1166.4" y1="102.2" x2="1165.45" y2="104.6" stroke="#4c4c4c" stroke-width="0.95"/><line x1="1164.5" y1="107" x2="1165.45" y2="104.6" stroke="#a8a8a8" stroke-width="0.95"/><line x1="1188.9" y1="74.6" x2="1190.95" y2="78.3" stroke="#4c4c4c" stroke-width="0.95"/><line x1="1193" y1="82" x2="1190.95" y2="78.3" stroke="#a8a8a8" stroke-width="0.95"/><line x1="1192.9" y1="62.9" x2="1195.7" y2="65.45" stroke="#4c4c4c" stroke-width="0.95"/><line x1="1198.5" y1="68" x2="1195.7" y2="65.45" stroke="#a8a8a8" stroke-width="0.95"/><line x1="1213.5" y1="38.6" x2="1211" y2="33.05" stroke="#4c4c4c" stroke-width="0.95"/><line x1="1208.5" y1="27.5" x2="1211" y2="33.05" stroke="#a8a8a8" stroke-width="0.95"/><line x1="1206.9" y1="43.7" x2="1201.45" y2="43.35" stroke="#4c4c4c" stroke-width="0.95"/><line x1="1196" y1="43" x2="1201.45" y2="43.35" stroke="#a8a8a8" stroke-width="0.95"/><line x1="1217.9" y1="41.5" x2="1219.7" y2="45" stroke="#4c4c4c" stroke-width="0.95"/><line x1="1221.5" y1="48.5" x2="1219.7" y2="45" stroke="#a8a8a8" stroke-width="0.95"/><line x1="1211.3" y1="48.9" x2="1212.65" y2="51.95" stroke="#4c4c4c" stroke-width="0.95"/><line x1="1214" y1="55" x2="1212.65" y2="51.95" stroke="#a8a8a8" stroke-width="0.95"/><circle cx="1162" cy="37.5" r="1.9" fill="url(#gH)"/><circle cx="1145.5" cy="45" r="1.9" fill="url(#gH)"/><circle cx="1173" cy="52.5" r="1.9" fill="url(#gH)"/><circle cx="1142" cy="56.5" r="1.9" fill="url(#gH)"/><circle cx="1172" cy="63.5" r="1.9" fill="url(#gH)"/><circle cx="1171" cy="83" r="1.9" fill="url(#gH)"/><circle cx="1130" cy="104" r="1.9" fill="url(#gH)"/><circle cx="1146" cy="112" r="1.9" fill="url(#gH)"/><circle cx="1176" cy="99" r="1.9" fill="url(#gH)"/><circle cx="1164.5" cy="107" r="1.9" fill="url(#gH)"/><circle cx="1193" cy="82" r="1.9" fill="url(#gH)"/><circle cx="1198.5" cy="68" r="1.9" fill="url(#gH)"/><circle cx="1208.5" cy="27.5" r="1.9" fill="url(#gH)"/><circle cx="1196" cy="43" r="1.9" fill="url(#gH)"/><circle cx="1221.5" cy="48.5" r="1.9" fill="url(#gH)"/><circle cx="1214" cy="55" r="1.9" fill="url(#gH)"/><circle cx="1156.5" cy="46.7" r="4.2" fill="url(#gC)"/><circle cx="1161.5" cy="51.8" r="4.2" fill="url(#gC)"/><circle cx="1155.3" cy="65.8" r="4.2" fill="url(#gC)"/><circle cx="1145" cy="66.5" r="4.2" fill="url(#gC)"/><circle cx="1139.1" cy="78.6" r="4.2" fill="url(#gC)"/><circle cx="1145" cy="91.3" r="4.2" fill="url(#gC)"/><circle cx="1156.8" cy="89.4" r="4.2" fill="url(#gC)"/><circle cx="1162.7" cy="77.6" r="4.2" fill="url(#gC)"/><circle cx="1172.3" cy="75.4" r="3.4" fill="url(#gN)"/><circle cx="1139.9" cy="104.1" r="3.4" fill="url(#gN)"/><circle cx="1166.4" cy="102.2" r="4.2" fill="url(#gC)"/><circle cx="1188.9" cy="74.6" r="4.2" fill="url(#gC)"/><circle cx="1192.9" cy="62.9" r="4.2" fill="url(#gC)"/><circle cx="1181.8" cy="55.5" r="3.4" fill="url(#gO)"/><circle cx="1201.7" cy="52.5" r="3.4" fill="url(#gO)"/><circle cx="1209.1" cy="48.1" r="4.2" fill="url(#gC)"/><circle cx="1206.9" cy="43.7" r="4.2" fill="url(#gC)"/><circle cx="1213.5" cy="38.6" r="4.2" fill="url(#gC)"/><circle cx="1217.9" cy="41.5" r="4.2" fill="url(#gC)"/><circle cx="1211.3" cy="48.9" r="4.2" fill="url(#gC)"/><circle cx="1128" cy="78.5" r="4.2" fill="url(#gC)"/></g><clipPath id="tc5"><rect x="701" y="0" width="97.5" height="240"/></clipPath><g clip-path="url(#tc5)"><line x1="723.7" y1="150.2" x2="730.35" y2="152.4" stroke="#4c4c4c" stroke-width="1.5"/><line x1="737" y1="154.6" x2="730.35" y2="152.4" stroke="#4c4c4c" stroke-width="1.5"/><line x1="737" y1="154.6" x2="735.3" y2="161.95" stroke="#4c4c4c" stroke-width="1.5"/><line x1="733.6" y1="169.3" x2="735.3" y2="161.95" stroke="#4c4c4c" stroke-width="1.5"/><line x1="733.6" y1="169.3" x2="727.55" y2="169.55" stroke="#4c4c4c" stroke-width="1.5"/><line x1="721.5" y1="169.8" x2="727.55" y2="169.55" stroke="#4c4c4c" stroke-width="1.5"/><line x1="733.6" y1="169.3" x2="736.25" y2="175.4" stroke="#4c4c4c" stroke-width="1.5"/><line x1="738.9" y1="181.5" x2="736.25" y2="175.4" stroke="#4c4c4c" stroke-width="1.5"/><line x1="721.5" y1="169.8" x2="718.4" y2="176.2" stroke="#4c4c4c" stroke-width="1.5"/><line x1="715.3" y1="182.6" x2="718.4" y2="176.2" stroke="#4c4c4c" stroke-width="1.5"/><line x1="715.3" y1="182.6" x2="718.4" y2="188.85" stroke="#4c4c4c" stroke-width="1.5"/><line x1="721.5" y1="195.1" x2="718.4" y2="188.85" stroke="#4c4c4c" stroke-width="1.5"/><line x1="715.3" y1="182.6" x2="708.85" y2="183.7" stroke="#4c4c4c" stroke-width="1.5"/><line x1="702.4" y1="184.8" x2="708.85" y2="183.7" stroke="#4c4c4c" stroke-width="1.5"/><line x1="721.5" y1="195.1" x2="727.75" y2="194.2" stroke="#4c4c4c" stroke-width="1.5"/><line x1="734" y1="193.3" x2="727.75" y2="194.2" stroke="#4c4c4c" stroke-width="1.5"/><line x1="721.5" y1="195.1" x2="718.4" y2="201.15" stroke="#4c4c4c" stroke-width="1.5"/><line x1="715.3" y1="207.2" x2="718.4" y2="201.15" stroke="#2838d0" stroke-width="1.5"/><line x1="734" y1="193.3" x2="736.45" y2="187.4" stroke="#4c4c4c" stroke-width="1.5"/><line x1="738.9" y1="181.5" x2="736.45" y2="187.4" stroke="#4c4c4c" stroke-width="1.5"/><line x1="734" y1="193.3" x2="737.45" y2="199.7" stroke="#4c4c4c" stroke-width="1.5"/><line x1="740.9" y1="206.1" x2="737.45" y2="199.7" stroke="#4c4c4c" stroke-width="1.5"/><line x1="738.9" y1="181.5" x2="743.6" y2="182.05" stroke="#4c4c4c" stroke-width="1.5"/><line x1="748.3" y1="182.6" x2="743.6" y2="182.05" stroke="#2838d0" stroke-width="1.5"/><line x1="748.3" y1="182.6" x2="756.1" y2="182.8" stroke="#2838d0" stroke-width="1.5"/><line x1="763.9" y1="183" x2="756.1" y2="182.8" stroke="#4c4c4c" stroke-width="1.5"/><line x1="763.9" y1="183" x2="766.85" y2="176.9" stroke="#4c4c4c" stroke-width="1.5"/><line x1="769.8" y1="170.8" x2="766.85" y2="176.9" stroke="#4c4c4c" stroke-width="1.5"/><line x1="769.8" y1="170.8" x2="764.65" y2="166.6" stroke="#4c4c4c" stroke-width="1.5"/><line x1="759.5" y1="162.4" x2="764.65" y2="166.6" stroke="#b81c1c" stroke-width="1.5"/><line x1="769.8" y1="170.8" x2="773.5" y2="165.15" stroke="#4c4c4c" stroke-width="1.5"/><line x1="777.2" y1="159.5" x2="773.5" y2="165.15" stroke="#b81c1c" stroke-width="1.5"/><line x1="769.8" y1="170.8" x2="775.85" y2="167.35" stroke="#4c4c4c" stroke-width="1.5"/><line x1="781.9" y1="163.9" x2="775.85" y2="167.35" stroke="#4c4c4c" stroke-width="1.5"/><line x1="777.2" y1="159.5" x2="779.55" y2="161.7" stroke="#b81c1c" stroke-width="1.5"/><line x1="781.9" y1="163.9" x2="779.55" y2="161.7" stroke="#4c4c4c" stroke-width="1.5"/><line x1="777.2" y1="159.5" x2="779.9" y2="151.55" stroke="#b81c1c" stroke-width="1.5"/><line x1="782.6" y1="143.6" x2="779.9" y2="151.55" stroke="#4c4c4c" stroke-width="1.5"/><line x1="777.2" y1="159.5" x2="779.55" y2="156.7" stroke="#b81c1c" stroke-width="1.5"/><line x1="781.9" y1="153.9" x2="779.55" y2="156.7" stroke="#4c4c4c" stroke-width="1.5"/><line x1="777.2" y1="159.5" x2="782.1" y2="158.15" stroke="#b81c1c" stroke-width="1.5"/><line x1="787" y1="156.8" x2="782.1" y2="158.15" stroke="#4c4c4c" stroke-width="1.5"/><line x1="781.9" y1="163.9" x2="781.9" y2="158.9" stroke="#4c4c4c" stroke-width="1.5"/><line x1="781.9" y1="153.9" x2="781.9" y2="158.9" stroke="#4c4c4c" stroke-width="1.5"/><line x1="781.9" y1="163.9" x2="784.45" y2="160.35" stroke="#4c4c4c" stroke-width="1.5"/><line x1="787" y1="156.8" x2="784.45" y2="160.35" stroke="#4c4c4c" stroke-width="1.5"/><line x1="782.6" y1="143.6" x2="786.3" y2="145.8" stroke="#4c4c4c" stroke-width="1.5"/><line x1="790" y1="148" x2="786.3" y2="145.8" stroke="#4c4c4c" stroke-width="1.5"/><line x1="782.6" y1="143.6" x2="782.25" y2="148.75" stroke="#4c4c4c" stroke-width="1.5"/><line x1="781.9" y1="153.9" x2="782.25" y2="148.75" stroke="#4c4c4c" stroke-width="1.5"/><line x1="782.6" y1="143.6" x2="784.8" y2="150.2" stroke="#4c4c4c" stroke-width="1.5"/><line x1="787" y1="156.8" x2="784.8" y2="150.2" stroke="#4c4c4c" stroke-width="1.5"/><line x1="790" y1="148" x2="785.95" y2="150.95" stroke="#4c4c4c" stroke-width="1.5"/><line x1="781.9" y1="153.9" x2="785.95" y2="150.95" stroke="#4c4c4c" stroke-width="1.5"/><line x1="790" y1="148" x2="788.5" y2="152.4" stroke="#4c4c4c" stroke-width="1.5"/><line x1="787" y1="156.8" x2="788.5" y2="152.4" stroke="#4c4c4c" stroke-width="1.5"/><line x1="790" y1="148" x2="794.25" y2="151.3" stroke="#4c4c4c" stroke-width="1.5"/><line x1="798.5" y1="154.6" x2="794.25" y2="151.3" stroke="#4c4c4c" stroke-width="1.5"/><line x1="781.9" y1="153.9" x2="784.45" y2="155.35" stroke="#4c4c4c" stroke-width="1.5"/><line x1="787" y1="156.8" x2="784.45" y2="155.35" stroke="#4c4c4c" stroke-width="1.5"/><line x1="781.9" y1="153.9" x2="790.2" y2="154.25" stroke="#4c4c4c" stroke-width="1.5"/><line x1="798.5" y1="154.6" x2="790.2" y2="154.25" stroke="#4c4c4c" stroke-width="1.5"/><line x1="787" y1="156.8" x2="792.75" y2="155.7" stroke="#4c4c4c" stroke-width="1.5"/><line x1="798.5" y1="154.6" x2="792.75" y2="155.7" stroke="#4c4c4c" stroke-width="1.5"/><line x1="723.7" y1="150.2" x2="724.1" y2="145.1" stroke="#4c4c4c" stroke-width="0.95"/><line x1="724.5" y1="140" x2="724.1" y2="145.1" stroke="#a8a8a8" stroke-width="0.95"/><line x1="723.7" y1="150.2" x2="719.1" y2="149.1" stroke="#4c4c4c" stroke-width="0.95"/><line x1="714.5" y1="148" x2="719.1" y2="149.1" stroke="#a8a8a8" stroke-width="0.95"/><line x1="723.7" y1="150.2" x2="721.85" y2="153.1" stroke="#4c4c4c" stroke-width="0.95"/><line x1="720" y1="156" x2="721.85" y2="153.1" stroke="#a8a8a8" stroke-width="0.95"/><line x1="737" y1="154.6" x2="738" y2="151.05" stroke="#4c4c4c" stroke-width="0.95"/><line x1="739" y1="147.5" x2="738" y2="151.05" stroke="#a8a8a8" stroke-width="0.95"/><line x1="737" y1="154.6" x2="741" y2="155.05" stroke="#4c4c4c" stroke-width="0.95"/><line x1="745" y1="155.5" x2="741" y2="155.05" stroke="#a8a8a8" stroke-width="0.95"/><line x1="721.5" y1="169.8" x2="718" y2="165.15" stroke="#4c4c4c" stroke-width="0.95"/><line x1="714.5" y1="160.5" x2="718" y2="165.15" stroke="#a8a8a8" stroke-width="0.95"/><line x1="748.3" y1="182.6" x2="747.9" y2="176.3" stroke="#2838d0" stroke-width="0.95"/><line x1="747.5" y1="170" x2="747.9" y2="176.3" stroke="#a8a8a8" stroke-width="0.95"/><line x1="748.3" y1="182.6" x2="746.9" y2="187.3" stroke="#2838d0" stroke-width="0.95"/><line x1="745.5" y1="192" x2="746.9" y2="187.3" stroke="#a8a8a8" stroke-width="0.95"/><line x1="715.3" y1="207.2" x2="710.15" y2="206.85" stroke="#2838d0" stroke-width="0.95"/><line x1="705" y1="206.5" x2="710.15" y2="206.85" stroke="#a8a8a8" stroke-width="0.95"/><line x1="715.3" y1="207.2" x2="717.9" y2="211.85" stroke="#2838d0" stroke-width="0.95"/><line x1="720.5" y1="216.5" x2="717.9" y2="211.85" stroke="#a8a8a8" stroke-width="0.95"/><line x1="740.9" y1="206.1" x2="745.7" y2="205.55" stroke="#4c4c4c" stroke-width="0.95"/><line x1="750.5" y1="205" x2="745.7" y2="205.55" stroke="#a8a8a8" stroke-width="0.95"/><line x1="740.9" y1="206.1" x2="738.95" y2="209.05" stroke="#4c4c4c" stroke-width="0.95"/><line x1="737" y1="212" x2="738.95" y2="209.05" stroke="#a8a8a8" stroke-width="0.95"/><line x1="763.9" y1="183" x2="765.7" y2="187.5" stroke="#4c4c4c" stroke-width="0.95"/><line x1="767.5" y1="192" x2="765.7" y2="187.5" stroke="#a8a8a8" stroke-width="0.95"/><line x1="769.8" y1="170.8" x2="772.15" y2="174.65" stroke="#4c4c4c" stroke-width="0.95"/><line x1="774.5" y1="178.5" x2="772.15" y2="174.65" stroke="#a8a8a8" stroke-width="0.95"/><line x1="781.9" y1="163.9" x2="786.2" y2="166.95" stroke="#4c4c4c" stroke-width="0.95"/><line x1="790.5" y1="170" x2="786.2" y2="166.95" stroke="#a8a8a8" stroke-width="0.95"/><line x1="782.6" y1="143.6" x2="783.3" y2="138.3" stroke="#4c4c4c" stroke-width="0.95"/><line x1="784" y1="133" x2="783.3" y2="138.3" stroke="#a8a8a8" stroke-width="0.95"/><line x1="782.6" y1="143.6" x2="776.55" y2="144.3" stroke="#4c4c4c" stroke-width="0.95"/><line x1="770.5" y1="145" x2="776.55" y2="144.3" stroke="#a8a8a8" stroke-width="0.95"/><line x1="777.2" y1="159.5" x2="773.35" y2="157" stroke="#b81c1c" stroke-width="0.95"/><line x1="769.5" y1="154.5" x2="773.35" y2="157" stroke="#a8a8a8" stroke-width="0.95"/><line x1="790" y1="148" x2="793.5" y2="147.25" stroke="#4c4c4c" stroke-width="0.95"/><line x1="797" y1="146.5" x2="793.5" y2="147.25" stroke="#a8a8a8" stroke-width="0.95"/><line x1="702.4" y1="184.8" x2="703.7" y2="187.4" stroke="#4c4c4c" stroke-width="0.95"/><line x1="705" y1="190" x2="703.7" y2="187.4" stroke="#a8a8a8" stroke-width="0.95"/><circle cx="724.5" cy="140" r="1.9" fill="url(#gH)"/><circle cx="714.5" cy="148" r="1.9" fill="url(#gH)"/><circle cx="720" cy="156" r="1.9" fill="url(#gH)"/><circle cx="739" cy="147.5" r="1.9" fill="url(#gH)"/><circle cx="745" cy="155.5" r="1.9" fill="url(#gH)"/><circle cx="714.5" cy="160.5" r="1.9" fill="url(#gH)"/><circle cx="747.5" cy="170" r="1.9" fill="url(#gH)"/><circle cx="745.5" cy="192" r="1.9" fill="url(#gH)"/><circle cx="705" cy="206.5" r="1.9" fill="url(#gH)"/><circle cx="720.5" cy="216.5" r="1.9" fill="url(#gH)"/><circle cx="750.5" cy="205" r="1.9" fill="url(#gH)"/><circle cx="737" cy="212" r="1.9" fill="url(#gH)"/><circle cx="767.5" cy="192" r="1.9" fill="url(#gH)"/><circle cx="774.5" cy="178.5" r="1.9" fill="url(#gH)"/><circle cx="790.5" cy="170" r="1.9" fill="url(#gH)"/><circle cx="784" cy="133" r="1.9" fill="url(#gH)"/><circle cx="770.5" cy="145" r="1.9" fill="url(#gH)"/><circle cx="769.5" cy="154.5" r="1.9" fill="url(#gH)"/><circle cx="797" cy="146.5" r="1.9" fill="url(#gH)"/><circle cx="705" cy="190" r="1.9" fill="url(#gH)"/><circle cx="723.7" cy="150.2" r="4.2" fill="url(#gC)"/><circle cx="737" cy="154.6" r="4.2" fill="url(#gC)"/><circle cx="733.6" cy="169.3" r="4.2" fill="url(#gC)"/><circle cx="721.5" cy="169.8" r="4.2" fill="url(#gC)"/><circle cx="715.3" cy="182.6" r="4.2" fill="url(#gC)"/><circle cx="721.5" cy="195.1" r="4.2" fill="url(#gC)"/><circle cx="734" cy="193.3" r="4.2" fill="url(#gC)"/><circle cx="738.9" cy="181.5" r="4.2" fill="url(#gC)"/><circle cx="748.3" cy="182.6" r="3.4" fill="url(#gN)"/><circle cx="715.3" cy="207.2" r="3.4" fill="url(#gN)"/><circle cx="740.9" cy="206.1" r="4.2" fill="url(#gC)"/><circle cx="763.9" cy="183" r="4.2" fill="url(#gC)"/><circle cx="769.8" cy="170.8" r="4.2" fill="url(#gC)"/><circle cx="759.5" cy="162.4" r="3.4" fill="url(#gO)"/><circle cx="777.2" cy="159.5" r="3.4" fill="url(#gO)"/><circle cx="781.9" cy="163.9" r="4.2" fill="url(#gC)"/><circle cx="782.6" cy="143.6" r="4.2" fill="url(#gC)"/><circle cx="790" cy="148" r="4.2" fill="url(#gC)"/><circle cx="781.9" cy="153.9" r="4.2" fill="url(#gC)"/><circle cx="787" cy="156.8" r="4.2" fill="url(#gC)"/><circle cx="702.4" cy="184.8" r="4.2" fill="url(#gC)"/><circle cx="798.5" cy="154.6" r="4.2" fill="url(#gC)"/><circle cx="747.3" cy="170.8" r="8.8" fill="none" stroke="#f04444" stroke-width="2.1"/></g><clipPath id="tc6"><rect x="804" y="0" width="98" height="240"/></clipPath><g clip-path="url(#tc6)"><line x1="827.2" y1="146.5" x2="833.5" y2="150.55" stroke="#4c4c4c" stroke-width="1.5"/><line x1="839.8" y1="154.6" x2="833.5" y2="150.55" stroke="#4c4c4c" stroke-width="1.5"/><line x1="839.8" y1="154.6" x2="837.4" y2="161.75" stroke="#4c4c4c" stroke-width="1.5"/><line x1="835" y1="168.9" x2="837.4" y2="161.75" stroke="#4c4c4c" stroke-width="1.5"/><line x1="835" y1="168.9" x2="829.65" y2="169.65" stroke="#4c4c4c" stroke-width="1.5"/><line x1="824.3" y1="170.4" x2="829.65" y2="169.65" stroke="#4c4c4c" stroke-width="1.5"/><line x1="835" y1="168.9" x2="838.5" y2="174.65" stroke="#4c4c4c" stroke-width="1.5"/><line x1="842" y1="180.4" x2="838.5" y2="174.65" stroke="#4c4c4c" stroke-width="1.5"/><line x1="824.3" y1="170.4" x2="821.55" y2="176.7" stroke="#4c4c4c" stroke-width="1.5"/><line x1="818.8" y1="183" x2="821.55" y2="176.7" stroke="#4c4c4c" stroke-width="1.5"/><line x1="818.8" y1="183" x2="822.3" y2="189.05" stroke="#4c4c4c" stroke-width="1.5"/><line x1="825.8" y1="195.1" x2="822.3" y2="189.05" stroke="#4c4c4c" stroke-width="1.5"/><line x1="818.8" y1="183" x2="812.35" y2="183.15" stroke="#4c4c4c" stroke-width="1.5"/><line x1="805.9" y1="183.3" x2="812.35" y2="183.15" stroke="#4c4c4c" stroke-width="1.5"/><line x1="825.8" y1="195.1" x2="831.65" y2="193.75" stroke="#4c4c4c" stroke-width="1.5"/><line x1="837.5" y1="192.4" x2="831.65" y2="193.75" stroke="#4c4c4c" stroke-width="1.5"/><line x1="825.8" y1="195.1" x2="823.55" y2="201.35" stroke="#4c4c4c" stroke-width="1.5"/><line x1="821.3" y1="207.6" x2="823.55" y2="201.35" stroke="#2838d0" stroke-width="1.5"/><line x1="837.5" y1="192.4" x2="839.75" y2="186.4" stroke="#4c4c4c" stroke-width="1.5"/><line x1="842" y1="180.4" x2="839.75" y2="186.4" stroke="#4c4c4c" stroke-width="1.5"/><line x1="837.5" y1="192.4" x2="841.2" y2="199.05" stroke="#4c4c4c" stroke-width="1.5"/><line x1="844.9" y1="205.7" x2="841.2" y2="199.05" stroke="#4c4c4c" stroke-width="1.5"/><line x1="842" y1="180.4" x2="846.6" y2="180" stroke="#4c4c4c" stroke-width="1.5"/><line x1="851.2" y1="179.6" x2="846.6" y2="180" stroke="#2838d0" stroke-width="1.5"/><line x1="851.2" y1="179.6" x2="859.3" y2="181.45" stroke="#2838d0" stroke-width="1.5"/><line x1="867.4" y1="183.3" x2="859.3" y2="181.45" stroke="#4c4c4c" stroke-width="1.5"/><line x1="867.4" y1="183.3" x2="871.25" y2="178" stroke="#4c4c4c" stroke-width="1.5"/><line x1="875.1" y1="172.7" x2="871.25" y2="178" stroke="#4c4c4c" stroke-width="1.5"/><line x1="875.1" y1="172.7" x2="870.55" y2="168.3" stroke="#4c4c4c" stroke-width="1.5"/><line x1="866" y1="163.9" x2="870.55" y2="168.3" stroke="#b81c1c" stroke-width="1.5"/><line x1="875.1" y1="172.7" x2="877.9" y2="168.8" stroke="#4c4c4c" stroke-width="1.5"/><line x1="880.7" y1="164.9" x2="877.9" y2="168.8" stroke="#b81c1c" stroke-width="1.5"/><line x1="875.1" y1="172.7" x2="880.25" y2="169.15" stroke="#4c4c4c" stroke-width="1.5"/><line x1="885.4" y1="165.6" x2="880.25" y2="169.15" stroke="#4c4c4c" stroke-width="1.5"/><line x1="880.7" y1="164.9" x2="883.05" y2="165.25" stroke="#b81c1c" stroke-width="1.5"/><line x1="885.4" y1="165.6" x2="883.05" y2="165.25" stroke="#4c4c4c" stroke-width="1.5"/><line x1="880.7" y1="164.9" x2="881.6" y2="158.65" stroke="#b81c1c" stroke-width="1.5"/><line x1="882.5" y1="152.4" x2="881.6" y2="158.65" stroke="#4c4c4c" stroke-width="1.5"/><line x1="880.7" y1="164.9" x2="884.35" y2="160.85" stroke="#b81c1c" stroke-width="1.5"/><line x1="888" y1="156.8" x2="884.35" y2="160.85" stroke="#4c4c4c" stroke-width="1.5"/><line x1="885.4" y1="165.6" x2="883.95" y2="159" stroke="#4c4c4c" stroke-width="1.5"/><line x1="882.5" y1="152.4" x2="883.95" y2="159" stroke="#4c4c4c" stroke-width="1.5"/><line x1="885.4" y1="165.6" x2="886.7" y2="161.2" stroke="#4c4c4c" stroke-width="1.5"/><line x1="888" y1="156.8" x2="886.7" y2="161.2" stroke="#4c4c4c" stroke-width="1.5"/><line x1="885.1" y1="143.6" x2="888.35" y2="145.2" stroke="#4c4c4c" stroke-width="1.5"/><line x1="891.6" y1="146.8" x2="888.35" y2="145.2" stroke="#4c4c4c" stroke-width="1.5"/><line x1="885.1" y1="143.6" x2="883.8" y2="148" stroke="#4c4c4c" stroke-width="1.5"/><line x1="882.5" y1="152.4" x2="883.8" y2="148" stroke="#4c4c4c" stroke-width="1.5"/><line x1="885.1" y1="143.6" x2="886.55" y2="150.2" stroke="#4c4c4c" stroke-width="1.5"/><line x1="888" y1="156.8" x2="886.55" y2="150.2" stroke="#4c4c4c" stroke-width="1.5"/><line x1="891.6" y1="146.8" x2="887.05" y2="149.6" stroke="#4c4c4c" stroke-width="1.5"/><line x1="882.5" y1="152.4" x2="887.05" y2="149.6" stroke="#4c4c4c" stroke-width="1.5"/><line x1="891.6" y1="146.8" x2="889.8" y2="151.8" stroke="#4c4c4c" stroke-width="1.5"/><line x1="888" y1="156.8" x2="889.8" y2="151.8" stroke="#4c4c4c" stroke-width="1.5"/><line x1="891.6" y1="146.8" x2="895.85" y2="150.35" stroke="#4c4c4c" stroke-width="1.5"/><line x1="900.1" y1="153.9" x2="895.85" y2="150.35" stroke="#4c4c4c" stroke-width="1.5"/><line x1="882.5" y1="152.4" x2="885.25" y2="154.6" stroke="#4c4c4c" stroke-width="1.5"/><line x1="888" y1="156.8" x2="885.25" y2="154.6" stroke="#4c4c4c" stroke-width="1.5"/><line x1="888" y1="156.8" x2="894.05" y2="155.35" stroke="#4c4c4c" stroke-width="1.5"/><line x1="900.1" y1="153.9" x2="894.05" y2="155.35" stroke="#4c4c4c" stroke-width="1.5"/><line x1="827.2" y1="146.5" x2="828.1" y2="141.5" stroke="#4c4c4c" stroke-width="0.95"/><line x1="829" y1="136.5" x2="828.1" y2="141.5" stroke="#a8a8a8" stroke-width="0.95"/><line x1="827.2" y1="146.5" x2="822.85" y2="145.75" stroke="#4c4c4c" stroke-width="0.95"/><line x1="818.5" y1="145" x2="822.85" y2="145.75" stroke="#a8a8a8" stroke-width="0.95"/><line x1="827.2" y1="146.5" x2="824.6" y2="149" stroke="#4c4c4c" stroke-width="0.95"/><line x1="822" y1="151.5" x2="824.6" y2="149" stroke="#a8a8a8" stroke-width="0.95"/><line x1="839.8" y1="154.6" x2="841.65" y2="151.8" stroke="#4c4c4c" stroke-width="0.95"/><line x1="843.5" y1="149" x2="841.65" y2="151.8" stroke="#a8a8a8" stroke-width="0.95"/><line x1="839.8" y1="154.6" x2="843.65" y2="155.05" stroke="#4c4c4c" stroke-width="0.95"/><line x1="847.5" y1="155.5" x2="843.65" y2="155.05" stroke="#a8a8a8" stroke-width="0.95"/><line x1="824.3" y1="170.4" x2="821.4" y2="165.7" stroke="#4c4c4c" stroke-width="0.95"/><line x1="818.5" y1="161" x2="821.4" y2="165.7" stroke="#a8a8a8" stroke-width="0.95"/><line x1="851.2" y1="179.6" x2="852.35" y2="173.8" stroke="#2838d0" stroke-width="0.95"/><line x1="853.5" y1="168" x2="852.35" y2="173.8" stroke="#a8a8a8" stroke-width="0.95"/><line x1="851.2" y1="179.6" x2="850.35" y2="184.3" stroke="#2838d0" stroke-width="0.95"/><line x1="849.5" y1="189" x2="850.35" y2="184.3" stroke="#a8a8a8" stroke-width="0.95"/><line x1="821.3" y1="207.6" x2="817.15" y2="207.55" stroke="#2838d0" stroke-width="0.95"/><line x1="813" y1="207.5" x2="817.15" y2="207.55" stroke="#a8a8a8" stroke-width="0.95"/><line x1="821.3" y1="207.6" x2="824.65" y2="211.8" stroke="#2838d0" stroke-width="0.95"/><line x1="828" y1="216" x2="824.65" y2="211.8" stroke="#a8a8a8" stroke-width="0.95"/><line x1="844.9" y1="205.7" x2="849.95" y2="205.35" stroke="#4c4c4c" stroke-width="0.95"/><line x1="855" y1="205" x2="849.95" y2="205.35" stroke="#a8a8a8" stroke-width="0.95"/><line x1="844.9" y1="205.7" x2="842.45" y2="209.1" stroke="#4c4c4c" stroke-width="0.95"/><line x1="840" y1="212.5" x2="842.45" y2="209.1" stroke="#a8a8a8" stroke-width="0.95"/><line x1="867.4" y1="183.3" x2="867.7" y2="183.65" stroke="#4c4c4c" stroke-width="0.95"/><line x1="868" y1="184" x2="867.7" y2="183.65" stroke="#a8a8a8" stroke-width="0.95"/><line x1="875.1" y1="172.7" x2="878.05" y2="176.35" stroke="#4c4c4c" stroke-width="0.95"/><line x1="881" y1="180" x2="878.05" y2="176.35" stroke="#a8a8a8" stroke-width="0.95"/><line x1="885.4" y1="165.6" x2="890.2" y2="167.55" stroke="#4c4c4c" stroke-width="0.95"/><line x1="895" y1="169.5" x2="890.2" y2="167.55" stroke="#a8a8a8" stroke-width="0.95"/><line x1="885.1" y1="143.6" x2="887.05" y2="139.05" stroke="#4c4c4c" stroke-width="0.95"/><line x1="889" y1="134.5" x2="887.05" y2="139.05" stroke="#a8a8a8" stroke-width="0.95"/><line x1="885.1" y1="143.6" x2="879.05" y2="143.3" stroke="#4c4c4c" stroke-width="0.95"/><line x1="873" y1="143" x2="879.05" y2="143.3" stroke="#a8a8a8" stroke-width="0.95"/><line x1="866" y1="163.9" x2="869" y2="159.45" stroke="#b81c1c" stroke-width="0.95"/><line x1="872" y1="155" x2="869" y2="159.45" stroke="#a8a8a8" stroke-width="0.95"/><line x1="900.1" y1="153.9" x2="900.05" y2="149.7" stroke="#4c4c4c" stroke-width="0.95"/><line x1="900" y1="145.5" x2="900.05" y2="149.7" stroke="#a8a8a8" stroke-width="0.95"/><line x1="805.9" y1="183.3" x2="805.95" y2="188.15" stroke="#4c4c4c" stroke-width="0.95"/><line x1="806" y1="193" x2="805.95" y2="188.15" stroke="#a8a8a8" stroke-width="0.95"/><circle cx="829" cy="136.5" r="1.9" fill="url(#gH)"/><circle cx="818.5" cy="145" r="1.9" fill="url(#gH)"/><circle cx="822" cy="151.5" r="1.9" fill="url(#gH)"/><circle cx="843.5" cy="149" r="1.9" fill="url(#gH)"/><circle cx="847.5" cy="155.5" r="1.9" fill="url(#gH)"/><circle cx="818.5" cy="161" r="1.9" fill="url(#gH)"/><circle cx="853.5" cy="168" r="1.9" fill="url(#gH)"/><circle cx="849.5" cy="189" r="1.9" fill="url(#gH)"/><circle cx="813" cy="207.5" r="1.9" fill="url(#gH)"/><circle cx="828" cy="216" r="1.9" fill="url(#gH)"/><circle cx="855" cy="205" r="1.9" fill="url(#gH)"/><circle cx="840" cy="212.5" r="1.9" fill="url(#gH)"/><circle cx="868" cy="184" r="1.9" fill="url(#gH)"/><circle cx="881" cy="180" r="1.9" fill="url(#gH)"/><circle cx="895" cy="169.5" r="1.9" fill="url(#gH)"/><circle cx="889" cy="134.5" r="1.9" fill="url(#gH)"/><circle cx="873" cy="143" r="1.9" fill="url(#gH)"/><circle cx="872" cy="155" r="1.9" fill="url(#gH)"/><circle cx="900" cy="145.5" r="1.9" fill="url(#gH)"/><circle cx="806" cy="193" r="1.9" fill="url(#gH)"/><circle cx="827.2" cy="146.5" r="4.2" fill="url(#gC)"/><circle cx="839.8" cy="154.6" r="4.2" fill="url(#gC)"/><circle cx="835" cy="168.9" r="4.2" fill="url(#gC)"/><circle cx="824.3" cy="170.4" r="4.2" fill="url(#gC)"/><circle cx="818.8" cy="183" r="4.2" fill="url(#gC)"/><circle cx="825.8" cy="195.1" r="4.2" fill="url(#gC)"/><circle cx="837.5" cy="192.4" r="4.2" fill="url(#gC)"/><circle cx="842" cy="180.4" r="4.2" fill="url(#gC)"/><circle cx="851.2" cy="179.6" r="3.4" fill="url(#gN)"/><circle cx="821.3" cy="207.6" r="3.4" fill="url(#gN)"/><circle cx="844.9" cy="205.7" r="4.2" fill="url(#gC)"/><circle cx="867.4" cy="183.3" r="4.2" fill="url(#gC)"/><circle cx="875.1" cy="172.7" r="4.2" fill="url(#gC)"/><circle cx="866" cy="163.9" r="3.4" fill="url(#gO)"/><circle cx="880.7" cy="164.9" r="3.4" fill="url(#gO)"/><circle cx="885.4" cy="165.6" r="4.2" fill="url(#gC)"/><circle cx="885.1" cy="143.6" r="4.2" fill="url(#gC)"/><circle cx="891.6" cy="146.8" r="4.2" fill="url(#gC)"/><circle cx="882.5" cy="152.4" r="4.2" fill="url(#gC)"/><circle cx="888" cy="156.8" r="4.2" fill="url(#gC)"/><circle cx="900.1" cy="153.9" r="4.2" fill="url(#gC)"/><circle cx="805.9" cy="183.3" r="4.2" fill="url(#gC)"/></g><clipPath id="tc7"><rect x="908" y="0" width="99" height="240"/></clipPath><g clip-path="url(#tc7)"><line x1="941.1" y1="144.4" x2="946" y2="150.7" stroke="#4c4c4c" stroke-width="1.5"/><line x1="950.9" y1="157" x2="946" y2="150.7" stroke="#4c4c4c" stroke-width="1.5"/><line x1="950.9" y1="157" x2="947.7" y2="163.4" stroke="#4c4c4c" stroke-width="1.5"/><line x1="944.5" y1="169.8" x2="947.7" y2="163.4" stroke="#4c4c4c" stroke-width="1.5"/><line x1="944.5" y1="169.8" x2="939.35" y2="169.8" stroke="#4c4c4c" stroke-width="1.5"/><line x1="934.2" y1="169.8" x2="939.35" y2="169.8" stroke="#4c4c4c" stroke-width="1.5"/><line x1="944.5" y1="169.8" x2="946.7" y2="175.65" stroke="#4c4c4c" stroke-width="1.5"/><line x1="948.9" y1="181.5" x2="946.7" y2="175.65" stroke="#4c4c4c" stroke-width="1.5"/><line x1="934.2" y1="169.8" x2="931.55" y2="175.9" stroke="#4c4c4c" stroke-width="1.5"/><line x1="928.9" y1="182" x2="931.55" y2="175.9" stroke="#4c4c4c" stroke-width="1.5"/><line x1="934.2" y1="169.8" x2="926.95" y2="169.65" stroke="#4c4c4c" stroke-width="1.5"/><line x1="919.7" y1="169.5" x2="926.95" y2="169.65" stroke="#4c4c4c" stroke-width="1.5"/><line x1="928.9" y1="182" x2="931.1" y2="188.25" stroke="#4c4c4c" stroke-width="1.5"/><line x1="933.3" y1="194.5" x2="931.1" y2="188.25" stroke="#4c4c4c" stroke-width="1.5"/><line x1="928.9" y1="182" x2="924.3" y2="182" stroke="#4c4c4c" stroke-width="1.5"/><line x1="919.7" y1="182" x2="924.3" y2="182" stroke="#4c4c4c" stroke-width="1.5"/><line x1="933.3" y1="194.5" x2="937.9" y2="193.9" stroke="#4c4c4c" stroke-width="1.5"/><line x1="942.5" y1="193.3" x2="937.9" y2="193.9" stroke="#4c4c4c" stroke-width="1.5"/><line x1="933.3" y1="194.5" x2="931.3" y2="200" stroke="#4c4c4c" stroke-width="1.5"/><line x1="929.3" y1="205.5" x2="931.3" y2="200" stroke="#2838d0" stroke-width="1.5"/><line x1="942.5" y1="193.3" x2="945.7" y2="187.4" stroke="#4c4c4c" stroke-width="1.5"/><line x1="948.9" y1="181.5" x2="945.7" y2="187.4" stroke="#4c4c4c" stroke-width="1.5"/><line x1="942.5" y1="193.3" x2="944.95" y2="200.15" stroke="#4c4c4c" stroke-width="1.5"/><line x1="947.4" y1="207" x2="944.95" y2="200.15" stroke="#4c4c4c" stroke-width="1.5"/><line x1="948.9" y1="181.5" x2="954.05" y2="181.75" stroke="#4c4c4c" stroke-width="1.5"/><line x1="959.2" y1="182" x2="954.05" y2="181.75" stroke="#2838d0" stroke-width="1.5"/><line x1="959.2" y1="182" x2="966.85" y2="183.1" stroke="#2838d0" stroke-width="1.5"/><line x1="974.5" y1="184.2" x2="966.85" y2="183.1" stroke="#4c4c4c" stroke-width="1.5"/><line x1="919.7" y1="169.5" x2="919.7" y2="175.75" stroke="#4c4c4c" stroke-width="1.5"/><line x1="919.7" y1="182" x2="919.7" y2="175.75" stroke="#4c4c4c" stroke-width="1.5"/><line x1="974.5" y1="184.2" x2="978.6" y2="178.9" stroke="#4c4c4c" stroke-width="1.5"/><line x1="982.7" y1="173.6" x2="978.6" y2="178.9" stroke="#4c4c4c" stroke-width="1.5"/><line x1="982.7" y1="173.6" x2="978.6" y2="169.5" stroke="#4c4c4c" stroke-width="1.5"/><line x1="974.5" y1="165.4" x2="978.6" y2="169.5" stroke="#b81c1c" stroke-width="1.5"/><line x1="982.7" y1="173.6" x2="985.45" y2="170.45" stroke="#4c4c4c" stroke-width="1.5"/><line x1="988.2" y1="167.3" x2="985.45" y2="170.45" stroke="#b81c1c" stroke-width="1.5"/><line x1="988.2" y1="167.3" x2="989.3" y2="162.15" stroke="#b81c1c" stroke-width="1.5"/><line x1="990.4" y1="157" x2="989.3" y2="162.15" stroke="#4c4c4c" stroke-width="1.5"/><line x1="988.2" y1="167.3" x2="992.1" y2="163.6" stroke="#b81c1c" stroke-width="1.5"/><line x1="996" y1="159.9" x2="992.1" y2="163.6" stroke="#4c4c4c" stroke-width="1.5"/><line x1="990.1" y1="144.4" x2="993.2" y2="146.25" stroke="#4c4c4c" stroke-width="1.5"/><line x1="996.3" y1="148.1" x2="993.2" y2="146.25" stroke="#4c4c4c" stroke-width="1.5"/><line x1="990.1" y1="144.4" x2="990.25" y2="150.7" stroke="#4c4c4c" stroke-width="1.5"/><line x1="990.4" y1="157" x2="990.25" y2="150.7" stroke="#4c4c4c" stroke-width="1.5"/><line x1="990.1" y1="144.4" x2="993.05" y2="152.15" stroke="#4c4c4c" stroke-width="1.5"/><line x1="996" y1="159.9" x2="993.05" y2="152.15" stroke="#4c4c4c" stroke-width="1.5"/><line x1="996.3" y1="148.1" x2="993.35" y2="152.55" stroke="#4c4c4c" stroke-width="1.5"/><line x1="990.4" y1="157" x2="993.35" y2="152.55" stroke="#4c4c4c" stroke-width="1.5"/><line x1="996.3" y1="148.1" x2="996.15" y2="154" stroke="#4c4c4c" stroke-width="1.5"/><line x1="996" y1="159.9" x2="996.15" y2="154" stroke="#4c4c4c" stroke-width="1.5"/><line x1="996.3" y1="148.1" x2="1001.45" y2="143.35" stroke="#4c4c4c" stroke-width="1.5"/><line x1="1006.6" y1="138.6" x2="1001.45" y2="143.35" stroke="#4c4c4c" stroke-width="1.5"/><line x1="996.3" y1="148.1" x2="1001.45" y2="150.7" stroke="#4c4c4c" stroke-width="1.5"/><line x1="1006.6" y1="153.3" x2="1001.45" y2="150.7" stroke="#4c4c4c" stroke-width="1.5"/><line x1="990.4" y1="157" x2="993.2" y2="158.45" stroke="#4c4c4c" stroke-width="1.5"/><line x1="996" y1="159.9" x2="993.2" y2="158.45" stroke="#4c4c4c" stroke-width="1.5"/><line x1="990.4" y1="157" x2="998.5" y2="155.15" stroke="#4c4c4c" stroke-width="1.5"/><line x1="1006.6" y1="153.3" x2="998.5" y2="155.15" stroke="#4c4c4c" stroke-width="1.5"/><line x1="996" y1="159.9" x2="1001.3" y2="156.6" stroke="#4c4c4c" stroke-width="1.5"/><line x1="1006.6" y1="153.3" x2="1001.3" y2="156.6" stroke="#4c4c4c" stroke-width="1.5"/><line x1="1006.6" y1="138.6" x2="1006.6" y2="145.95" stroke="#4c4c4c" stroke-width="1.5"/><line x1="1006.6" y1="153.3" x2="1006.6" y2="145.95" stroke="#4c4c4c" stroke-width="1.5"/><line x1="941.1" y1="144.4" x2="943.05" y2="139.7" stroke="#4c4c4c" stroke-width="0.95"/><line x1="945" y1="135" x2="943.05" y2="139.7" stroke="#a8a8a8" stroke-width="0.95"/><line x1="941.1" y1="144.4" x2="937.05" y2="143.7" stroke="#4c4c4c" stroke-width="0.95"/><line x1="933" y1="143" x2="937.05" y2="143.7" stroke="#a8a8a8" stroke-width="0.95"/><line x1="941.1" y1="144.4" x2="937.55" y2="145.7" stroke="#4c4c4c" stroke-width="0.95"/><line x1="934" y1="147" x2="937.55" y2="145.7" stroke="#a8a8a8" stroke-width="0.95"/><line x1="950.9" y1="157" x2="953.95" y2="156.5" stroke="#4c4c4c" stroke-width="0.95"/><line x1="957" y1="156" x2="953.95" y2="156.5" stroke="#a8a8a8" stroke-width="0.95"/><line x1="950.9" y1="157" x2="953.95" y2="158" stroke="#4c4c4c" stroke-width="0.95"/><line x1="957" y1="159" x2="953.95" y2="158" stroke="#a8a8a8" stroke-width="0.95"/><line x1="934.2" y1="169.8" x2="932.85" y2="164.4" stroke="#4c4c4c" stroke-width="0.95"/><line x1="931.5" y1="159" x2="932.85" y2="164.4" stroke="#a8a8a8" stroke-width="0.95"/><line x1="919.7" y1="169.5" x2="916.35" y2="166.25" stroke="#4c4c4c" stroke-width="0.95"/><line x1="913" y1="163" x2="916.35" y2="166.25" stroke="#a8a8a8" stroke-width="0.95"/><line x1="919.7" y1="182" x2="916.1" y2="182.5" stroke="#4c4c4c" stroke-width="0.95"/><line x1="912.5" y1="183" x2="916.1" y2="182.5" stroke="#a8a8a8" stroke-width="0.95"/><line x1="919.7" y1="182" x2="920.35" y2="187" stroke="#4c4c4c" stroke-width="0.95"/><line x1="921" y1="192" x2="920.35" y2="187" stroke="#a8a8a8" stroke-width="0.95"/><line x1="959.2" y1="182" x2="960.85" y2="178" stroke="#2838d0" stroke-width="0.95"/><line x1="962.5" y1="174" x2="960.85" y2="178" stroke="#a8a8a8" stroke-width="0.95"/><line x1="959.2" y1="182" x2="957.6" y2="186.5" stroke="#2838d0" stroke-width="0.95"/><line x1="956" y1="191" x2="957.6" y2="186.5" stroke="#a8a8a8" stroke-width="0.95"/><line x1="929.3" y1="205.5" x2="925.65" y2="207.75" stroke="#2838d0" stroke-width="0.95"/><line x1="922" y1="210" x2="925.65" y2="207.75" stroke="#a8a8a8" stroke-width="0.95"/><line x1="929.3" y1="205.5" x2="931.4" y2="209" stroke="#2838d0" stroke-width="0.95"/><line x1="933.5" y1="212.5" x2="931.4" y2="209" stroke="#a8a8a8" stroke-width="0.95"/><line x1="947.4" y1="207" x2="951.2" y2="208.5" stroke="#4c4c4c" stroke-width="0.95"/><line x1="955" y1="210" x2="951.2" y2="208.5" stroke="#a8a8a8" stroke-width="0.95"/><line x1="974.5" y1="184.2" x2="975.25" y2="189.6" stroke="#4c4c4c" stroke-width="0.95"/><line x1="976" y1="195" x2="975.25" y2="189.6" stroke="#a8a8a8" stroke-width="0.95"/><line x1="982.7" y1="173.6" x2="986.35" y2="176.3" stroke="#4c4c4c" stroke-width="0.95"/><line x1="990" y1="179" x2="986.35" y2="176.3" stroke="#a8a8a8" stroke-width="0.95"/><line x1="974.5" y1="165.4" x2="972.5" y2="168.2" stroke="#b81c1c" stroke-width="0.95"/><line x1="970.5" y1="171" x2="972.5" y2="168.2" stroke="#a8a8a8" stroke-width="0.95"/><line x1="990.1" y1="144.4" x2="985.55" y2="140.45" stroke="#4c4c4c" stroke-width="0.95"/><line x1="981" y1="136.5" x2="985.55" y2="140.45" stroke="#a8a8a8" stroke-width="0.95"/><line x1="974.5" y1="165.4" x2="976.75" y2="163.95" stroke="#b81c1c" stroke-width="0.95"/><line x1="979" y1="162.5" x2="976.75" y2="163.95" stroke="#a8a8a8" stroke-width="0.95"/><line x1="996" y1="159.9" x2="999" y2="162.45" stroke="#4c4c4c" stroke-width="0.95"/><line x1="1002" y1="165" x2="999" y2="162.45" stroke="#a8a8a8" stroke-width="0.95"/><circle cx="945" cy="135" r="1.9" fill="url(#gH)"/><circle cx="933" cy="143" r="1.9" fill="url(#gH)"/><circle cx="934" cy="147" r="1.9" fill="url(#gH)"/><circle cx="957" cy="156" r="1.9" fill="url(#gH)"/><circle cx="957" cy="159" r="1.9" fill="url(#gH)"/><circle cx="931.5" cy="159" r="1.9" fill="url(#gH)"/><circle cx="913" cy="163" r="1.9" fill="url(#gH)"/><circle cx="912.5" cy="183" r="1.9" fill="url(#gH)"/><circle cx="921" cy="192" r="1.9" fill="url(#gH)"/><circle cx="962.5" cy="174" r="1.9" fill="url(#gH)"/><circle cx="956" cy="191" r="1.9" fill="url(#gH)"/><circle cx="922" cy="210" r="1.9" fill="url(#gH)"/><circle cx="933.5" cy="212.5" r="1.9" fill="url(#gH)"/><circle cx="955" cy="210" r="1.9" fill="url(#gH)"/><circle cx="976" cy="195" r="1.9" fill="url(#gH)"/><circle cx="990" cy="179" r="1.9" fill="url(#gH)"/><circle cx="970.5" cy="171" r="1.9" fill="url(#gH)"/><circle cx="981" cy="136.5" r="1.9" fill="url(#gH)"/><circle cx="979" cy="162.5" r="1.9" fill="url(#gH)"/><circle cx="1002" cy="165" r="1.9" fill="url(#gH)"/><circle cx="941.1" cy="144.4" r="4.2" fill="url(#gC)"/><circle cx="950.9" cy="157" r="4.2" fill="url(#gC)"/><circle cx="944.5" cy="169.8" r="4.2" fill="url(#gC)"/><circle cx="934.2" cy="169.8" r="4.2" fill="url(#gC)"/><circle cx="928.9" cy="182" r="4.2" fill="url(#gC)"/><circle cx="933.3" cy="194.5" r="4.2" fill="url(#gC)"/><circle cx="942.5" cy="193.3" r="4.2" fill="url(#gC)"/><circle cx="948.9" cy="181.5" r="4.2" fill="url(#gC)"/><circle cx="959.2" cy="182" r="3.4" fill="url(#gN)"/><circle cx="929.3" cy="205.5" r="3.4" fill="url(#gN)"/><circle cx="947.4" cy="207" r="4.2" fill="url(#gC)"/><circle cx="919.7" cy="169.5" r="4.2" fill="url(#gC)"/><circle cx="919.7" cy="182" r="4.2" fill="url(#gC)"/><circle cx="974.5" cy="184.2" r="4.2" fill="url(#gC)"/><circle cx="982.7" cy="173.6" r="4.2" fill="url(#gC)"/><circle cx="974.5" cy="165.4" r="3.4" fill="url(#gO)"/><circle cx="988.2" cy="167.3" r="3.4" fill="url(#gO)"/><circle cx="990.1" cy="144.4" r="4.2" fill="url(#gC)"/><circle cx="996.3" cy="148.1" r="4.2" fill="url(#gC)"/><circle cx="990.4" cy="157" r="4.2" fill="url(#gC)"/><circle cx="996" cy="159.9" r="4.2" fill="url(#gC)"/><circle cx="1006.6" cy="138.6" r="4.2" fill="url(#gC)"/><circle cx="1006.6" cy="153.3" r="4.2" fill="url(#gC)"/></g><clipPath id="tc8"><rect x="1012" y="0" width="101" height="240"/></clipPath><g clip-path="url(#tc8)"><line x1="1046.1" y1="146.2" x2="1051.75" y2="151.6" stroke="#4c4c4c" stroke-width="1.5"/><line x1="1057.4" y1="157" x2="1051.75" y2="151.6" stroke="#4c4c4c" stroke-width="1.5"/><line x1="1057.4" y1="157" x2="1053.95" y2="163.85" stroke="#4c4c4c" stroke-width="1.5"/><line x1="1050.5" y1="170.7" x2="1053.95" y2="163.85" stroke="#4c4c4c" stroke-width="1.5"/><line x1="1050.5" y1="170.7" x2="1046.3" y2="169.95" stroke="#4c4c4c" stroke-width="1.5"/><line x1="1042.1" y1="169.2" x2="1046.3" y2="169.95" stroke="#4c4c4c" stroke-width="1.5"/><line x1="1050.5" y1="170.7" x2="1051.95" y2="176.85" stroke="#4c4c4c" stroke-width="1.5"/><line x1="1053.4" y1="183" x2="1051.95" y2="176.85" stroke="#4c4c4c" stroke-width="1.5"/><line x1="1042.1" y1="169.2" x2="1039.15" y2="174.85" stroke="#4c4c4c" stroke-width="1.5"/><line x1="1036.2" y1="180.5" x2="1039.15" y2="174.85" stroke="#4c4c4c" stroke-width="1.5"/><line x1="1042.1" y1="169.2" x2="1035.6" y2="168.25" stroke="#4c4c4c" stroke-width="1.5"/><line x1="1029.1" y1="167.3" x2="1035.6" y2="168.25" stroke="#4c4c4c" stroke-width="1.5"/><line x1="1036.2" y1="180.5" x2="1037.1" y2="187.35" stroke="#4c4c4c" stroke-width="1.5"/><line x1="1038" y1="194.2" x2="1037.1" y2="187.35" stroke="#4c4c4c" stroke-width="1.5"/><line x1="1036.2" y1="180.5" x2="1031.05" y2="180.15" stroke="#4c4c4c" stroke-width="1.5"/><line x1="1025.9" y1="179.8" x2="1031.05" y2="180.15" stroke="#4c4c4c" stroke-width="1.5"/><line x1="1038" y1="194.2" x2="1042.05" y2="194.2" stroke="#4c4c4c" stroke-width="1.5"/><line x1="1046.1" y1="194.2" x2="1042.05" y2="194.2" stroke="#4c4c4c" stroke-width="1.5"/><line x1="1038" y1="194.2" x2="1036.15" y2="200.4" stroke="#4c4c4c" stroke-width="1.5"/><line x1="1034.3" y1="206.6" x2="1036.15" y2="200.4" stroke="#2838d0" stroke-width="1.5"/><line x1="1046.1" y1="194.2" x2="1049.75" y2="188.6" stroke="#4c4c4c" stroke-width="1.5"/><line x1="1053.4" y1="183" x2="1049.75" y2="188.6" stroke="#4c4c4c" stroke-width="1.5"/><line x1="1046.1" y1="194.2" x2="1047.05" y2="200.85" stroke="#4c4c4c" stroke-width="1.5"/><line x1="1048" y1="207.5" x2="1047.05" y2="200.85" stroke="#4c4c4c" stroke-width="1.5"/><line x1="1053.4" y1="183" x2="1058.95" y2="183.6" stroke="#4c4c4c" stroke-width="1.5"/><line x1="1064.5" y1="184.2" x2="1058.95" y2="183.6" stroke="#2838d0" stroke-width="1.5"/><line x1="1064.5" y1="184.2" x2="1071.85" y2="183.85" stroke="#2838d0" stroke-width="1.5"/><line x1="1079.2" y1="183.5" x2="1071.85" y2="183.85" stroke="#4c4c4c" stroke-width="1.5"/><line x1="1029.1" y1="167.3" x2="1027.5" y2="173.55" stroke="#4c4c4c" stroke-width="1.5"/><line x1="1025.9" y1="179.8" x2="1027.5" y2="173.55" stroke="#4c4c4c" stroke-width="1.5"/><line x1="1079.2" y1="183.5" x2="1082.9" y2="178.35" stroke="#4c4c4c" stroke-width="1.5"/><line x1="1086.6" y1="173.2" x2="1082.9" y2="178.35" stroke="#4c4c4c" stroke-width="1.5"/><line x1="1086.6" y1="173.2" x2="1082" y2="169" stroke="#4c4c4c" stroke-width="1.5"/><line x1="1077.4" y1="164.8" x2="1082" y2="169" stroke="#b81c1c" stroke-width="1.5"/><line x1="1086.6" y1="173.2" x2="1090.65" y2="170.75" stroke="#4c4c4c" stroke-width="1.5"/><line x1="1094.7" y1="168.3" x2="1090.65" y2="170.75" stroke="#b81c1c" stroke-width="1.5"/><line x1="1094.7" y1="168.3" x2="1094.15" y2="162.65" stroke="#b81c1c" stroke-width="1.5"/><line x1="1093.6" y1="157" x2="1094.15" y2="162.65" stroke="#4c4c4c" stroke-width="1.5"/><line x1="1094.7" y1="168.3" x2="1097.1" y2="163.75" stroke="#b81c1c" stroke-width="1.5"/><line x1="1099.5" y1="159.2" x2="1097.1" y2="163.75" stroke="#4c4c4c" stroke-width="1.5"/><line x1="1093.9" y1="145.2" x2="1097" y2="146.65" stroke="#4c4c4c" stroke-width="1.5"/><line x1="1100.1" y1="148.1" x2="1097" y2="146.65" stroke="#4c4c4c" stroke-width="1.5"/><line x1="1093.9" y1="145.2" x2="1093.75" y2="151.1" stroke="#4c4c4c" stroke-width="1.5"/><line x1="1093.6" y1="157" x2="1093.75" y2="151.1" stroke="#4c4c4c" stroke-width="1.5"/><line x1="1093.9" y1="145.2" x2="1096.7" y2="152.2" stroke="#4c4c4c" stroke-width="1.5"/><line x1="1099.5" y1="159.2" x2="1096.7" y2="152.2" stroke="#4c4c4c" stroke-width="1.5"/><line x1="1100.1" y1="148.1" x2="1096.85" y2="152.55" stroke="#4c4c4c" stroke-width="1.5"/><line x1="1093.6" y1="157" x2="1096.85" y2="152.55" stroke="#4c4c4c" stroke-width="1.5"/><line x1="1100.1" y1="148.1" x2="1099.8" y2="153.65" stroke="#4c4c4c" stroke-width="1.5"/><line x1="1099.5" y1="159.2" x2="1099.8" y2="153.65" stroke="#4c4c4c" stroke-width="1.5"/><line x1="1100.1" y1="148.1" x2="1105.85" y2="144.05" stroke="#4c4c4c" stroke-width="1.5"/><line x1="1111.6" y1="140" x2="1105.85" y2="144.05" stroke="#4c4c4c" stroke-width="1.5"/><line x1="1100.1" y1="148.1" x2="1105.5" y2="149.6" stroke="#4c4c4c" stroke-width="1.5"/><line x1="1110.9" y1="151.1" x2="1105.5" y2="149.6" stroke="#4c4c4c" stroke-width="1.5"/><line x1="1093.6" y1="157" x2="1096.55" y2="158.1" stroke="#4c4c4c" stroke-width="1.5"/><line x1="1099.5" y1="159.2" x2="1096.55" y2="158.1" stroke="#4c4c4c" stroke-width="1.5"/><line x1="1099.5" y1="159.2" x2="1105.2" y2="155.15" stroke="#4c4c4c" stroke-width="1.5"/><line x1="1110.9" y1="151.1" x2="1105.2" y2="155.15" stroke="#4c4c4c" stroke-width="1.5"/><line x1="1111.6" y1="140" x2="1111.25" y2="145.55" stroke="#4c4c4c" stroke-width="1.5"/><line x1="1110.9" y1="151.1" x2="1111.25" y2="145.55" stroke="#4c4c4c" stroke-width="1.5"/><line x1="1046.1" y1="146.2" x2="1047.55" y2="141.85" stroke="#4c4c4c" stroke-width="0.95"/><line x1="1049" y1="137.5" x2="1047.55" y2="141.85" stroke="#a8a8a8" stroke-width="0.95"/><line x1="1046.1" y1="146.2" x2="1041.3" y2="144.1" stroke="#4c4c4c" stroke-width="0.95"/><line x1="1036.5" y1="142" x2="1041.3" y2="144.1" stroke="#a8a8a8" stroke-width="0.95"/><line x1="1046.1" y1="146.2" x2="1041.3" y2="148.1" stroke="#4c4c4c" stroke-width="0.95"/><line x1="1036.5" y1="150" x2="1041.3" y2="148.1" stroke="#a8a8a8" stroke-width="0.95"/><line x1="1057.4" y1="157" x2="1060.7" y2="155.25" stroke="#4c4c4c" stroke-width="0.95"/><line x1="1064" y1="153.5" x2="1060.7" y2="155.25" stroke="#a8a8a8" stroke-width="0.95"/><line x1="1057.4" y1="157" x2="1059.2" y2="158" stroke="#4c4c4c" stroke-width="0.95"/><line x1="1061" y1="159" x2="1059.2" y2="158" stroke="#a8a8a8" stroke-width="0.95"/><line x1="1042.1" y1="169.2" x2="1041.05" y2="163.85" stroke="#4c4c4c" stroke-width="0.95"/><line x1="1040" y1="158.5" x2="1041.05" y2="163.85" stroke="#a8a8a8" stroke-width="0.95"/><line x1="1029.1" y1="167.3" x2="1029.3" y2="162.65" stroke="#4c4c4c" stroke-width="0.95"/><line x1="1029.5" y1="158" x2="1029.3" y2="162.65" stroke="#a8a8a8" stroke-width="0.95"/><line x1="1029.1" y1="167.3" x2="1024.3" y2="166.9" stroke="#4c4c4c" stroke-width="0.95"/><line x1="1019.5" y1="166.5" x2="1024.3" y2="166.9" stroke="#a8a8a8" stroke-width="0.95"/><line x1="1025.9" y1="179.8" x2="1022.7" y2="179.4" stroke="#4c4c4c" stroke-width="0.95"/><line x1="1019.5" y1="179" x2="1022.7" y2="179.4" stroke="#a8a8a8" stroke-width="0.95"/><line x1="1025.9" y1="179.8" x2="1025.45" y2="184.9" stroke="#4c4c4c" stroke-width="0.95"/><line x1="1025" y1="190" x2="1025.45" y2="184.9" stroke="#a8a8a8" stroke-width="0.95"/><line x1="1034.3" y1="206.6" x2="1030.9" y2="208.8" stroke="#2838d0" stroke-width="0.95"/><line x1="1027.5" y1="211" x2="1030.9" y2="208.8" stroke="#a8a8a8" stroke-width="0.95"/><line x1="1034.3" y1="206.6" x2="1036.4" y2="210.3" stroke="#2838d0" stroke-width="0.95"/><line x1="1038.5" y1="214" x2="1036.4" y2="210.3" stroke="#a8a8a8" stroke-width="0.95"/><line x1="1064.5" y1="184.2" x2="1063.75" y2="187.85" stroke="#2838d0" stroke-width="0.95"/><line x1="1063" y1="191.5" x2="1063.75" y2="187.85" stroke="#a8a8a8" stroke-width="0.95"/><line x1="1064.5" y1="184.2" x2="1063.5" y2="181.1" stroke="#2838d0" stroke-width="0.95"/><line x1="1062.5" y1="178" x2="1063.5" y2="181.1" stroke="#a8a8a8" stroke-width="0.95"/><line x1="1079.2" y1="183.5" x2="1080.6" y2="189.25" stroke="#4c4c4c" stroke-width="0.95"/><line x1="1082" y1="195" x2="1080.6" y2="189.25" stroke="#a8a8a8" stroke-width="0.95"/><line x1="1086.6" y1="173.2" x2="1089.8" y2="176.1" stroke="#4c4c4c" stroke-width="0.95"/><line x1="1093" y1="179" x2="1089.8" y2="176.1" stroke="#a8a8a8" stroke-width="0.95"/><line x1="1077.4" y1="164.8" x2="1073.95" y2="167.65" stroke="#b81c1c" stroke-width="0.95"/><line x1="1070.5" y1="170.5" x2="1073.95" y2="167.65" stroke="#a8a8a8" stroke-width="0.95"/><line x1="1093.9" y1="145.2" x2="1090.45" y2="140.6" stroke="#4c4c4c" stroke-width="0.95"/><line x1="1087" y1="136" x2="1090.45" y2="140.6" stroke="#a8a8a8" stroke-width="0.95"/><line x1="1077.4" y1="164.8" x2="1081.95" y2="163.9" stroke="#b81c1c" stroke-width="0.95"/><line x1="1086.5" y1="163" x2="1081.95" y2="163.9" stroke="#a8a8a8" stroke-width="0.95"/><line x1="1099.5" y1="159.2" x2="1102.25" y2="160.85" stroke="#4c4c4c" stroke-width="0.95"/><line x1="1105" y1="162.5" x2="1102.25" y2="160.85" stroke="#a8a8a8" stroke-width="0.95"/><circle cx="1049" cy="137.5" r="1.9" fill="url(#gH)"/><circle cx="1036.5" cy="142" r="1.9" fill="url(#gH)"/><circle cx="1036.5" cy="150" r="1.9" fill="url(#gH)"/><circle cx="1064" cy="153.5" r="1.9" fill="url(#gH)"/><circle cx="1061" cy="159" r="1.9" fill="url(#gH)"/><circle cx="1040" cy="158.5" r="1.9" fill="url(#gH)"/><circle cx="1029.5" cy="158" r="1.9" fill="url(#gH)"/><circle cx="1019.5" cy="166.5" r="1.9" fill="url(#gH)"/><circle cx="1019.5" cy="179" r="1.9" fill="url(#gH)"/><circle cx="1025" cy="190" r="1.9" fill="url(#gH)"/><circle cx="1027.5" cy="211" r="1.9" fill="url(#gH)"/><circle cx="1038.5" cy="214" r="1.9" fill="url(#gH)"/><circle cx="1063" cy="191.5" r="1.9" fill="url(#gH)"/><circle cx="1062.5" cy="178" r="1.9" fill="url(#gH)"/><circle cx="1082" cy="195" r="1.9" fill="url(#gH)"/><circle cx="1093" cy="179" r="1.9" fill="url(#gH)"/><circle cx="1070.5" cy="170.5" r="1.9" fill="url(#gH)"/><circle cx="1087" cy="136" r="1.9" fill="url(#gH)"/><circle cx="1086.5" cy="163" r="1.9" fill="url(#gH)"/><circle cx="1105" cy="162.5" r="1.9" fill="url(#gH)"/><circle cx="1046.1" cy="146.2" r="4.2" fill="url(#gC)"/><circle cx="1057.4" cy="157" r="4.2" fill="url(#gC)"/><circle cx="1050.5" cy="170.7" r="4.2" fill="url(#gC)"/><circle cx="1042.1" cy="169.2" r="4.2" fill="url(#gC)"/><circle cx="1036.2" cy="180.5" r="4.2" fill="url(#gC)"/><circle cx="1038" cy="194.2" r="4.2" fill="url(#gC)"/><circle cx="1046.1" cy="194.2" r="4.2" fill="url(#gC)"/><circle cx="1053.4" cy="183" r="4.2" fill="url(#gC)"/><circle cx="1064.5" cy="184.2" r="3.4" fill="url(#gN)"/><circle cx="1034.3" cy="206.6" r="3.4" fill="url(#gN)"/><circle cx="1048" cy="207.5" r="4.2" fill="url(#gC)"/><circle cx="1029.1" cy="167.3" r="4.2" fill="url(#gC)"/><circle cx="1025.9" cy="179.8" r="4.2" fill="url(#gC)"/><circle cx="1079.2" cy="183.5" r="4.2" fill="url(#gC)"/><circle cx="1086.6" cy="173.2" r="4.2" fill="url(#gC)"/><circle cx="1077.4" cy="164.8" r="3.4" fill="url(#gO)"/><circle cx="1094.7" cy="168.3" r="3.4" fill="url(#gO)"/><circle cx="1093.9" cy="145.2" r="4.2" fill="url(#gC)"/><circle cx="1100.1" cy="148.1" r="4.2" fill="url(#gC)"/><circle cx="1093.6" cy="157" r="4.2" fill="url(#gC)"/><circle cx="1099.5" cy="159.2" r="4.2" fill="url(#gC)"/><circle cx="1111.6" cy="140" r="4.2" fill="url(#gC)"/><circle cx="1110.9" cy="151.1" r="4.2" fill="url(#gC)"/></g><clipPath id="tc9"><rect x="1126" y="0" width="124" height="240"/></clipPath><g clip-path="url(#tc9)"><line x1="1155.6" y1="146.7" x2="1161.2" y2="151.85" stroke="#4c4c4c" stroke-width="1.5"/><line x1="1166.8" y1="157" x2="1161.2" y2="151.85" stroke="#4c4c4c" stroke-width="1.5"/><line x1="1166.8" y1="157" x2="1164.15" y2="164" stroke="#4c4c4c" stroke-width="1.5"/><line x1="1161.5" y1="171" x2="1164.15" y2="164" stroke="#4c4c4c" stroke-width="1.5"/><line x1="1161.5" y1="171" x2="1157.1" y2="170.4" stroke="#4c4c4c" stroke-width="1.5"/><line x1="1152.7" y1="169.8" x2="1157.1" y2="170.4" stroke="#4c4c4c" stroke-width="1.5"/><line x1="1161.5" y1="171" x2="1162.7" y2="177.25" stroke="#4c4c4c" stroke-width="1.5"/><line x1="1163.9" y1="183.5" x2="1162.7" y2="177.25" stroke="#4c4c4c" stroke-width="1.5"/><line x1="1152.7" y1="169.8" x2="1149.6" y2="175.9" stroke="#4c4c4c" stroke-width="1.5"/><line x1="1146.5" y1="182" x2="1149.6" y2="175.9" stroke="#4c4c4c" stroke-width="1.5"/><line x1="1152.7" y1="169.8" x2="1147" y2="168.15" stroke="#4c4c4c" stroke-width="1.5"/><line x1="1141.3" y1="166.5" x2="1147" y2="168.15" stroke="#4c4c4c" stroke-width="1.5"/><line x1="1146.5" y1="182" x2="1146.85" y2="188.25" stroke="#4c4c4c" stroke-width="1.5"/><line x1="1147.2" y1="194.5" x2="1146.85" y2="188.25" stroke="#4c4c4c" stroke-width="1.5"/><line x1="1146.5" y1="182" x2="1141.2" y2="180" stroke="#4c4c4c" stroke-width="1.5"/><line x1="1135.9" y1="178" x2="1141.2" y2="180" stroke="#4c4c4c" stroke-width="1.5"/><line x1="1147.2" y1="194.5" x2="1151.65" y2="194.5" stroke="#4c4c4c" stroke-width="1.5"/><line x1="1156.1" y1="194.5" x2="1151.65" y2="194.5" stroke="#4c4c4c" stroke-width="1.5"/><line x1="1147.2" y1="194.5" x2="1144.5" y2="200.4" stroke="#4c4c4c" stroke-width="1.5"/><line x1="1141.8" y1="206.3" x2="1144.5" y2="200.4" stroke="#2838d0" stroke-width="1.5"/><line x1="1156.1" y1="194.5" x2="1160" y2="189" stroke="#4c4c4c" stroke-width="1.5"/><line x1="1163.9" y1="183.5" x2="1160" y2="189" stroke="#4c4c4c" stroke-width="1.5"/><line x1="1156.1" y1="194.5" x2="1155.7" y2="200.75" stroke="#4c4c4c" stroke-width="1.5"/><line x1="1155.3" y1="207" x2="1155.7" y2="200.75" stroke="#4c4c4c" stroke-width="1.5"/><line x1="1163.9" y1="183.5" x2="1168.8" y2="184" stroke="#4c4c4c" stroke-width="1.5"/><line x1="1173.7" y1="184.5" x2="1168.8" y2="184" stroke="#2838d0" stroke-width="1.5"/><line x1="1173.7" y1="184.5" x2="1180.85" y2="184" stroke="#2838d0" stroke-width="1.5"/><line x1="1188" y1="183.5" x2="1180.85" y2="184" stroke="#4c4c4c" stroke-width="1.5"/><line x1="1141.3" y1="166.5" x2="1138.6" y2="172.25" stroke="#4c4c4c" stroke-width="1.5"/><line x1="1135.9" y1="178" x2="1138.6" y2="172.25" stroke="#4c4c4c" stroke-width="1.5"/><line x1="1188" y1="183.5" x2="1191.7" y2="178.35" stroke="#4c4c4c" stroke-width="1.5"/><line x1="1195.4" y1="173.2" x2="1191.7" y2="178.35" stroke="#4c4c4c" stroke-width="1.5"/><line x1="1195.4" y1="173.2" x2="1190.7" y2="169.3" stroke="#4c4c4c" stroke-width="1.5"/><line x1="1186" y1="165.4" x2="1190.7" y2="169.3" stroke="#b81c1c" stroke-width="1.5"/><line x1="1195.4" y1="173.2" x2="1199.5" y2="170.45" stroke="#4c4c4c" stroke-width="1.5"/><line x1="1203.6" y1="167.7" x2="1199.5" y2="170.45" stroke="#b81c1c" stroke-width="1.5"/><line x1="1203.6" y1="167.7" x2="1204.15" y2="162.85" stroke="#b81c1c" stroke-width="1.5"/><line x1="1204.7" y1="158" x2="1204.15" y2="162.85" stroke="#4c4c4c" stroke-width="1.5"/><line x1="1203.6" y1="167.7" x2="1205.95" y2="163.45" stroke="#b81c1c" stroke-width="1.5"/><line x1="1208.3" y1="159.2" x2="1205.95" y2="163.45" stroke="#4c4c4c" stroke-width="1.5"/><line x1="1201.7" y1="146.7" x2="1205.4" y2="147.4" stroke="#4c4c4c" stroke-width="1.5"/><line x1="1209.1" y1="148.1" x2="1205.4" y2="147.4" stroke="#4c4c4c" stroke-width="1.5"/><line x1="1201.7" y1="146.7" x2="1203.2" y2="152.35" stroke="#4c4c4c" stroke-width="1.5"/><line x1="1204.7" y1="158" x2="1203.2" y2="152.35" stroke="#4c4c4c" stroke-width="1.5"/><line x1="1201.7" y1="146.7" x2="1205" y2="152.95" stroke="#4c4c4c" stroke-width="1.5"/><line x1="1208.3" y1="159.2" x2="1205" y2="152.95" stroke="#4c4c4c" stroke-width="1.5"/><line x1="1209.1" y1="148.1" x2="1206.9" y2="153.05" stroke="#4c4c4c" stroke-width="1.5"/><line x1="1204.7" y1="158" x2="1206.9" y2="153.05" stroke="#4c4c4c" stroke-width="1.5"/><line x1="1209.1" y1="148.1" x2="1208.7" y2="153.65" stroke="#4c4c4c" stroke-width="1.5"/><line x1="1208.3" y1="159.2" x2="1208.7" y2="153.65" stroke="#4c4c4c" stroke-width="1.5"/><line x1="1209.1" y1="148.1" x2="1214.6" y2="143.7" stroke="#4c4c4c" stroke-width="1.5"/><line x1="1220.1" y1="139.3" x2="1214.6" y2="143.7" stroke="#4c4c4c" stroke-width="1.5"/><line x1="1209.1" y1="148.1" x2="1213.85" y2="149.2" stroke="#4c4c4c" stroke-width="1.5"/><line x1="1218.6" y1="150.3" x2="1213.85" y2="149.2" stroke="#4c4c4c" stroke-width="1.5"/><line x1="1204.7" y1="158" x2="1206.5" y2="158.6" stroke="#4c4c4c" stroke-width="1.5"/><line x1="1208.3" y1="159.2" x2="1206.5" y2="158.6" stroke="#4c4c4c" stroke-width="1.5"/><line x1="1204.7" y1="158" x2="1211.65" y2="154.15" stroke="#4c4c4c" stroke-width="1.5"/><line x1="1218.6" y1="150.3" x2="1211.65" y2="154.15" stroke="#4c4c4c" stroke-width="1.5"/><line x1="1208.3" y1="159.2" x2="1213.45" y2="154.75" stroke="#4c4c4c" stroke-width="1.5"/><line x1="1218.6" y1="150.3" x2="1213.45" y2="154.75" stroke="#4c4c4c" stroke-width="1.5"/><line x1="1220.1" y1="139.3" x2="1219.35" y2="144.8" stroke="#4c4c4c" stroke-width="1.5"/><line x1="1218.6" y1="150.3" x2="1219.35" y2="144.8" stroke="#4c4c4c" stroke-width="1.5"/><line x1="1155.6" y1="146.7" x2="1157.05" y2="142.6" stroke="#4c4c4c" stroke-width="0.95"/><line x1="1158.5" y1="138.5" x2="1157.05" y2="142.6" stroke="#a8a8a8" stroke-width="0.95"/><line x1="1155.6" y1="146.7" x2="1153.05" y2="144.1" stroke="#4c4c4c" stroke-width="0.95"/><line x1="1150.5" y1="141.5" x2="1153.05" y2="144.1" stroke="#a8a8a8" stroke-width="0.95"/><line x1="1155.6" y1="146.7" x2="1151.05" y2="149.1" stroke="#4c4c4c" stroke-width="0.95"/><line x1="1146.5" y1="151.5" x2="1151.05" y2="149.1" stroke="#a8a8a8" stroke-width="0.95"/><line x1="1166.8" y1="157" x2="1169.9" y2="154.75" stroke="#4c4c4c" stroke-width="0.95"/><line x1="1173" y1="152.5" x2="1169.9" y2="154.75" stroke="#a8a8a8" stroke-width="0.95"/><line x1="1166.8" y1="157" x2="1168.9" y2="158.75" stroke="#4c4c4c" stroke-width="0.95"/><line x1="1171" y1="160.5" x2="1168.9" y2="158.75" stroke="#a8a8a8" stroke-width="0.95"/><line x1="1152.7" y1="169.8" x2="1151.35" y2="164.15" stroke="#4c4c4c" stroke-width="0.95"/><line x1="1150" y1="158.5" x2="1151.35" y2="164.15" stroke="#a8a8a8" stroke-width="0.95"/><line x1="1141.3" y1="166.5" x2="1136.9" y2="164.25" stroke="#4c4c4c" stroke-width="0.95"/><line x1="1132.5" y1="162" x2="1136.9" y2="164.25" stroke="#a8a8a8" stroke-width="0.95"/><line x1="1135.9" y1="178" x2="1131.7" y2="176.75" stroke="#4c4c4c" stroke-width="0.95"/><line x1="1127.5" y1="175.5" x2="1131.7" y2="176.75" stroke="#a8a8a8" stroke-width="0.95"/><line x1="1135.9" y1="178" x2="1134.2" y2="181.5" stroke="#4c4c4c" stroke-width="0.95"/><line x1="1132.5" y1="185" x2="1134.2" y2="181.5" stroke="#a8a8a8" stroke-width="0.95"/><line x1="1173.7" y1="184.5" x2="1172.6" y2="188.5" stroke="#2838d0" stroke-width="0.95"/><line x1="1171.5" y1="192.5" x2="1172.6" y2="188.5" stroke="#a8a8a8" stroke-width="0.95"/><line x1="1141.8" y1="206.3" x2="1138.4" y2="208.4" stroke="#2838d0" stroke-width="0.95"/><line x1="1135" y1="210.5" x2="1138.4" y2="208.4" stroke="#a8a8a8" stroke-width="0.95"/><line x1="1141.8" y1="206.3" x2="1143.9" y2="209.9" stroke="#2838d0" stroke-width="0.95"/><line x1="1146" y1="213.5" x2="1143.9" y2="209.9" stroke="#a8a8a8" stroke-width="0.95"/><line x1="1155.3" y1="207" x2="1160.15" y2="209.5" stroke="#4c4c4c" stroke-width="0.95"/><line x1="1165" y1="212" x2="1160.15" y2="209.5" stroke="#a8a8a8" stroke-width="0.95"/><line x1="1188" y1="183.5" x2="1190.5" y2="189.25" stroke="#4c4c4c" stroke-width="0.95"/><line x1="1193" y1="195" x2="1190.5" y2="189.25" stroke="#a8a8a8" stroke-width="0.95"/><line x1="1195.4" y1="173.2" x2="1198.7" y2="176.6" stroke="#4c4c4c" stroke-width="0.95"/><line x1="1202" y1="180" x2="1198.7" y2="176.6" stroke="#a8a8a8" stroke-width="0.95"/><line x1="1186" y1="165.4" x2="1184.75" y2="168.95" stroke="#b81c1c" stroke-width="0.95"/><line x1="1183.5" y1="172.5" x2="1184.75" y2="168.95" stroke="#a8a8a8" stroke-width="0.95"/><line x1="1201.7" y1="146.7" x2="1198.85" y2="142.1" stroke="#4c4c4c" stroke-width="0.95"/><line x1="1196" y1="137.5" x2="1198.85" y2="142.1" stroke="#a8a8a8" stroke-width="0.95"/><line x1="1203.6" y1="167.7" x2="1200.05" y2="165.35" stroke="#b81c1c" stroke-width="0.95"/><line x1="1196.5" y1="163" x2="1200.05" y2="165.35" stroke="#a8a8a8" stroke-width="0.95"/><line x1="1208.3" y1="159.2" x2="1210.65" y2="160.85" stroke="#4c4c4c" stroke-width="0.95"/><line x1="1213" y1="162.5" x2="1210.65" y2="160.85" stroke="#a8a8a8" stroke-width="0.95"/><circle cx="1158.5" cy="138.5" r="1.9" fill="url(#gH)"/><circle cx="1150.5" cy="141.5" r="1.9" fill="url(#gH)"/><circle cx="1146.5" cy="151.5" r="1.9" fill="url(#gH)"/><circle cx="1173" cy="152.5" r="1.9" fill="url(#gH)"/><circle cx="1171" cy="160.5" r="1.9" fill="url(#gH)"/><circle cx="1150" cy="158.5" r="1.9" fill="url(#gH)"/><circle cx="1132.5" cy="162" r="1.9" fill="url(#gH)"/><circle cx="1127.5" cy="175.5" r="1.9" fill="url(#gH)"/><circle cx="1132.5" cy="185" r="1.9" fill="url(#gH)"/><circle cx="1171.5" cy="192.5" r="1.9" fill="url(#gH)"/><circle cx="1135" cy="210.5" r="1.9" fill="url(#gH)"/><circle cx="1146" cy="213.5" r="1.9" fill="url(#gH)"/><circle cx="1165" cy="212" r="1.9" fill="url(#gH)"/><circle cx="1193" cy="195" r="1.9" fill="url(#gH)"/><circle cx="1202" cy="180" r="1.9" fill="url(#gH)"/><circle cx="1183.5" cy="172.5" r="1.9" fill="url(#gH)"/><circle cx="1196" cy="137.5" r="1.9" fill="url(#gH)"/><circle cx="1196.5" cy="163" r="1.9" fill="url(#gH)"/><circle cx="1213" cy="162.5" r="1.9" fill="url(#gH)"/><circle cx="1155.6" cy="146.7" r="4.2" fill="url(#gC)"/><circle cx="1166.8" cy="157" r="4.2" fill="url(#gC)"/><circle cx="1161.5" cy="171" r="4.2" fill="url(#gC)"/><circle cx="1152.7" cy="169.8" r="4.2" fill="url(#gC)"/><circle cx="1146.5" cy="182" r="4.2" fill="url(#gC)"/><circle cx="1147.2" cy="194.5" r="4.2" fill="url(#gC)"/><circle cx="1156.1" cy="194.5" r="4.2" fill="url(#gC)"/><circle cx="1163.9" cy="183.5" r="4.2" fill="url(#gC)"/><circle cx="1173.7" cy="184.5" r="3.4" fill="url(#gN)"/><circle cx="1141.8" cy="206.3" r="3.4" fill="url(#gN)"/><circle cx="1155.3" cy="207" r="4.2" fill="url(#gC)"/><circle cx="1141.3" cy="166.5" r="4.2" fill="url(#gC)"/><circle cx="1135.9" cy="178" r="4.2" fill="url(#gC)"/><circle cx="1188" cy="183.5" r="4.2" fill="url(#gC)"/><circle cx="1195.4" cy="173.2" r="4.2" fill="url(#gC)"/><circle cx="1186" cy="165.4" r="3.4" fill="url(#gO)"/><circle cx="1203.6" cy="167.7" r="3.4" fill="url(#gO)"/><circle cx="1201.7" cy="146.7" r="4.2" fill="url(#gC)"/><circle cx="1209.1" cy="148.1" r="4.2" fill="url(#gC)"/><circle cx="1204.7" cy="158" r="4.2" fill="url(#gC)"/><circle cx="1208.3" cy="159.2" r="4.2" fill="url(#gC)"/><circle cx="1220.1" cy="139.3" r="4.2" fill="url(#gC)"/><circle cx="1218.6" cy="150.3" r="4.2" fill="url(#gC)"/></g><line x1="747.5" y1="170" x2="759.5" y2="162.4" stroke="#e05a5a" stroke-width="0.9"/><line x1="853.5" y1="168" x2="866" y2="163.9" stroke="#e05a5a" stroke-width="0.9"/><line x1="962.5" y1="174" x2="974.5" y2="165.4" stroke="#e05a5a" stroke-width="0.9"/><g><polyline points="732.36,416.31 738.99,434.4 745.63,386.16 752.26,410.28 758.9,386.16 765.54,404.25 772.17,362.04 778.81,398.22 785.44,422.34 792.08,416.31 798.71,416.31 805.35,398.22 811.98,422.34 818.62,416.31 825.25,398.22 831.89,380.13 838.52,428.37 845.16,422.34 851.8,422.34 858.43,404.25" fill="none" stroke="#009e73" stroke-width="1.1" stroke-linejoin="round"/><path d="M730.61 414.56L734.11 418.06M730.61 418.06L734.11 414.56" stroke="#009e73" stroke-width="0.95" fill="none"/><path d="M737.24 432.65L740.74 436.15M737.24 436.15L740.74 432.65" stroke="#009e73" stroke-width="0.95" fill="none"/><path d="M743.88 384.41L747.38 387.91M743.88 387.91L747.38 384.41" stroke="#009e73" stroke-width="0.95" fill="none"/><path d="M750.51 408.53L754.01 412.03M750.51 412.03L754.01 408.53" stroke="#009e73" stroke-width="0.95" fill="none"/><path d="M757.15 384.41L760.65 387.91M757.15 387.91L760.65 384.41" stroke="#009e73" stroke-width="0.95" fill="none"/><path d="M763.79 402.5L767.29 406M763.79 406L767.29 402.5" stroke="#009e73" stroke-width="0.95" fill="none"/><path d="M770.42 360.29L773.92 363.79M770.42 363.79L773.92 360.29" stroke="#009e73" stroke-width="0.95" fill="none"/><path d="M777.06 396.47L780.56 399.97M777.06 399.97L780.56 396.47" stroke="#009e73" stroke-width="0.95" fill="none"/><path d="M783.69 420.59L787.19 424.09M783.69 424.09L787.19 420.59" stroke="#009e73" stroke-width="0.95" fill="none"/><path d="M790.33 414.56L793.83 418.06M790.33 418.06L793.83 414.56" stroke="#009e73" stroke-width="0.95" fill="none"/><path d="M796.96 414.56L800.46 418.06M796.96 418.06L800.46 414.56" stroke="#009e73" stroke-width="0.95" fill="none"/><path d="M803.6 396.47L807.1 399.97M803.6 399.97L807.1 396.47" stroke="#009e73" stroke-width="0.95" fill="none"/><path d="M810.23 420.59L813.73 424.09M810.23 424.09L813.73 420.59" stroke="#009e73" stroke-width="0.95" fill="none"/><path d="M816.87 414.56L820.37 418.06M816.87 418.06L820.37 414.56" stroke="#009e73" stroke-width="0.95" fill="none"/><path d="M823.5 396.47L827 399.97M823.5 399.97L827 396.47" stroke="#009e73" stroke-width="0.95" fill="none"/><path d="M830.14 378.38L833.64 381.88M830.14 381.88L833.64 378.38" stroke="#009e73" stroke-width="0.95" fill="none"/><path d="M836.77 426.62L840.27 430.12M836.77 430.12L840.27 426.62" stroke="#009e73" stroke-width="0.95" fill="none"/><path d="M843.41 420.59L846.91 424.09M843.41 424.09L846.91 420.59" stroke="#009e73" stroke-width="0.95" fill="none"/><path d="M850.05 420.59L853.55 424.09M850.05 424.09L853.55 420.59" stroke="#009e73" stroke-width="0.95" fill="none"/><path d="M856.68 402.5L860.18 406M856.68 406L860.18 402.5" stroke="#009e73" stroke-width="0.95" fill="none"/><polyline points="729.72,416.31 736.36,434.4 742.99,416.31 749.63,392.19 756.26,416.31 762.9,404.25 769.53,337.92 776.17,392.19 782.8,416.31 789.44,416.31 796.07,428.37 802.71,404.25 809.35,380.13 815.98,422.34 822.62,404.25 829.25,392.19 835.89,422.34 842.52,428.37 849.16,410.28 855.79,410.28" fill="none" stroke="#000000" stroke-width="1.1" stroke-linejoin="round"/><circle cx="729.72" cy="416.31" r="1.2" fill="#000000"/><circle cx="736.36" cy="434.4" r="1.2" fill="#000000"/><circle cx="742.99" cy="416.31" r="1.2" fill="#000000"/><circle cx="749.63" cy="392.19" r="1.2" fill="#000000"/><circle cx="756.26" cy="416.31" r="1.2" fill="#000000"/><circle cx="762.9" cy="404.25" r="1.2" fill="#000000"/><circle cx="769.53" cy="337.92" r="1.2" fill="#000000"/><circle cx="776.17" cy="392.19" r="1.2" fill="#000000"/><circle cx="782.8" cy="416.31" r="1.2" fill="#000000"/><circle cx="789.44" cy="416.31" r="1.2" fill="#000000"/><circle cx="796.07" cy="428.37" r="1.2" fill="#000000"/><circle cx="802.71" cy="404.25" r="1.2" fill="#000000"/><circle cx="809.35" cy="380.13" r="1.2" fill="#000000"/><circle cx="815.98" cy="422.34" r="1.2" fill="#000000"/><circle cx="822.62" cy="404.25" r="1.2" fill="#000000"/><circle cx="829.25" cy="392.19" r="1.2" fill="#000000"/><circle cx="835.89" cy="422.34" r="1.2" fill="#000000"/><circle cx="842.52" cy="428.37" r="1.2" fill="#000000"/><circle cx="849.16" cy="410.28" r="1.2" fill="#000000"/><circle cx="855.79" cy="410.28" r="1.2" fill="#000000"/><polyline points="711.46,410.28 723.63,380.13 735.81,277.62 747.98,271.59 760.16,386.16 772.33,398.22 784.51,422.34 796.68,428.37 808.86,428.37 821.03,434.4 833.21,434.4 845.38,434.4 857.56,428.37 869.73,434.4 881.91,434.4 894.08,428.37 906.26,434.4 918.43,434.4 930.61,434.4 942.78,410.28" fill="none" stroke="#0072b2" stroke-width="1.1" stroke-linejoin="round"/><circle cx="711.46" cy="410.28" r="1.55" fill="#5d9fd0" stroke="#0072b2" stroke-width="0.9"/><circle cx="723.63" cy="380.13" r="1.55" fill="#5d9fd0" stroke="#0072b2" stroke-width="0.9"/><circle cx="735.81" cy="277.62" r="1.55" fill="#5d9fd0" stroke="#0072b2" stroke-width="0.9"/><circle cx="747.98" cy="271.59" r="1.55" fill="#5d9fd0" stroke="#0072b2" stroke-width="0.9"/><circle cx="760.16" cy="386.16" r="1.55" fill="#5d9fd0" stroke="#0072b2" stroke-width="0.9"/><circle cx="772.33" cy="398.22" r="1.55" fill="#5d9fd0" stroke="#0072b2" stroke-width="0.9"/><circle cx="784.51" cy="422.34" r="1.55" fill="#5d9fd0" stroke="#0072b2" stroke-width="0.9"/><circle cx="796.68" cy="428.37" r="1.55" fill="#5d9fd0" stroke="#0072b2" stroke-width="0.9"/><circle cx="808.86" cy="428.37" r="1.55" fill="#5d9fd0" stroke="#0072b2" stroke-width="0.9"/><circle cx="821.03" cy="434.4" r="1.55" fill="#5d9fd0" stroke="#0072b2" stroke-width="0.9"/><circle cx="833.21" cy="434.4" r="1.55" fill="#5d9fd0" stroke="#0072b2" stroke-width="0.9"/><circle cx="845.38" cy="434.4" r="1.55" fill="#5d9fd0" stroke="#0072b2" stroke-width="0.9"/><circle cx="857.56" cy="428.37" r="1.55" fill="#5d9fd0" stroke="#0072b2" stroke-width="0.9"/><circle cx="869.73" cy="434.4" r="1.55" fill="#5d9fd0" stroke="#0072b2" stroke-width="0.9"/><circle cx="881.91" cy="434.4" r="1.55" fill="#5d9fd0" stroke="#0072b2" stroke-width="0.9"/><circle cx="894.08" cy="428.37" r="1.55" fill="#5d9fd0" stroke="#0072b2" stroke-width="0.9"/><circle cx="906.26" cy="434.4" r="1.55" fill="#5d9fd0" stroke="#0072b2" stroke-width="0.9"/><circle cx="918.43" cy="434.4" r="1.55" fill="#5d9fd0" stroke="#0072b2" stroke-width="0.9"/><circle cx="930.61" cy="434.4" r="1.55" fill="#5d9fd0" stroke="#0072b2" stroke-width="0.9"/><circle cx="942.78" cy="410.28" r="1.55" fill="#5d9fd0" stroke="#0072b2" stroke-width="0.9"/><rect x="707.4" y="253.5" width="243.5" height="180.9" fill="none" stroke="#333" stroke-width="0.9"/><path d="M707.4 434.4v-2.6M707.4 253.5v2.6M747.98 434.4v-2.6M747.98 253.5v2.6M788.57 434.4v-2.6M788.57 253.5v2.6M829.15 434.4v-2.6M829.15 253.5v2.6M869.73 434.4v-2.6M869.73 253.5v2.6M910.32 434.4v-2.6M910.32 253.5v2.6M950.9 434.4v-2.6M950.9 253.5v2.6M707.4 434.4h2.6M950.9 434.4h-2.6M707.4 404.25h2.6M950.9 404.25h-2.6M707.4 374.1h2.6M950.9 374.1h-2.6M707.4 343.95h2.6M950.9 343.95h-2.6M707.4 313.8h2.6M950.9 313.8h-2.6M707.4 283.65h2.6M950.9 283.65h-2.6M707.4 253.5h2.6M950.9 253.5h-2.6" stroke="#333" stroke-width="0.8" fill="none"/><g font-family='"Liberation Sans", Arial, sans-serif' font-size="5.3" fill="#111"><text x="707.4" y="443" text-anchor="middle">-20</text><text x="747.98" y="443" text-anchor="middle">0</text><text x="788.57" y="443" text-anchor="middle">20</text><text x="829.15" y="443" text-anchor="middle">40</text><text x="869.73" y="443" text-anchor="middle">60</text><text x="910.32" y="443" text-anchor="middle">80</text><text x="950.9" y="443" text-anchor="middle">100</text><text x="702.6" y="437.2" text-anchor="end">0</text><text x="702.6" y="407.05" text-anchor="end">5</text><text x="702.6" y="376.9" text-anchor="end">10</text><text x="702.6" y="346.75" text-anchor="end">15</text><text x="702.6" y="316.6" text-anchor="end">20</text><text x="702.6" y="286.45" text-anchor="end">25</text><text x="702.6" y="256.3" text-anchor="end">30</text></g><text x="830.7" y="452" font-family='"Liberation Sans", Arial, sans-serif' font-size="7" fill="#111" text-anchor="middle">Energy [kcal/mol]</text><text transform="translate(692.3,343.5) rotate(-90)" font-family='"Liberation Sans", Arial, sans-serif' font-size="7" fill="#111" text-anchor="middle">Count</text><text x="860.9" y="263.6" font-family='"Liberation Sans", Arial, sans-serif' font-size="6.6" fill="#222" textLength="48.4" lengthAdjust="spacingAndGlyphs" font-weight="bold">CHON2017-weak</text><line x1="922" y1="260.5" x2="943.6" y2="260.5" stroke="#009e73" stroke-width="1"/><path d="M931.05 258.75L934.55 262.25M931.05 262.25L934.55 258.75" stroke="#009e73" stroke-width="0.95" fill="none"/><text x="852.3" y="273.4" font-family='"Liberation Sans", Arial, sans-serif' font-size="6.6" fill="#222" textLength="57" lengthAdjust="spacingAndGlyphs" font-weight="bold">CHON2017-weak-bb</text><line x1="922" y1="270.5" x2="943.6" y2="270.5" stroke="#000000" stroke-width="1"/><circle cx="932.8" cy="270.5" r="1.2" fill="#000000"/><text x="889" y="283.1" font-family='"Liberation Sans", Arial, sans-serif' font-size="6.6" fill="#222" textLength="20.3" lengthAdjust="spacingAndGlyphs" font-weight="bold">New FF</text><line x1="922" y1="280.5" x2="943.6" y2="280.5" stroke="#0072b2" stroke-width="1"/><circle cx="932.8" cy="280.5" r="1.55" fill="#5d9fd0" stroke="#0072b2" stroke-width="0.9"/><g font-family='"Liberation Sans", Arial, sans-serif' font-size="6.4" fill="#222"><text x="869.4" y="308.4" textLength="22.9" lengthAdjust="spacingAndGlyphs" font-weight="bold">Weights</text><text x="869.4" y="316.4" textLength="25.8" lengthAdjust="spacingAndGlyphs">PES scans</text><text x="898.9" y="316.4" textLength="21.3" lengthAdjust="spacingAndGlyphs">= 0.005</text><text x="869.4" y="324.4" textLength="17.4" lengthAdjust="spacingAndGlyphs">Bonds</text><text x="898.9" y="324.4" textLength="13.2" lengthAdjust="spacingAndGlyphs">= 0.1</text><text x="869.4" y="332.3" textLength="15.5" lengthAdjust="spacingAndGlyphs">Angle</text><text x="898.9" y="332.3" textLength="13.5" lengthAdjust="spacingAndGlyphs">= 5.0</text><text x="869.4" y="340.2" textLength="14.8" lengthAdjust="spacingAndGlyphs">RMSF</text><text x="899.6" y="340.2" textLength="17" lengthAdjust="spacingAndGlyphs">= 0.01</text><text x="869.3" y="355.9" textLength="27.5" lengthAdjust="spacingAndGlyphs" font-weight="bold">#CMA-ES</text><text x="900.1" y="355.9" textLength="31.8" lengthAdjust="spacingAndGlyphs" font-weight="bold">parameters</text><text x="869.3" y="363.9" textLength="31.5" lengthAdjust="spacingAndGlyphs">(best of 10)</text><text x="869.6" y="372.1" textLength="17.6" lengthAdjust="spacingAndGlyphs">10000</text><text x="889.2" y="372.1" textLength="16.2" lengthAdjust="spacingAndGlyphs">mcffit</text><text x="879.1" y="379.8" textLength="6.9" lengthAdjust="spacingAndGlyphs">25</text><text x="889.2" y="379.8" textLength="20.6" lengthAdjust="spacingAndGlyphs">mcrxdd</text></g></g><g><polyline points="999.64,431.35 1007.22,434.4 1014.79,422.2 1022.37,416.1 1029.94,403.9 1037.51,361.2 1045.09,382.55 1052.66,382.55 1060.24,333.75 1067.81,376.45 1075.39,400.85 1082.96,397.8 1090.54,425.25 1098.11,416.1 1105.69,425.25 1113.26,428.3 1120.84,406.95 1128.41,431.35 1135.99,428.3 1143.56,428.3" fill="none" stroke="#009e73" stroke-width="1.1" stroke-linejoin="round"/><path d="M997.89 429.6L1001.39 433.1M997.89 433.1L1001.39 429.6" stroke="#009e73" stroke-width="0.95" fill="none"/><path d="M1005.47 432.65L1008.97 436.15M1005.47 436.15L1008.97 432.65" stroke="#009e73" stroke-width="0.95" fill="none"/><path d="M1013.04 420.45L1016.54 423.95M1013.04 423.95L1016.54 420.45" stroke="#009e73" stroke-width="0.95" fill="none"/><path d="M1020.62 414.35L1024.12 417.85M1020.62 417.85L1024.12 414.35" stroke="#009e73" stroke-width="0.95" fill="none"/><path d="M1028.19 402.15L1031.69 405.65M1028.19 405.65L1031.69 402.15" stroke="#009e73" stroke-width="0.95" fill="none"/><path d="M1035.76 359.45L1039.26 362.95M1035.76 362.95L1039.26 359.45" stroke="#009e73" stroke-width="0.95" fill="none"/><path d="M1043.34 380.8L1046.84 384.3M1043.34 384.3L1046.84 380.8" stroke="#009e73" stroke-width="0.95" fill="none"/><path d="M1050.91 380.8L1054.41 384.3M1050.91 384.3L1054.41 380.8" stroke="#009e73" stroke-width="0.95" fill="none"/><path d="M1058.49 332L1061.99 335.5M1058.49 335.5L1061.99 332" stroke="#009e73" stroke-width="0.95" fill="none"/><path d="M1066.06 374.7L1069.56 378.2M1066.06 378.2L1069.56 374.7" stroke="#009e73" stroke-width="0.95" fill="none"/><path d="M1073.64 399.1L1077.14 402.6M1073.64 402.6L1077.14 399.1" stroke="#009e73" stroke-width="0.95" fill="none"/><path d="M1081.21 396.05L1084.71 399.55M1081.21 399.55L1084.71 396.05" stroke="#009e73" stroke-width="0.95" fill="none"/><path d="M1088.79 423.5L1092.29 427M1088.79 427L1092.29 423.5" stroke="#009e73" stroke-width="0.95" fill="none"/><path d="M1096.36 414.35L1099.86 417.85M1096.36 417.85L1099.86 414.35" stroke="#009e73" stroke-width="0.95" fill="none"/><path d="M1103.94 423.5L1107.44 427M1103.94 427L1107.44 423.5" stroke="#009e73" stroke-width="0.95" fill="none"/><path d="M1111.51 426.55L1115.01 430.05M1111.51 430.05L1115.01 426.55" stroke="#009e73" stroke-width="0.95" fill="none"/><path d="M1119.09 405.2L1122.59 408.7M1119.09 408.7L1122.59 405.2" stroke="#009e73" stroke-width="0.95" fill="none"/><path d="M1126.66 429.6L1130.16 433.1M1126.66 433.1L1130.16 429.6" stroke="#009e73" stroke-width="0.95" fill="none"/><path d="M1134.24 426.55L1137.74 430.05M1134.24 430.05L1137.74 426.55" stroke="#009e73" stroke-width="0.95" fill="none"/><path d="M1141.81 426.55L1145.31 430.05M1141.81 430.05L1145.31 426.55" stroke="#009e73" stroke-width="0.95" fill="none"/><polyline points="1016.9,428.3 1023.7,431.35 1030.5,413.05 1037.29,428.3 1044.09,410 1050.89,367.3 1057.69,254.45 1064.48,330.7 1071.28,394.75 1078.08,397.8 1084.88,397.8 1091.67,431.35 1098.47,425.25 1105.27,425.25 1112.07,431.35 1118.86,434.4 1125.66,431.35 1132.46,434.4 1139.26,434.4 1146.06,431.35" fill="none" stroke="#000000" stroke-width="1.1" stroke-linejoin="round"/><path d="M1016.9 426.6L1018.6 429.57L1015.2 429.57Z" fill="#000000"/><path d="M1023.7 429.65L1025.4 432.62L1022 432.62Z" fill="#000000"/><path d="M1030.5 411.35L1032.2 414.32L1028.8 414.32Z" fill="#000000"/><path d="M1037.29 426.6L1038.99 429.57L1035.59 429.57Z" fill="#000000"/><path d="M1044.09 408.3L1045.79 411.27L1042.39 411.27Z" fill="#000000"/><path d="M1050.89 365.6L1052.59 368.57L1049.19 368.57Z" fill="#000000"/><path d="M1057.69 252.75L1059.39 255.73L1055.99 255.73Z" fill="#000000"/><path d="M1064.48 329L1066.18 331.97L1062.78 331.97Z" fill="#000000"/><path d="M1071.28 393.05L1072.98 396.02L1069.58 396.02Z" fill="#000000"/><path d="M1078.08 396.1L1079.78 399.07L1076.38 399.07Z" fill="#000000"/><path d="M1084.88 396.1L1086.58 399.07L1083.18 399.07Z" fill="#000000"/><path d="M1091.67 429.65L1093.37 432.62L1089.97 432.62Z" fill="#000000"/><path d="M1098.47 423.55L1100.17 426.52L1096.77 426.52Z" fill="#000000"/><path d="M1105.27 423.55L1106.97 426.52L1103.57 426.52Z" fill="#000000"/><path d="M1112.07 429.65L1113.77 432.62L1110.37 432.62Z" fill="#000000"/><path d="M1118.86 432.7L1120.56 435.67L1117.16 435.67Z" fill="#000000"/><path d="M1125.66 429.65L1127.36 432.62L1123.96 432.62Z" fill="#000000"/><path d="M1132.46 432.7L1134.16 435.67L1130.76 435.67Z" fill="#000000"/><path d="M1139.26 432.7L1140.96 435.67L1137.56 435.67Z" fill="#000000"/><path d="M1146.06 429.65L1147.76 432.62L1144.36 432.62Z" fill="#000000"/><polyline points="1001.77,431.35 1012.69,422.2 1023.61,431.35 1034.53,403.9 1045.45,306.3 1056.37,333.75 1067.29,336.8 1078.21,376.45 1089.13,416.1 1100.05,425.25 1110.97,413.05 1121.89,425.25 1132.81,413.05 1143.73,431.35 1154.65,416.1 1165.57,434.4 1176.49,431.35 1187.41,431.35 1198.33,422.2 1209.25,431.35" fill="none" stroke="#0072b2" stroke-width="1.1" stroke-linejoin="round"/><circle cx="1001.77" cy="431.35" r="1.55" fill="#5d9fd0" stroke="#0072b2" stroke-width="0.9"/><circle cx="1012.69" cy="422.2" r="1.55" fill="#5d9fd0" stroke="#0072b2" stroke-width="0.9"/><circle cx="1023.61" cy="431.35" r="1.55" fill="#5d9fd0" stroke="#0072b2" stroke-width="0.9"/><circle cx="1034.53" cy="403.9" r="1.55" fill="#5d9fd0" stroke="#0072b2" stroke-width="0.9"/><circle cx="1045.45" cy="306.3" r="1.55" fill="#5d9fd0" stroke="#0072b2" stroke-width="0.9"/><circle cx="1056.37" cy="333.75" r="1.55" fill="#5d9fd0" stroke="#0072b2" stroke-width="0.9"/><circle cx="1067.29" cy="336.8" r="1.55" fill="#5d9fd0" stroke="#0072b2" stroke-width="0.9"/><circle cx="1078.21" cy="376.45" r="1.55" fill="#5d9fd0" stroke="#0072b2" stroke-width="0.9"/><circle cx="1089.13" cy="416.1" r="1.55" fill="#5d9fd0" stroke="#0072b2" stroke-width="0.9"/><circle cx="1100.05" cy="425.25" r="1.55" fill="#5d9fd0" stroke="#0072b2" stroke-width="0.9"/><circle cx="1110.97" cy="413.05" r="1.55" fill="#5d9fd0" stroke="#0072b2" stroke-width="0.9"/><circle cx="1121.89" cy="425.25" r="1.55" fill="#5d9fd0" stroke="#0072b2" stroke-width="0.9"/><circle cx="1132.81" cy="413.05" r="1.55" fill="#5d9fd0" stroke="#0072b2" stroke-width="0.9"/><circle cx="1143.73" cy="431.35" r="1.55" fill="#5d9fd0" stroke="#0072b2" stroke-width="0.9"/><circle cx="1154.65" cy="416.1" r="1.55" fill="#5d9fd0" stroke="#0072b2" stroke-width="0.9"/><circle cx="1165.57" cy="434.4" r="1.55" fill="#5d9fd0" stroke="#0072b2" stroke-width="0.9"/><circle cx="1176.49" cy="431.35" r="1.55" fill="#5d9fd0" stroke="#0072b2" stroke-width="0.9"/><circle cx="1187.41" cy="431.35" r="1.55" fill="#5d9fd0" stroke="#0072b2" stroke-width="0.9"/><circle cx="1198.33" cy="422.2" r="1.55" fill="#5d9fd0" stroke="#0072b2" stroke-width="0.9"/><circle cx="1209.25" cy="431.35" r="1.55" fill="#5d9fd0" stroke="#0072b2" stroke-width="0.9"/><rect x="981.4" y="251.4" width="245.4" height="183" fill="none" stroke="#333" stroke-width="0.9"/><path d="M981.4 434.4v-2.6M981.4 251.4v2.6M1022.3 434.4v-2.6M1022.3 251.4v2.6M1063.2 434.4v-2.6M1063.2 251.4v2.6M1104.1 434.4v-2.6M1104.1 251.4v2.6M1145 434.4v-2.6M1145 251.4v2.6M1185.9 434.4v-2.6M1185.9 251.4v2.6M1226.8 434.4v-2.6M1226.8 251.4v2.6M981.4 434.4h2.6M1226.8 434.4h-2.6M981.4 403.9h2.6M1226.8 403.9h-2.6M981.4 373.4h2.6M1226.8 373.4h-2.6M981.4 342.9h2.6M1226.8 342.9h-2.6M981.4 312.4h2.6M1226.8 312.4h-2.6M981.4 281.9h2.6M1226.8 281.9h-2.6M981.4 251.4h2.6M1226.8 251.4h-2.6" stroke="#333" stroke-width="0.8" fill="none"/><g font-family='"Liberation Sans", Arial, sans-serif' font-size="5.3" fill="#111"><text x="981.4" y="443" text-anchor="middle">-0.1</text><text x="1022.3" y="443" text-anchor="middle">-0.05</text><text x="1063.2" y="443" text-anchor="middle">0</text><text x="1104.1" y="443" text-anchor="middle">0.05</text><text x="1145" y="443" text-anchor="middle">0.1</text><text x="1185.9" y="443" text-anchor="middle">0.15</text><text x="1226.8" y="443" text-anchor="middle">0.2</text><text x="976.6" y="437.2" text-anchor="end">0</text><text x="976.6" y="406.7" text-anchor="end">10</text><text x="976.6" y="376.2" text-anchor="end">20</text><text x="976.6" y="345.7" text-anchor="end">30</text><text x="976.6" y="315.2" text-anchor="end">40</text><text x="976.6" y="284.7" text-anchor="end">50</text><text x="976.6" y="254.2" text-anchor="end">60</text></g><text x="1105" y="452" font-family='"Liberation Sans", Arial, sans-serif' font-size="7" fill="#111" text-anchor="middle">Bondlength</text><text x="1123" y="261.7" font-family='"Liberation Sans", Arial, sans-serif' font-size="6.6" fill="#222" textLength="48.7" lengthAdjust="spacingAndGlyphs">CHON2017-weak</text><line x1="1197.4" y1="258.6" x2="1219.6" y2="258.6" stroke="#009e73" stroke-width="1"/><path d="M1206.75 256.85L1210.25 260.35M1206.75 260.35L1210.25 256.85" stroke="#009e73" stroke-width="0.95" fill="none"/><text x="1114.3" y="271.6" font-family='"Liberation Sans", Arial, sans-serif' font-size="6.6" fill="#222" textLength="57.3" lengthAdjust="spacingAndGlyphs">CHON2017-weak-bb</text><line x1="1197.4" y1="268.5" x2="1219.6" y2="268.5" stroke="#000000" stroke-width="1"/><path d="M1208.5 266.8L1210.2 269.77L1206.8 269.77Z" fill="#000000"/><text x="1151.3" y="281.5" font-family='"Liberation Sans", Arial, sans-serif' font-size="6.6" fill="#222" textLength="20.3" lengthAdjust="spacingAndGlyphs">New FF</text><line x1="1197.4" y1="278.5" x2="1219.6" y2="278.5" stroke="#0072b2" stroke-width="1"/><circle cx="1208.5" cy="278.5" r="1.55" fill="#5d9fd0" stroke="#0072b2" stroke-width="0.9"/></g><g><polyline points="775.73,639.45 783.9,630.29 792.07,632.12 800.24,630.29 808.41,619.3 816.58,604.66 824.75,626.63 832.92,599.16 841.09,584.51 849.26,564.37 857.43,573.53 865.6,588.18 873.77,608.32 881.94,637.61 890.11,621.13 898.28,633.95 906.45,641.28 914.62,637.61 922.79,644.94 930.96,644.94" fill="none" stroke="#009e73" stroke-width="1.1" stroke-linejoin="round"/><path d="M773.98 637.7L777.48 641.2M773.98 641.2L777.48 637.7" stroke="#009e73" stroke-width="0.95" fill="none"/><path d="M782.15 628.54L785.65 632.04M782.15 632.04L785.65 628.54" stroke="#009e73" stroke-width="0.95" fill="none"/><path d="M790.32 630.37L793.82 633.87M790.32 633.87L793.82 630.37" stroke="#009e73" stroke-width="0.95" fill="none"/><path d="M798.49 628.54L801.99 632.04M798.49 632.04L801.99 628.54" stroke="#009e73" stroke-width="0.95" fill="none"/><path d="M806.66 617.55L810.16 621.05M806.66 621.05L810.16 617.55" stroke="#009e73" stroke-width="0.95" fill="none"/><path d="M814.83 602.91L818.33 606.41M814.83 606.41L818.33 602.91" stroke="#009e73" stroke-width="0.95" fill="none"/><path d="M823 624.88L826.5 628.38M823 628.38L826.5 624.88" stroke="#009e73" stroke-width="0.95" fill="none"/><path d="M831.17 597.41L834.67 600.91M831.17 600.91L834.67 597.41" stroke="#009e73" stroke-width="0.95" fill="none"/><path d="M839.34 582.76L842.84 586.26M839.34 586.26L842.84 582.76" stroke="#009e73" stroke-width="0.95" fill="none"/><path d="M847.51 562.62L851.01 566.12M847.51 566.12L851.01 562.62" stroke="#009e73" stroke-width="0.95" fill="none"/><path d="M855.68 571.78L859.18 575.28M855.68 575.28L859.18 571.78" stroke="#009e73" stroke-width="0.95" fill="none"/><path d="M863.85 586.43L867.35 589.93M863.85 589.93L867.35 586.43" stroke="#009e73" stroke-width="0.95" fill="none"/><path d="M872.02 606.57L875.52 610.07M872.02 610.07L875.52 606.57" stroke="#009e73" stroke-width="0.95" fill="none"/><path d="M880.19 635.86L883.69 639.36M880.19 639.36L883.69 635.86" stroke="#009e73" stroke-width="0.95" fill="none"/><path d="M888.36 619.38L891.86 622.88M888.36 622.88L891.86 619.38" stroke="#009e73" stroke-width="0.95" fill="none"/><path d="M896.53 632.2L900.03 635.7M896.53 635.7L900.03 632.2" stroke="#009e73" stroke-width="0.95" fill="none"/><path d="M904.7 639.53L908.2 643.03M904.7 643.03L908.2 639.53" stroke="#009e73" stroke-width="0.95" fill="none"/><path d="M912.87 635.86L916.37 639.36M912.87 639.36L916.37 635.86" stroke="#009e73" stroke-width="0.95" fill="none"/><path d="M921.04 643.19L924.54 646.69M921.04 646.69L924.54 643.19" stroke="#009e73" stroke-width="0.95" fill="none"/><path d="M929.21 643.19L932.71 646.69M929.21 646.69L932.71 643.19" stroke="#009e73" stroke-width="0.95" fill="none"/><polyline points="782.51,644.94 789.5,644.94 796.49,639.45 803.48,643.11 810.47,637.61 817.46,641.28 824.45,619.3 831.44,579.02 838.43,597.33 845.42,476.49 852.41,547.89 859.4,566.21 866.39,633.95 873.38,615.64 880.37,641.28 887.36,644.94 894.35,648.6 901.34,646.77 908.33,646.77 915.32,644.94" fill="none" stroke="#000000" stroke-width="1.1" stroke-linejoin="round"/><path d="M782.51 643.24L784.21 646.21L780.81 646.21Z" fill="#000000"/><path d="M789.5 643.24L791.2 646.21L787.8 646.21Z" fill="#000000"/><path d="M796.49 637.75L798.19 640.72L794.79 640.72Z" fill="#000000"/><path d="M803.48 641.41L805.18 644.38L801.78 644.38Z" fill="#000000"/><path d="M810.47 635.91L812.17 638.89L808.77 638.89Z" fill="#000000"/><path d="M817.46 639.58L819.16 642.55L815.76 642.55Z" fill="#000000"/><path d="M824.45 617.6L826.15 620.58L822.75 620.58Z" fill="#000000"/><path d="M831.44 577.32L833.14 580.3L829.74 580.3Z" fill="#000000"/><path d="M838.43 595.63L840.13 598.61L836.73 598.61Z" fill="#000000"/><path d="M845.42 474.79L847.12 477.76L843.72 477.76Z" fill="#000000"/><path d="M852.41 546.19L854.11 549.17L850.71 549.17Z" fill="#000000"/><path d="M859.4 564.5L861.1 567.48L857.7 567.48Z" fill="#000000"/><path d="M866.39 632.25L868.09 635.23L864.69 635.23Z" fill="#000000"/><path d="M873.38 613.94L875.08 616.92L871.68 616.92Z" fill="#000000"/><path d="M880.37 639.58L882.07 642.55L878.67 642.55Z" fill="#000000"/><path d="M887.36 643.24L889.06 646.21L885.66 646.21Z" fill="#000000"/><path d="M894.35 646.9L896.05 649.88L892.65 649.88Z" fill="#000000"/><path d="M901.34 645.07L903.04 648.04L899.64 648.04Z" fill="#000000"/><path d="M908.33 645.07L910.03 648.04L906.63 648.04Z" fill="#000000"/><path d="M915.32 643.24L917.02 646.21L913.62 646.21Z" fill="#000000"/><polyline points="718.59,644.94 729.2,648.6 739.81,646.77 750.43,646.77 761.04,641.28 771.65,643.11 782.27,626.63 792.88,635.78 803.49,617.47 814.11,611.98 824.72,591.84 835.33,546.06 845.95,555.22 856.56,566.21 867.17,575.36 877.79,637.61 888.4,619.3 899.02,624.8 909.63,648.6 920.24,635.78" fill="none" stroke="#0072b2" stroke-width="1.1" stroke-linejoin="round"/><circle cx="718.59" cy="644.94" r="1.55" fill="#5d9fd0" stroke="#0072b2" stroke-width="0.9"/><circle cx="729.2" cy="648.6" r="1.55" fill="#5d9fd0" stroke="#0072b2" stroke-width="0.9"/><circle cx="739.81" cy="646.77" r="1.55" fill="#5d9fd0" stroke="#0072b2" stroke-width="0.9"/><circle cx="750.43" cy="646.77" r="1.55" fill="#5d9fd0" stroke="#0072b2" stroke-width="0.9"/><circle cx="761.04" cy="641.28" r="1.55" fill="#5d9fd0" stroke="#0072b2" stroke-width="0.9"/><circle cx="771.65" cy="643.11" r="1.55" fill="#5d9fd0" stroke="#0072b2" stroke-width="0.9"/><circle cx="782.27" cy="626.63" r="1.55" fill="#5d9fd0" stroke="#0072b2" stroke-width="0.9"/><circle cx="792.88" cy="635.78" r="1.55" fill="#5d9fd0" stroke="#0072b2" stroke-width="0.9"/><circle cx="803.49" cy="617.47" r="1.55" fill="#5d9fd0" stroke="#0072b2" stroke-width="0.9"/><circle cx="814.11" cy="611.98" r="1.55" fill="#5d9fd0" stroke="#0072b2" stroke-width="0.9"/><circle cx="824.72" cy="591.84" r="1.55" fill="#5d9fd0" stroke="#0072b2" stroke-width="0.9"/><circle cx="835.33" cy="546.06" r="1.55" fill="#5d9fd0" stroke="#0072b2" stroke-width="0.9"/><circle cx="845.95" cy="555.22" r="1.55" fill="#5d9fd0" stroke="#0072b2" stroke-width="0.9"/><circle cx="856.56" cy="566.21" r="1.55" fill="#5d9fd0" stroke="#0072b2" stroke-width="0.9"/><circle cx="867.17" cy="575.36" r="1.55" fill="#5d9fd0" stroke="#0072b2" stroke-width="0.9"/><circle cx="877.79" cy="637.61" r="1.55" fill="#5d9fd0" stroke="#0072b2" stroke-width="0.9"/><circle cx="888.4" cy="619.3" r="1.55" fill="#5d9fd0" stroke="#0072b2" stroke-width="0.9"/><circle cx="899.02" cy="624.8" r="1.55" fill="#5d9fd0" stroke="#0072b2" stroke-width="0.9"/><circle cx="909.63" cy="648.6" r="1.55" fill="#5d9fd0" stroke="#0072b2" stroke-width="0.9"/><circle cx="920.24" cy="635.78" r="1.55" fill="#5d9fd0" stroke="#0072b2" stroke-width="0.9"/><rect x="709.9" y="465.5" width="244.3" height="183.1" fill="none" stroke="#333" stroke-width="0.9"/><path d="M709.9 648.6v-2.6M709.9 465.5v2.6M737.04 648.6v-2.6M737.04 465.5v2.6M764.19 648.6v-2.6M764.19 465.5v2.6M791.33 648.6v-2.6M791.33 465.5v2.6M818.48 648.6v-2.6M818.48 465.5v2.6M845.62 648.6v-2.6M845.62 465.5v2.6M872.77 648.6v-2.6M872.77 465.5v2.6M899.91 648.6v-2.6M899.91 465.5v2.6M927.06 648.6v-2.6M927.06 465.5v2.6M954.2 648.6v-2.6M954.2 465.5v2.6M709.9 648.6h2.6M954.2 648.6h-2.6M709.9 630.29h2.6M954.2 630.29h-2.6M709.9 611.98h2.6M954.2 611.98h-2.6M709.9 593.67h2.6M954.2 593.67h-2.6M709.9 575.36h2.6M954.2 575.36h-2.6M709.9 557.05h2.6M954.2 557.05h-2.6M709.9 538.74h2.6M954.2 538.74h-2.6M709.9 520.43h2.6M954.2 520.43h-2.6M709.9 502.12h2.6M954.2 502.12h-2.6M709.9 483.81h2.6M954.2 483.81h-2.6M709.9 465.5h2.6M954.2 465.5h-2.6" stroke="#333" stroke-width="0.8" fill="none"/><g font-family='"Liberation Sans", Arial, sans-serif' font-size="5.3" fill="#111"><text x="709.9" y="657.2" text-anchor="middle">-10</text><text x="737.04" y="657.2" text-anchor="middle">-8</text><text x="764.19" y="657.2" text-anchor="middle">-6</text><text x="791.33" y="657.2" text-anchor="middle">-4</text><text x="818.48" y="657.2" text-anchor="middle">-2</text><text x="845.62" y="657.2" text-anchor="middle">0</text><text x="872.77" y="657.2" text-anchor="middle">2</text><text x="899.91" y="657.2" text-anchor="middle">4</text><text x="927.06" y="657.2" text-anchor="middle">6</text><text x="954.2" y="657.2" text-anchor="middle">8</text><text x="705.1" y="651.4" text-anchor="end">0</text><text x="705.1" y="633.09" text-anchor="end">10</text><text x="705.1" y="614.78" text-anchor="end">20</text><text x="705.1" y="596.47" text-anchor="end">30</text><text x="705.1" y="578.16" text-anchor="end">40</text><text x="705.1" y="559.85" text-anchor="end">50</text><text x="705.1" y="541.54" text-anchor="end">60</text><text x="705.1" y="523.23" text-anchor="end">70</text><text x="705.1" y="504.92" text-anchor="end">80</text><text x="705.1" y="486.61" text-anchor="end">90</text><text x="705.1" y="468.3" text-anchor="end">100</text></g><text x="831.7" y="666" font-family='"Liberation Sans", Arial, sans-serif' font-size="7" fill="#111" text-anchor="middle">Angles</text><text transform="translate(692.3,557) rotate(-90)" font-family='"Liberation Sans", Arial, sans-serif' font-size="7" fill="#111" text-anchor="middle">Count</text><text x="853" y="475.7" font-family='"Liberation Sans", Arial, sans-serif' font-size="6.6" fill="#222" textLength="48.9" lengthAdjust="spacingAndGlyphs">CHON2017-weak</text><line x1="924.5" y1="472.5" x2="946.5" y2="472.5" stroke="#009e73" stroke-width="1"/><path d="M933.75 470.75L937.25 474.25M933.75 474.25L937.25 470.75" stroke="#009e73" stroke-width="0.95" fill="none"/><text x="841" y="485.8" font-family='"Liberation Sans", Arial, sans-serif' font-size="6.6" fill="#222" textLength="57.5" lengthAdjust="spacingAndGlyphs">CHON2017-weak-bb</text><line x1="924.5" y1="482.5" x2="946.5" y2="482.5" stroke="#000000" stroke-width="1"/><path d="M935.5 480.8L937.2 483.77L933.8 483.77Z" fill="#000000"/><text x="890.9" y="495.7" font-family='"Liberation Sans", Arial, sans-serif' font-size="6.6" fill="#222" textLength="20.3" lengthAdjust="spacingAndGlyphs">New FF</text><line x1="924.5" y1="492.5" x2="946.5" y2="492.5" stroke="#0072b2" stroke-width="1"/><circle cx="935.5" cy="492.5" r="1.55" fill="#5d9fd0" stroke="#0072b2" stroke-width="0.9"/></g><g><rect x="1010.51" y="466" width="4.61" height="183" fill="#009e73"/><rect x="1080.56" y="557.5" width="4.61" height="91.5" fill="#009e73"/><rect x="1091.78" y="557.5" width="4.61" height="91.5" fill="#009e73"/><rect x="1005.96" y="557.5" width="4.61" height="91.5" fill="#000000"/><rect x="1015.66" y="557.5" width="4.61" height="91.5" fill="#000000"/><rect x="1087.84" y="557.5" width="4.61" height="91.5" fill="#000000"/><rect x="1200.04" y="557.5" width="4.61" height="91.5" fill="#000000"/><rect x="1020.21" y="557.5" width="4.61" height="91.5" fill="#0072b2"/><rect x="1031.73" y="557.5" width="4.61" height="91.5" fill="#0072b2"/><rect x="1095.11" y="466" width="4.61" height="183" fill="#0072b2"/><rect x="983.7" y="466" width="242.6" height="183" fill="none" stroke="#333" stroke-width="0.9"/><path d="M983.7 649v-2.6M983.7 466v2.6M1014.03 649v-2.6M1014.03 466v2.6M1044.35 649v-2.6M1044.35 466v2.6M1074.67 649v-2.6M1074.67 466v2.6M1105 649v-2.6M1105 466v2.6M1135.33 649v-2.6M1135.33 466v2.6M1165.65 649v-2.6M1165.65 466v2.6M1195.97 649v-2.6M1195.97 466v2.6M1226.3 649v-2.6M1226.3 466v2.6M983.7 649h2.6M1226.3 649h-2.6M983.7 603.25h2.6M1226.3 603.25h-2.6M983.7 557.5h2.6M1226.3 557.5h-2.6M983.7 511.75h2.6M1226.3 511.75h-2.6M983.7 466h2.6M1226.3 466h-2.6" stroke="#333" stroke-width="0.8" fill="none"/><g font-family='"Liberation Sans", Arial, sans-serif' font-size="5.3" fill="#111"><text x="983.7" y="657.6" text-anchor="middle">10</text><text x="1014.03" y="657.6" text-anchor="middle">20</text><text x="1044.35" y="657.6" text-anchor="middle">30</text><text x="1074.67" y="657.6" text-anchor="middle">40</text><text x="1105" y="657.6" text-anchor="middle">50</text><text x="1135.33" y="657.6" text-anchor="middle">60</text><text x="1165.65" y="657.6" text-anchor="middle">70</text><text x="1195.97" y="657.6" text-anchor="middle">80</text><text x="1226.3" y="657.6" text-anchor="middle">90</text><text x="978.9" y="651.8" text-anchor="end">0</text><text x="978.9" y="606.05" text-anchor="end">0.5</text><text x="978.9" y="560.3" text-anchor="end">1</text><text x="978.9" y="514.55" text-anchor="end">1.5</text><text x="978.9" y="468.8" text-anchor="end">2</text></g><text x="1105" y="666" font-family='"Liberation Sans", Arial, sans-serif' font-size="7" fill="#111" text-anchor="middle">RMSG</text><text x="1136" y="476.6" font-family='"Liberation Sans", Arial, sans-serif' font-size="6.6" fill="#222" textLength="48.5" lengthAdjust="spacingAndGlyphs">CHON2017-weak</text><rect x="1197.5" y="470.85" width="21.4" height="4.7" fill="#009e73"/><text x="1127" y="486.4" font-family='"Liberation Sans", Arial, sans-serif' font-size="6.6" fill="#222" textLength="57.3" lengthAdjust="spacingAndGlyphs">CHON2017-weak-bb</text><rect x="1197.5" y="480.65" width="21.4" height="4.7" fill="#000000"/><text x="1164" y="496.3" font-family='"Liberation Sans", Arial, sans-serif' font-size="6.6" fill="#222" textLength="20.3" lengthAdjust="spacingAndGlyphs">New FF</text><rect x="1197.5" y="490.55" width="21.4" height="4.7" fill="#0072b2"/></g></svg></body></html>
